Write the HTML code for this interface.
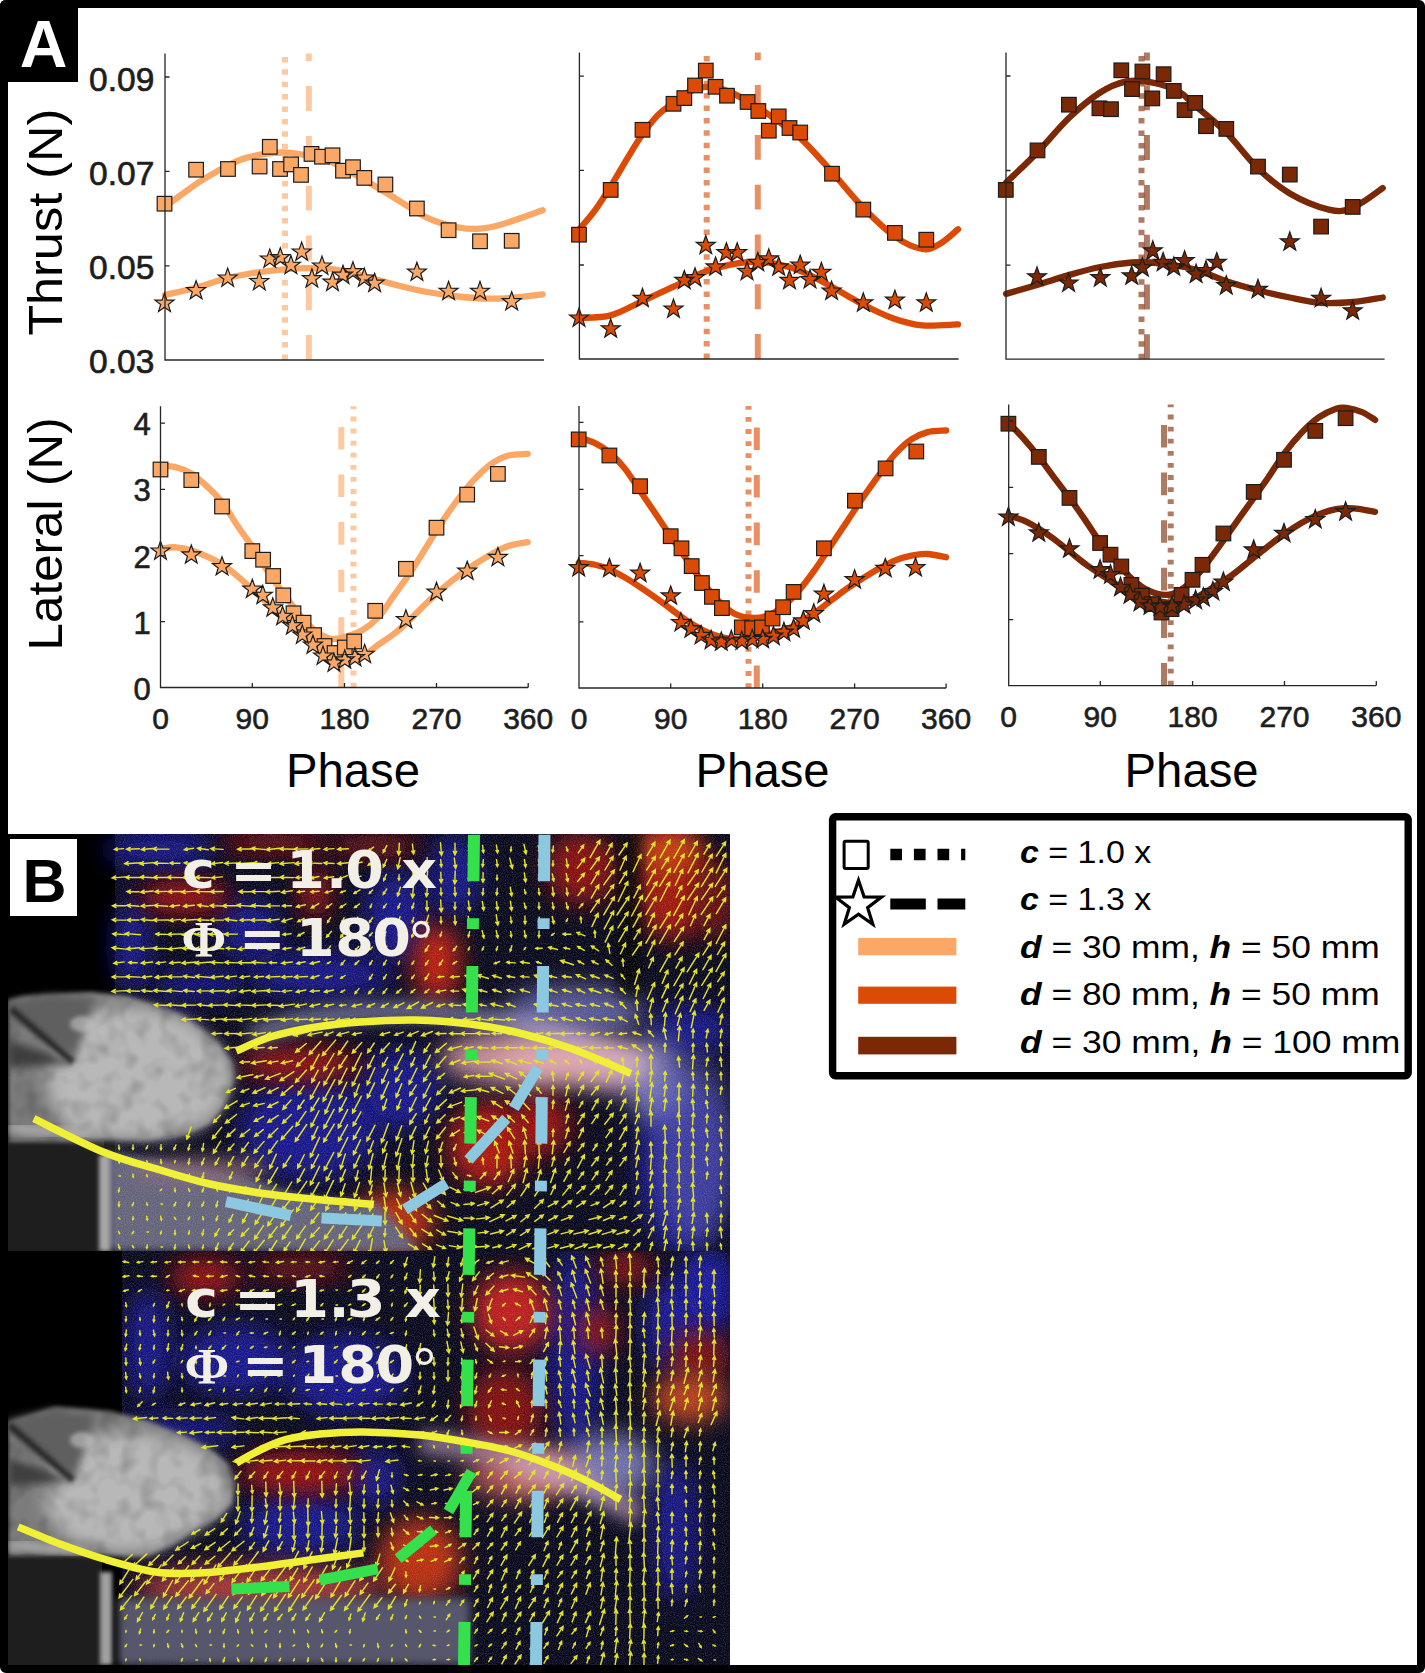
<!DOCTYPE html>
<html><head><meta charset="utf-8"><title>Figure</title>
<style>html,body{margin:0;padding:0;background:#fff;}body{width:1425px;height:1673px;overflow:hidden;}svg{display:block;}</style>
</head><body>
<svg width="1425" height="1673" viewBox="0 0 1425 1673" font-family="Liberation Sans, Arial, sans-serif">
<rect x="0" y="0" width="1425" height="1673" fill="#fff"/>
<defs>
<filter id="b2" x="-50%" y="-50%" width="200%" height="200%"><feGaussianBlur stdDeviation="2"/></filter>
<filter id="b4" x="-50%" y="-50%" width="200%" height="200%"><feGaussianBlur stdDeviation="4"/></filter>
<filter id="b8" x="-50%" y="-50%" width="200%" height="200%"><feGaussianBlur stdDeviation="8"/></filter>
<filter id="b12" x="-50%" y="-50%" width="200%" height="200%"><feGaussianBlur stdDeviation="12"/></filter>
<filter id="b20" x="-50%" y="-50%" width="200%" height="200%"><feGaussianBlur stdDeviation="20"/></filter>
<filter id="noise" x="0" y="0" width="100%" height="100%"><feTurbulence type="fractalNoise" baseFrequency="0.9" numOctaves="1" seed="3"/><feColorMatrix type="matrix" values="0 0 0 0 1  0 0 0 0 1  0 0 0 0 1  0 0 0 -2.4 1.45"/></filter>
<filter id="tex" x="0" y="0" width="100%" height="100%"><feTurbulence type="fractalNoise" baseFrequency="0.05" numOctaves="2" seed="7"/><feColorMatrix type="matrix" values="0 0 0 0 0  0 0 0 0 0  0 0 0 0 0  0 0 0 -1.6 0.9"/></filter>
<clipPath id="f1"><rect x="8" y="834" width="722" height="417"/></clipPath>
<clipPath id="f2"><rect x="8" y="1251" width="722" height="414"/></clipPath>
</defs>
<defs><clipPath id="fish1c"><polygon points="8,1000 24,996 91,992 128,996 155,1005 182,1015 201,1029 219,1044 232,1062 234,1079 224,1106 210,1124 182,1135 146,1141 110,1139 73,1142 8,1142"/></clipPath><clipPath id="fish2c"><polygon points="8,1422 55,1407 110,1411 146,1420 182,1435 210,1449 228,1464 234,1482 232,1504 215,1519 192,1531 173,1544 146,1557 110,1555 8,1556"/></clipPath></defs>
<g clip-path="url(#f1)"><rect x="8" y="834" width="722" height="417" fill="#000"/>
<rect x="115" y="834" width="615" height="417" fill="#07071c"/>
<ellipse cx="160" cy="850" rx="55" ry="18" fill="#1a1aa8" fill-opacity="0.80" filter="url(#b12)"/>
<ellipse cx="132" cy="945" rx="18" ry="45" fill="#1a1aa8" fill-opacity="0.80" filter="url(#b12)"/>
<ellipse cx="200" cy="985" rx="45" ry="14" fill="#1a1aa8" fill-opacity="0.80" filter="url(#b12)"/>
<ellipse cx="395" cy="915" rx="30" ry="45" fill="#1a1aa8" fill-opacity="0.80" filter="url(#b12)"/>
<ellipse cx="320" cy="975" rx="70" ry="22" fill="#1a1aa8" fill-opacity="0.80" filter="url(#b12)"/>
<ellipse cx="250" cy="930" rx="30" ry="30" fill="#1a1aa8" fill-opacity="0.80" filter="url(#b12)"/>
<ellipse cx="690" cy="1030" rx="40" ry="25" fill="#1a1aa8" fill-opacity="0.80" filter="url(#b12)"/>
<ellipse cx="310" cy="1130" rx="70" ry="50" fill="#1a1aa8" fill-opacity="0.80" filter="url(#b12)"/>
<ellipse cx="400" cy="1090" rx="40" ry="40" fill="#1a1aa8" fill-opacity="0.80" filter="url(#b12)"/>
<ellipse cx="683" cy="1165" rx="45" ry="90" fill="#1a1aa8" fill-opacity="0.80" filter="url(#b12)"/>
<ellipse cx="150" cy="1030" rx="40" ry="12" fill="#1a1aa8" fill-opacity="0.80" filter="url(#b12)"/>
<ellipse cx="455" cy="875" rx="25" ry="40" fill="#1a1aa8" fill-opacity="0.80" filter="url(#b12)"/>
<ellipse cx="185" cy="897" rx="45" ry="16" fill="#a80c0c" fill-opacity="0.95" filter="url(#b12)"/>
<ellipse cx="275" cy="842" rx="55" ry="10" fill="#900a0a" fill-opacity="0.95" filter="url(#b12)"/>
<ellipse cx="315" cy="893" rx="15" ry="25" fill="#a00e0e" fill-opacity="0.95" filter="url(#b12)"/>
<ellipse cx="375" cy="846" rx="45" ry="12" fill="#780808" fill-opacity="0.95" filter="url(#b12)"/>
<ellipse cx="437" cy="962" rx="24" ry="38" fill="#c41c10" fill-opacity="0.95" filter="url(#b12)"/>
<ellipse cx="582" cy="868" rx="36" ry="36" fill="#900c0c" fill-opacity="0.95" filter="url(#b12)"/>
<ellipse cx="672" cy="885" rx="38" ry="55" fill="#a8180c" fill-opacity="0.95" filter="url(#b12)"/>
<ellipse cx="668" cy="850" rx="32" ry="20" fill="#c8400e" fill-opacity="0.95" filter="url(#b12)"/>
<ellipse cx="715" cy="900" rx="20" ry="40" fill="#70100a" fill-opacity="0.95" filter="url(#b12)"/>
<ellipse cx="300" cy="1064" rx="60" ry="16" fill="#a80e0e" fill-opacity="0.95" filter="url(#b12)"/>
<ellipse cx="488" cy="1145" rx="40" ry="42" fill="#b41810" fill-opacity="0.95" filter="url(#b12)"/>
<ellipse cx="395" cy="1220" rx="40" ry="30" fill="#c03012" fill-opacity="0.95" filter="url(#b12)"/>
<ellipse cx="350" cy="1235" rx="60" ry="20" fill="#a03020" fill-opacity="0.95" filter="url(#b12)"/>
<ellipse cx="540" cy="1125" rx="30" ry="30" fill="#a01010" fill-opacity="0.95" filter="url(#b12)"/>
<ellipse cx="575" cy="1012" rx="70" ry="28" fill="#6a6ab4" fill-opacity="0.80" filter="url(#b12)"/>
<ellipse cx="520" cy="1058" rx="80" ry="26" fill="#d89aa4" fill-opacity="0.90" filter="url(#b12)"/>
<ellipse cx="615" cy="1068" rx="40" ry="22" fill="#c8a0c0" fill-opacity="0.85" filter="url(#b12)"/>
<ellipse cx="655" cy="1080" rx="30" ry="42" fill="#8c8cd4" fill-opacity="0.75" filter="url(#b12)"/>
<rect x="620" y="834" width="18" height="160" fill="#000" filter="url(#b8)"/>
<ellipse cx="695" cy="1150" rx="40" ry="95" fill="#5a5ab0" fill-opacity="0.55" filter="url(#b12)"/>
<path d="M100,1150 L240,1175 L300,1195 L380,1205 L420,1251 L100,1251 Z" fill="#62627a" filter="url(#b4)"/>
<ellipse cx="200" cy="1170" rx="70" ry="14" fill="#8a6a78" fill-opacity="0.70" filter="url(#b8)"/>
<rect x="115" y="834" width="615" height="417" filter="url(#noise)" opacity="0.16"/>
<rect x="8" y="1140" width="96" height="111" fill="#1e1e1e"/>
<rect x="99" y="1155" width="11" height="96" fill="#a8a8a8" filter="url(#b2)"/>
<polygon points="8,1000 24,996 91,992 128,996 155,1005 182,1015 201,1029 219,1044 232,1062 234,1079 224,1106 210,1124 182,1135 146,1141 110,1139 73,1142 8,1142" fill="#7c7c7c" filter="url(#b2)"/>
<polygon points="60,1030 100,1005 150,1008 190,1022 220,1048 232,1075 222,1105 200,1128 160,1138 110,1138 70,1130 50,1100 45,1070" fill="#b8b8b8" filter="url(#b8)"/>
<rect x="8" y="993" width="226" height="150" fill="#000" filter="url(#tex)" opacity="0.25" clip-path="url(#fish1c)"/>
<polygon points="8,1002 50,995 95,998 75,1060 8,1012" fill="#5e5e5e" filter="url(#b4)"/>
<ellipse cx="82" cy="1024" rx="12" ry="8" fill="#c8c8c8" fill-opacity="0.60" filter="url(#b2)"/>
<path d="M11,1009 L73,1062" stroke="#2a2a2a" stroke-width="7" filter="url(#b2)"/>
<polygon points="8,1040 76,1063 8,1068" fill="#3c3c3c" filter="url(#b4)"/>
<path d="M9,1128 L90,1134" stroke="#b4b4b4" stroke-width="8" filter="url(#b4)"/>
<path d="M250.0,1046.0 C260.3,1043.0 284.0,1032.0 311.6,1027.7 C339.2,1023.4 380.8,1019.1 415.4,1020.0 C450.0,1020.9 493.3,1028.2 519.3,1033.0 C545.3,1037.8 551.1,1041.0 571.2,1048.5 C591.3,1056.0 628.5,1073.1 640.0,1078.0" transform="translate(0,-9)" fill="none" stroke="#b0b0dc" stroke-width="20" stroke-opacity="0.55" filter="url(#b8)"/>
<ellipse cx="575" cy="1062" rx="75" ry="20" fill="#eab0b8" fill-opacity="0.80" filter="url(#b12)"/>
<path d="M123.5,848.6L114.5,849.4M117.3,850.5L114.5,849.4L117.1,847.8M139.4,848.8L126.6,849.2M130.2,850.9L126.6,849.2L130.1,847.4M152.6,848.5L141.4,849.5M144.9,850.9L141.4,849.5L144.6,847.5M169.0,849.1L153.0,848.9M156.5,850.7L153.0,848.9L156.6,847.2M193.6,848.3L184.4,849.7M187.4,850.6L184.4,849.7L187.0,847.9M208.4,849.7L197.6,848.3M200.6,850.3L197.6,848.3L201.0,847.1M223.1,849.4L210.9,848.6M214.3,850.6L210.9,848.6L214.5,847.1M252.4,848.8L237.6,849.2M241.2,850.9L237.6,849.2L241.1,847.4M266.5,849.6L251.5,848.4M254.9,850.4L251.5,848.4L255.1,847.0M279.7,848.3L266.3,849.7M269.9,851.1L266.3,849.7L269.6,847.6M294.2,849.3L279.8,848.7M283.3,850.6L279.8,848.7L283.4,847.1M308.0,848.9L294.0,849.1M297.5,850.8L294.0,849.1L297.5,847.3M319.9,848.5L310.1,849.5M313.2,850.7L310.1,849.5L312.9,847.7M333.8,848.6L324.2,849.4M327.2,850.6L324.2,849.4L327.0,847.7M348.3,848.7L337.7,849.3M341.0,850.7L337.7,849.3L340.8,847.5M373.5,847.1L368.5,850.9M370.6,850.5L368.5,850.9L369.4,849.0M386.8,845.6L383.2,852.4M385.3,850.9L383.2,852.4L383.2,849.8M399.3,843.2L398.7,854.8M400.6,851.4L398.7,854.8L397.1,851.2M412.4,844.0L413.6,854.0M414.7,850.8L413.6,854.0L411.7,851.2M440.5,842.7L441.5,855.3M442.9,851.7L441.5,855.3L439.5,851.9M455.0,843.2L455.0,854.8M456.7,851.3L455.0,854.8L453.3,851.3M468.3,845.6L469.7,852.4M470.3,850.2L469.7,852.4L468.3,850.6M482.6,845.4L483.4,852.6M484.2,850.3L483.4,852.6L482.1,850.5M496.4,845.1L497.6,852.9M498.4,850.4L497.6,852.9L496.1,850.7M511.1,846.8L510.9,851.2M511.6,849.9L510.9,851.2L510.3,849.8M524.0,844.2L526.0,853.8M526.8,850.6L526.0,853.8L524.0,851.2M538.1,845.6L539.9,852.4M540.4,850.1L539.9,852.4L538.3,850.6M553.4,846.0L552.6,852.0M553.7,850.3L552.6,852.0L551.9,850.1M566.3,846.9L567.7,851.1M567.9,849.6L567.7,851.1L566.6,850.1M578.3,852.9L583.7,845.1M580.9,846.6L583.7,845.1L583.2,848.2M590.1,857.7L599.9,840.3M596.7,842.5L599.9,840.3L599.7,844.2M605.9,854.7L612.1,843.3M608.9,845.5L612.1,843.3L612.0,847.2M618.9,855.0L627.1,843.0M623.7,844.9L627.1,843.0L626.6,846.9M647.1,855.7L654.9,842.3M651.7,844.5L654.9,842.3L654.7,846.2M660.0,857.8L670.0,840.2M666.8,842.4L670.0,840.2L669.8,844.1M673.7,858.3L684.3,839.7M681.0,841.9L684.3,839.7L684.1,843.6M688.7,856.5L697.3,841.5M694.1,843.7L697.3,841.5L697.1,845.4M703.9,854.1L710.1,843.9M706.8,846.0L710.1,843.9L709.8,847.8M716.4,856.1L725.6,841.9M722.2,843.9L725.6,841.9L725.1,845.8M141.3,862.7L124.7,863.7M128.3,865.2L124.7,863.7L128.1,861.7M154.0,862.6L140.0,863.8M143.6,865.2L140.0,863.8L143.3,861.7M168.0,863.4L154.0,863.0M157.5,864.9L154.0,863.0L157.5,861.4M180.0,863.3L170.0,863.1M173.0,864.7L170.0,863.1L173.0,861.7M193.7,863.5L184.3,862.9M187.0,864.5L184.3,862.9L187.2,861.7M222.5,862.5L211.5,863.9M215.0,865.1L211.5,863.9L214.6,861.8M237.2,862.9L224.8,863.5M228.4,865.1L224.8,863.5L228.3,861.6M253.0,862.6L237.0,863.8M240.6,865.3L237.0,863.8L240.3,861.8M264.5,863.6L253.5,862.8M256.7,864.7L253.5,862.8L256.9,861.4M278.3,862.6L267.7,863.8M271.1,865.0L267.7,863.8L270.7,861.9M294.0,862.6L280.0,863.8M283.7,865.2L280.0,863.8L283.4,861.7M306.9,862.6L295.1,863.8M298.8,865.2L295.1,863.8L298.4,861.7M321.8,863.5L308.2,862.9M311.7,864.8L308.2,862.9L311.8,861.3M334.0,863.5L324.0,862.9M326.9,864.5L324.0,862.9L327.1,861.6M348.2,862.7L337.8,863.7M341.1,865.0L337.8,863.7L340.8,861.8M362.1,862.0L351.9,864.4M355.3,865.2L351.9,864.4L354.6,862.2M373.8,861.2L368.2,865.2M370.5,864.8L368.2,865.2L369.3,863.2M386.8,859.3L383.2,867.1M385.4,865.3L383.2,867.1L383.1,864.2M400.2,857.7L397.8,868.7M400.2,865.8L397.8,868.7L396.8,865.0M412.5,860.1L413.5,866.3M414.1,864.3L413.5,866.3L412.3,864.6M427.2,857.6L426.8,868.8M428.6,865.5L426.8,868.8L425.2,865.4M440.7,859.6L441.3,866.8M442.2,864.5L441.3,866.8L440.1,864.7M454.3,858.1L455.7,868.3M456.8,865.0L455.7,868.3L453.8,865.5M468.9,860.1L469.1,866.3M470.0,864.4L469.1,866.3L468.1,864.5M483.4,859.7L482.6,866.7M483.9,864.7L482.6,866.7L481.8,864.5M496.6,859.7L497.4,866.7M498.2,864.5L497.4,866.7L496.1,864.7M509.7,858.1L512.3,868.3M513.0,864.9L512.3,868.3L510.0,865.6M524.4,859.4L525.6,867.0M526.3,864.5L525.6,867.0L524.1,864.9M538.3,859.6L539.7,866.8M540.4,864.4L539.7,866.8L538.2,864.9M553.0,860.6L553.0,865.8M553.8,864.2L553.0,865.8L552.2,864.2M566.3,859.0L567.7,867.4M568.5,864.7L567.7,867.4L566.0,865.1M577.3,868.1L584.7,858.3M581.2,860.1L584.7,858.3L584.0,862.2M590.5,869.4L599.5,857.0M596.0,858.8L599.5,857.0L598.9,860.9M604.9,870.0L613.1,856.4M609.8,858.5L613.1,856.4L612.8,860.3M619.9,870.2L626.1,856.2M623.1,858.7L626.1,856.2L626.3,860.2M633.0,871.7L641.0,854.7M637.9,857.1L641.0,854.7L641.1,858.6M646.6,870.0L655.4,856.4M652.0,858.4L655.4,856.4L655.0,860.3M661.4,868.9L668.6,857.5M665.3,859.5L668.6,857.5L668.2,861.4M673.9,872.3L684.1,854.1M680.9,856.3L684.1,854.1L683.9,858.0M688.0,872.8L698.0,853.6M694.9,855.9L698.0,853.6L698.0,857.5M701.8,872.0L712.2,854.4M708.9,856.5L712.2,854.4L712.0,858.3M716.2,872.9L725.8,853.5M722.7,855.9L725.8,853.5L725.8,857.4M125.8,876.9L112.2,877.9M115.9,879.4L112.2,877.9L115.6,875.9M140.4,877.5L125.6,877.3M129.0,879.1L125.6,877.3L129.1,875.6M153.8,877.8L140.2,877.0M143.6,879.0L140.2,877.0L143.8,875.5M168.5,877.3L153.5,877.5M157.1,879.2L153.5,877.5L157.0,875.7M182.6,877.6L167.4,877.2M170.9,879.1L167.4,877.2L170.9,875.6M195.2,877.2L182.8,877.6M186.4,879.2L182.8,877.6L186.3,875.7M210.2,877.6L195.8,877.2M199.2,879.0L195.8,877.2L199.3,875.5M222.3,876.9L211.7,877.9M215.0,879.2L211.7,877.9L214.7,876.0M251.4,877.2L238.6,877.6M242.2,879.3L238.6,877.6L242.0,875.8M265.6,877.8L252.4,877.0M255.8,879.0L252.4,877.0L256.0,875.5M279.6,877.5L266.4,877.3M269.9,879.1L266.4,877.3L270.0,875.6M293.9,877.6L280.1,877.2M283.6,879.0L280.1,877.2L283.7,875.5M306.0,877.2L296.0,877.6M299.0,879.0L296.0,877.6L298.9,876.0M318.9,876.5L311.1,878.3M313.7,879.0L311.1,878.3L313.1,876.6M333.6,876.8L324.4,878.0M327.3,879.0L324.4,878.0L327.0,876.3M347.2,875.6L338.8,879.2M341.8,879.4L338.8,879.2L340.8,876.8M360.9,876.1L353.1,878.7M355.9,879.1L353.1,878.7L355.1,876.8M386.3,874.3L383.7,880.5M385.4,879.0L383.7,880.5L383.6,878.3M399.1,874.7L398.9,880.1M399.8,878.5L398.9,880.1L398.1,878.4M413.0,872.3L413.0,882.5M414.5,879.5L413.0,882.5L411.5,879.4M427.7,870.9L426.3,883.9M428.4,880.5L426.3,883.9L425.0,880.2M440.8,872.2L441.2,882.6M442.7,879.4L441.2,882.6L439.5,879.6M455.2,870.9L454.8,883.9M456.7,880.4L454.8,883.9L453.2,880.3M469.1,874.5L468.9,880.3M469.8,878.6L468.9,880.3L468.1,878.5M483.1,872.6L482.9,882.2M484.4,879.3L482.9,882.2L481.5,879.3M497.0,874.9L497.0,879.9M497.8,878.4L497.0,879.9L496.3,878.4M524.4,873.0L525.6,881.8M526.6,879.0L525.6,881.8L523.9,879.3M538.5,874.6L539.5,880.2M540.0,878.4L539.5,880.2L538.3,878.7M552.3,873.9L553.7,880.9M554.3,878.6L553.7,880.9L552.2,879.0M566.2,873.4L567.8,881.4M568.5,878.8L567.8,881.4L566.1,879.2M577.5,881.5L584.5,873.3M581.2,874.7L584.5,873.3L583.6,876.8M591.1,883.9L598.9,870.9M595.6,873.0L598.9,870.9L598.6,874.8M603.7,884.8L614.3,870.0M610.9,871.8L614.3,870.0L613.7,873.8M619.4,883.4L626.6,871.4M623.3,873.5L626.6,871.4L626.3,875.3M646.7,885.1L655.3,869.7M652.0,871.9L655.3,869.7L655.1,873.6M659.5,886.3L670.5,868.5M667.1,870.6L670.5,868.5L670.1,872.4M675.3,885.3L682.7,869.5M679.7,871.9L682.7,869.5L682.8,873.4M687.7,885.0L698.3,869.8M694.9,871.7L698.3,869.8L697.7,873.7M701.3,886.6L712.7,868.2M709.3,870.3L712.7,868.2L712.3,872.1M715.2,886.4L726.8,868.4M723.5,870.4L726.8,868.4L726.4,872.3M139.0,891.7L127.0,891.5M130.4,893.3L127.0,891.5L130.5,889.8M153.2,891.0L140.8,892.2M144.4,893.6L140.8,892.2L144.1,890.1M166.9,891.4L155.1,891.8M158.7,893.4L155.1,891.8L158.5,889.9M181.9,891.4L168.1,891.8M171.7,893.4L168.1,891.8L171.6,889.9M196.4,891.1L181.6,892.1M185.2,893.6L181.6,892.1L185.0,890.1M210.2,891.8L195.8,891.4M199.2,893.2L195.8,891.4L199.3,889.7M223.5,891.5L210.5,891.7M214.1,893.4L210.5,891.7L214.0,889.9M251.0,891.7L239.0,891.5M242.5,893.3L239.0,891.5L242.6,889.8M266.5,891.6L251.5,891.6M255.0,893.4L251.5,891.6L255.0,889.9M279.9,891.2L266.1,892.0M269.7,893.5L266.1,892.0L269.5,890.0M292.3,890.8L281.7,892.4M285.1,893.5L281.7,892.4L284.6,890.3M304.5,891.2L297.5,892.0M299.7,892.8L297.5,892.0L299.5,890.7M319.1,891.3L310.9,891.9M313.4,893.0L310.9,891.9L313.2,890.5M332.5,890.6L325.5,892.6M327.9,893.1L325.5,892.6L327.3,891.0M345.3,890.7L340.7,892.5M342.3,892.6L340.7,892.5L341.8,891.3M360.0,889.8L354.0,893.4M356.3,893.2L354.0,893.4L355.3,891.4M372.6,890.0L369.4,893.2M370.8,892.7L369.4,893.2L369.9,891.8M386.8,888.9L383.2,894.3M385.1,893.2L383.2,894.3L383.5,892.1M400.4,887.2L397.6,896.0M399.7,893.8L397.6,896.0L397.1,892.9M413.5,885.5L412.5,897.7M414.5,894.3L412.5,897.7L411.0,894.0M427.5,886.7L426.5,896.5M428.3,893.7L426.5,896.5L425.3,893.4M440.8,888.0L441.2,895.2M442.2,893.0L441.2,895.2L440.0,893.1M454.7,887.3L455.3,895.9M456.4,893.2L455.3,895.9L453.8,893.4M469.0,888.4L469.0,894.8M470.0,892.9L469.0,894.8L468.1,892.9M483.3,888.4L482.7,894.8M483.8,893.0L482.7,894.8L481.9,892.8M497.3,888.3L496.7,894.9M497.9,893.0L496.7,894.9L495.9,892.8M510.3,887.3L511.7,895.9M512.6,893.1L511.7,895.9L510.0,893.5M524.4,889.4L525.6,893.8M525.9,892.3L525.6,893.8L524.6,892.7M538.7,888.5L539.3,894.7M540.0,892.8L539.3,894.7L538.2,892.9M552.5,887.3L553.5,895.9M554.5,893.2L553.5,895.9L551.9,893.5M566.6,887.9L567.4,895.3M568.3,893.0L567.4,895.3L566.1,893.2M577.9,895.5L584.1,887.7M581.1,889.1L584.1,887.7L583.4,891.0M591.2,898.2L598.8,885.0M595.6,887.1L598.8,885.0L598.6,888.9M604.2,898.4L613.8,884.8M610.4,886.6L613.8,884.8L613.2,888.6M618.2,901.5L627.8,881.7M624.7,884.1L627.8,881.7L627.9,885.6M633.8,897.9L640.2,885.3M637.1,887.6L640.2,885.3L640.2,889.2M645.0,901.4L657.0,881.8M653.6,883.9L657.0,881.8L656.6,885.7M660.3,901.0L669.7,882.2M666.5,884.5L669.7,882.2L669.7,886.1M676.2,897.3L681.8,885.9M678.7,888.3L681.8,885.9L681.8,889.8M687.5,899.8L698.5,883.4M695.1,885.3L698.5,883.4L698.0,887.3M701.5,899.6L712.5,883.6M709.1,885.5L712.5,883.6L712.0,887.5M717.0,897.2L725.0,886.0M721.6,887.8L725.0,886.0L724.4,889.8M125.6,905.8L112.4,905.8M115.9,907.6L112.4,905.8L115.9,904.1M138.9,906.3L127.1,905.3M130.4,907.4L127.1,905.3L130.7,903.9M152.8,905.5L141.2,906.1M144.8,907.7L141.2,906.1L144.6,904.2M167.7,906.2L154.3,905.4M157.7,907.4L154.3,905.4L157.9,903.9M179.5,905.3L170.5,906.3M173.4,907.3L170.5,906.3L173.1,904.7M194.3,905.3L183.7,906.3M187.0,907.6L183.7,906.3L186.7,904.4M208.1,906.5L197.9,905.1M200.7,907.1L197.9,905.1L201.2,904.0M223.7,906.0L210.3,905.6M213.8,907.5L210.3,905.6L213.9,904.0M239.3,905.8L222.7,905.8M226.2,907.6L222.7,905.8L226.2,904.1M252.9,906.5L237.1,905.1M240.4,907.2L237.1,905.1L240.7,903.7M266.2,906.3L251.8,905.3M255.1,907.3L251.8,905.3L255.4,903.8M279.4,905.9L266.6,905.7M270.1,907.5L266.6,905.7L270.2,904.0M291.5,905.7L282.5,905.9M285.3,907.2L282.5,905.9L285.2,904.5M305.4,904.7L296.6,906.9M299.6,907.6L296.6,906.9L298.9,904.9M318.7,903.6L311.3,908.0M314.2,907.8L311.3,908.0L312.9,905.6M331.7,903.7L326.3,907.9M328.5,907.4L326.3,907.9L327.3,905.8M345.8,904.0L340.2,907.6M342.4,907.3L340.2,907.6L341.4,905.7M359.4,904.0L354.6,907.6M356.6,907.3L354.6,907.6L355.5,905.8M371.7,904.0L370.3,907.6M371.3,906.8L370.3,907.6L370.2,906.3M386.5,903.9L383.5,907.7M385.0,907.0L383.5,907.7L383.8,906.1M400.0,903.4L398.0,908.2M399.3,907.1L398.0,908.2L397.9,906.5M413.9,903.1L412.1,908.5M413.5,907.1L412.1,908.5L411.8,906.6M426.8,901.0L427.2,910.6M428.5,907.7L427.2,910.6L425.7,907.8M440.7,899.9L441.3,911.7M442.9,908.1L441.3,911.7L439.4,908.3M455.0,902.2L455.0,909.4M456.1,907.2L455.0,909.4L453.9,907.2M468.4,900.9L469.6,910.7M470.7,907.6L469.6,910.7L467.8,907.9M482.3,901.4L483.7,910.2M484.6,907.3L483.7,910.2L482.0,907.8M496.4,901.7L497.6,909.9M498.5,907.2L497.6,909.9L496.0,907.6M510.4,901.2L511.6,910.4M512.6,907.5L511.6,910.4L509.9,907.8M524.2,903.1L525.8,908.5M526.1,906.7L525.8,908.5L524.5,907.1M538.9,902.7L539.1,908.9M540.0,907.0L539.1,908.9L538.1,907.1M552.5,902.6L553.5,909.0M554.2,906.9L553.5,909.0L552.2,907.2M566.2,902.7L567.8,908.9M568.3,906.8L567.8,908.9L566.4,907.3M579.2,907.9L582.8,903.7M581.1,904.4L582.8,903.7L582.3,905.5M590.6,912.2L599.4,899.4M596.0,901.3L599.4,899.4L598.9,903.3M603.7,914.8L614.3,896.8M611.0,898.9L614.3,896.8L614.1,900.7M617.0,915.0L629.0,896.6M625.7,898.6L629.0,896.6L628.6,900.5M631.6,916.0L642.4,895.6M639.2,897.9L642.4,895.6L642.3,899.5M645.8,914.6L656.2,897.0M652.9,899.1L656.2,897.0L655.9,900.9M673.7,915.4L684.3,896.2M681.1,898.4L684.3,896.2L684.1,900.1M688.8,914.8L697.2,896.8M694.2,899.2L697.2,896.8L697.3,900.7M701.2,914.4L712.8,897.2M709.4,899.1L712.8,897.2L712.3,901.1M716.3,913.7L725.7,897.9M722.4,900.0L725.7,897.9L725.4,901.8M125.7,920.1L112.3,919.9M115.7,921.7L112.3,919.9L115.8,918.2M138.9,920.0L127.1,920.0M130.6,921.8L127.1,920.0L130.6,918.3M152.8,920.5L141.2,919.5M144.5,921.5L141.2,919.5L144.8,918.1M168.7,919.9L153.3,920.1M156.8,921.8L153.3,920.1L156.8,918.3M180.3,919.4L169.7,920.6M173.1,921.8L169.7,920.6L172.7,918.6M196.1,919.5L181.9,920.5M185.6,922.0L181.9,920.5L185.3,918.5M208.7,920.2L197.3,919.8M200.7,921.6L197.3,919.8L200.8,918.2M223.5,920.1L210.5,919.9M214.0,921.7L210.5,919.9L214.0,918.2M236.9,920.7L225.1,919.3M228.4,921.4L225.1,919.3L228.8,918.0M249.8,919.8L240.2,920.2M243.1,921.5L240.2,920.2L243.0,918.6M267.0,919.8L251.0,920.2M254.6,921.9L251.0,920.2L254.5,918.4M279.1,919.2L266.9,920.8M270.6,922.1L266.9,920.8L270.1,918.6M292.0,918.4L282.0,921.6M285.5,922.2L282.0,921.6L284.5,919.1M304.2,918.3L297.8,921.7M300.3,921.6L297.8,921.7L299.2,919.7M317.2,918.8L312.8,921.2M314.5,921.2L312.8,921.2L313.7,919.8M330.5,917.6L327.5,922.4M329.1,921.4L327.5,922.4L327.7,920.5M344.1,917.7L341.9,922.3M343.3,921.2L341.9,922.3L341.9,920.6M357.7,917.3L356.3,922.7M357.5,921.3L356.3,922.7L355.9,920.8M372.6,917.5L369.4,922.5M371.1,921.5L369.4,922.5L369.6,920.5M386.5,918.0L383.5,922.0M385.0,921.2L383.5,922.0L383.8,920.3M400.1,916.7L397.9,923.3M399.6,921.6L397.9,923.3L397.6,921.0M413.7,917.5L412.3,922.5M413.5,921.2L412.3,922.5L412.0,920.8M428.5,915.2L425.5,924.8M427.9,922.4L425.5,924.8L425.0,921.5M440.9,916.8L441.1,923.2M442.0,921.2L441.1,923.2L440.1,921.3M454.7,915.6L455.3,924.4M456.5,921.7L455.3,924.4L453.8,921.9M468.2,916.3L469.8,923.7M470.4,921.3L469.8,923.7L468.2,921.7M496.2,914.8L497.8,925.2M498.9,921.8L497.8,925.2L495.8,922.3M510.6,917.0L511.4,923.0M512.1,921.1L511.4,923.0L510.3,921.3M524.9,916.1L525.1,923.9M526.2,921.5L525.1,923.9L523.9,921.6M539.2,917.1L538.8,922.9M539.8,921.2L538.8,922.9L538.1,921.1M552.2,916.5L553.8,923.5M554.4,921.1L553.8,923.5L552.3,921.6M567.6,918.7L566.4,921.3M567.2,920.7L566.4,921.3L566.4,920.3M581.3,922.8L580.7,917.2M580.0,919.0L580.7,917.2L581.7,918.8M591.9,926.6L598.1,913.4M595.0,915.9L598.1,913.4L598.2,917.3M604.3,928.9L613.7,911.1M610.5,913.3L613.7,911.1L613.6,915.0M617.9,927.9L628.1,912.1M624.7,914.1L628.1,912.1L627.7,915.9M633.0,927.1L641.0,912.9M637.8,915.1L641.0,912.9L640.8,916.8M647.8,926.7L654.2,913.3M651.1,915.7L654.2,913.3L654.3,917.2M659.9,928.2L670.1,911.8M666.7,913.8L670.1,911.8L669.7,915.7M675.2,925.8L682.8,914.2M679.4,916.2L682.8,914.2L682.4,918.1M690.5,925.8L695.5,914.2M692.5,916.7L695.5,914.2L695.7,918.1M704.0,925.6L710.0,914.4M706.8,916.7L710.0,914.4L709.9,918.3M125.2,934.6L112.8,933.8M116.1,935.8L112.8,933.8L116.4,932.3M140.6,934.8L125.4,933.6M128.7,935.6L125.4,933.6L129.0,932.1M166.2,934.4L155.8,934.0M158.9,935.7L155.8,934.0L159.0,932.6M182.2,933.9L167.8,934.5M171.4,936.1L167.8,934.5L171.3,932.6M195.6,933.5L182.4,934.9M186.0,936.3L182.4,934.9L185.7,932.8M210.1,933.7L195.9,934.7M199.5,936.2L195.9,934.7L199.2,932.7M224.7,933.9L209.3,934.5M212.8,936.1L209.3,934.5L212.7,932.6M237.3,934.1L224.7,934.3M228.3,936.0L224.7,934.3L228.2,932.5M265.4,934.4L252.6,934.0M256.1,935.8L252.6,934.0L256.2,932.4M278.7,934.0L267.3,934.4M270.8,936.0L267.3,934.4L270.7,932.6M291.1,933.8L282.9,934.6M285.5,935.6L282.9,934.6L285.2,933.1M304.1,932.5L297.9,935.9M300.3,935.8L297.9,935.9L299.2,934.0M317.2,932.8L312.8,935.6M314.5,935.4L312.8,935.6L313.7,934.1M331.5,931.3L326.5,937.1M328.9,936.1L326.5,937.1L327.1,934.6M345.3,931.1L340.7,937.3M343.0,936.1L340.7,937.3L341.1,934.7M357.8,932.7L356.2,935.7M357.1,935.0L356.2,935.7L356.3,934.6M372.4,932.7L369.6,935.7M370.9,935.2L369.6,935.7L370.0,934.4M386.0,931.8L384.0,936.6M385.3,935.5L384.0,936.6L383.9,934.9M399.3,931.9L398.7,936.5M399.6,935.2L398.7,936.5L398.2,935.0M414.1,931.3L411.9,937.1M413.5,935.7L411.9,937.1L411.7,935.1M428.1,931.1L425.9,937.3M427.5,935.8L425.9,937.3L425.6,935.1M441.7,932.0L440.3,936.4M441.4,935.3L440.3,936.4L440.0,934.9M469.6,931.6L468.4,936.8M469.5,935.4L468.4,936.8L468.0,935.0M482.1,930.6L483.9,937.8M484.4,935.4L483.9,937.8L482.3,935.9M496.2,930.6L497.8,937.8M498.4,935.4L497.8,937.8L496.2,935.9M510.7,931.5L511.3,936.9M511.9,935.2L511.3,936.9L510.3,935.4M524.3,930.8L525.7,937.6M526.3,935.4L525.7,937.6L524.3,935.8M539.1,931.0L538.9,937.4M539.9,935.5L538.9,937.4L538.0,935.5M554.3,933.2L551.7,935.2M552.8,935.0L551.7,935.2L552.2,934.2M570.9,934.3L563.1,934.1M565.4,935.3L563.1,934.1L565.5,933.0M585.0,935.8L577.0,932.6M578.9,934.8L577.0,932.6L579.9,932.3M595.2,937.6L594.8,930.8M593.9,932.9L594.8,930.8L595.9,932.8M605.2,942.1L612.8,926.3M609.7,928.7L612.8,926.3L612.9,930.2M618.7,941.6L627.3,926.8M624.0,929.0L627.3,926.8L627.0,930.7M633.9,939.4L640.1,929.0M636.8,931.1L640.1,929.0L639.8,932.9M645.9,943.1L656.1,925.3M652.8,927.5L656.1,925.3L655.8,929.2M659.6,943.5L670.4,924.9M667.2,927.1L670.4,924.9L670.2,928.9M674.3,941.4L683.7,927.0M680.3,929.0L683.7,927.0L683.2,930.9M704.1,939.6L709.9,928.8M706.7,931.1L709.9,928.8L709.8,932.7M716.2,943.5L725.8,924.9M722.7,927.2L725.8,924.9L725.8,928.8M125.8,949.1L112.2,947.7M115.5,949.8L112.2,947.7L115.9,946.3M139.4,947.8L126.6,949.0M130.2,950.4L126.6,949.0L129.9,946.9M153.7,947.9L140.3,948.9M144.0,950.4L140.3,948.9L143.7,946.9M168.5,948.6L153.5,948.2M157.0,950.0L153.5,948.2L157.1,946.5M181.6,947.7L168.4,949.1M172.1,950.5L168.4,949.1L171.7,947.0M195.6,948.5L182.4,948.3M185.9,950.1L182.4,948.3L185.9,946.6M210.5,948.1L195.5,948.7M199.1,950.3L195.5,948.7L198.9,946.8M223.8,948.8L210.2,948.0M213.6,950.0L210.2,948.0L213.8,946.5M235.7,948.6L226.3,948.2M229.1,949.8L226.3,948.2L229.2,946.9M251.7,947.6L238.3,949.2M241.9,950.5L238.3,949.2L241.6,947.0M262.7,948.6L255.3,948.2M257.5,949.4L255.3,948.2L257.6,947.2M278.1,947.3L267.9,949.5M271.3,950.4L267.9,949.5L270.6,947.3M291.1,947.8L282.9,949.0M285.5,949.9L282.9,949.0L285.2,947.4M304.8,947.3L297.2,949.5M299.8,950.0L297.2,949.5L299.2,947.7M316.7,947.2L313.3,949.6M314.7,949.4L313.3,949.6L314.0,948.4M330.5,945.9L327.5,950.9M329.1,949.8L327.5,950.9L327.6,948.9M345.2,946.6L340.8,950.2M342.7,949.8L340.8,950.2L341.6,948.5M358.7,946.5L355.3,950.3M356.9,949.7L355.3,950.3L355.7,948.7M372.5,947.1L369.5,949.7M370.8,949.4L369.5,949.7L370.0,948.5M386.9,946.2L383.1,950.6M384.9,949.8L383.1,950.6L383.6,948.7M400.4,946.2L397.6,950.6M399.1,949.7L397.6,950.6L397.8,948.9M428.7,945.4L425.3,951.4M427.2,950.1L425.3,951.4L425.4,949.1M442.0,947.2L440.0,949.6M441.0,949.2L440.0,949.6L440.2,948.6M456.7,946.2L453.3,950.6M455.0,949.8L453.3,950.6L453.7,948.8M469.6,946.9L468.4,949.9M469.2,949.2L468.4,949.9L468.3,948.8M483.7,946.8L482.3,950.0M483.2,949.2L482.3,950.0L482.3,948.8M497.6,946.6L496.4,950.2M497.3,949.3L496.4,950.2L496.2,948.9M511.8,945.7L510.2,951.1M511.5,949.7L510.2,951.1L509.9,949.3M525.7,947.5L524.3,949.3M525.0,949.0L524.3,949.3L524.5,948.6M542.1,948.3L535.9,948.5M537.8,949.4L535.9,948.5L537.7,947.5M557.4,949.5L548.6,947.3M550.9,949.3L548.6,947.3L551.6,946.6M569.8,949.0L564.2,947.8M565.7,949.0L564.2,947.8L566.1,947.3M584.3,950.3L577.7,946.5M579.1,948.6L577.7,946.5L580.2,946.6M598.6,950.8L591.4,946.0M592.8,948.5L591.4,946.0L594.3,946.3M609.8,953.2L608.2,943.6M607.3,946.7L608.2,943.6L610.1,946.2M620.5,953.7L625.5,943.1M622.4,945.5L625.5,943.1L625.6,947.0M632.5,955.0L641.5,941.8M638.1,943.7L641.5,941.8L641.0,945.7M647.3,956.2L654.7,940.6M651.7,943.0L654.7,940.6L654.8,944.5M674.8,954.8L683.2,942.0M679.8,944.0L683.2,942.0L682.7,945.9M702.9,954.9L711.1,941.9M707.7,943.9L711.1,941.9L710.7,945.8M717.4,954.6L724.6,942.2M721.3,944.4L724.6,942.2L724.3,946.1M124.2,961.9L113.8,963.3M117.1,964.5L113.8,963.3L116.7,961.3M137.2,962.7L128.8,962.5M131.3,963.8L128.8,962.5L131.4,961.3M152.7,962.0L141.3,963.2M144.9,964.6L141.3,963.2L144.5,961.1M165.7,961.9L156.3,963.3M159.3,964.3L156.3,963.3L158.9,961.5M180.2,962.2L169.8,963.0M173.1,964.3L169.8,963.0L172.8,961.2M196.0,962.0L182.0,963.2M185.7,964.6L182.0,963.2L185.4,961.2M210.7,962.0L195.3,963.2M198.9,964.7L195.3,963.2L198.6,961.2M222.9,962.9L211.1,962.3M214.5,964.2L211.1,962.3L214.7,960.7M237.1,962.9L224.9,962.3M228.3,964.2L224.9,962.3L228.5,960.7M251.8,962.7L238.2,962.5M241.6,964.3L238.2,962.5L241.7,960.8M266.0,963.1L252.0,962.1M255.3,964.1L252.0,962.1L255.6,960.6M276.7,962.7L269.3,962.5M271.5,963.7L269.3,962.5L271.6,961.4M292.3,962.0L281.7,963.2M285.1,964.4L281.7,963.2L284.7,961.3M305.2,961.7L296.8,963.5M299.6,964.2L296.8,963.5L299.1,961.7M319.6,961.5L310.4,963.7M313.5,964.4L310.4,963.7L312.8,961.7M330.5,961.7L327.5,963.5M328.7,963.4L327.5,963.5L328.1,962.5M344.8,960.4L341.2,964.8M343.0,964.0L341.2,964.8L341.6,963.0M358.9,960.8L355.1,964.4M356.8,963.9L355.1,964.4L355.7,962.8M372.2,960.6L369.8,964.6M371.1,963.7L369.8,964.6L369.9,963.0M386.4,960.2L383.6,965.0M385.2,964.0L383.6,965.0L383.7,963.1M399.5,961.1L398.5,964.1M399.2,963.3L398.5,964.1L398.3,963.0M413.9,961.0L412.1,964.2M413.1,963.5L412.1,964.2L412.1,963.0M428.4,960.4L425.6,964.8M427.1,963.9L425.6,964.8L425.8,963.1M442.6,960.1L439.4,965.1M441.1,964.1L439.4,965.1L439.6,963.1M456.8,961.4L453.2,963.8M454.6,963.6L453.2,963.8L453.9,962.5M499.6,961.5L494.4,963.7M496.3,963.8L494.4,963.7L495.7,962.2M515.2,962.9L506.8,962.3M509.2,963.7L506.8,962.3L509.4,961.2M529.2,963.3L520.8,961.9M523.1,963.6L520.8,961.9L523.5,961.0M541.3,963.5L536.7,961.7M537.8,962.9L536.7,961.7L538.3,961.5M573.4,964.7L560.6,960.5M563.4,963.3L560.6,960.5L564.5,960.0M583.8,964.2L578.2,961.0M579.4,962.8L578.2,961.0L580.4,961.1M598.0,964.2L592.0,961.0M593.3,962.9L592.0,961.0L594.3,961.0M612.0,965.3L606.0,959.9M607.0,962.4L606.0,959.9L608.6,960.6M623.3,966.2L622.7,959.0M621.8,961.2L622.7,959.0L624.0,961.1M648.7,967.8L653.3,957.4M650.3,959.8L653.3,957.4L653.5,961.2M659.9,971.7L670.1,953.5M666.9,955.7L670.1,953.5L669.9,957.4M675.9,968.1L682.1,957.1M678.9,959.3L682.1,957.1L681.9,961.0M687.2,971.9L698.8,953.3M695.5,955.3L698.8,953.3L698.5,957.2M702.9,969.7L711.1,955.5M707.9,957.6L711.1,955.5L710.9,959.4M716.1,971.4L725.9,953.8M722.6,956.0L725.9,953.8L725.7,957.7M125.9,976.7L112.1,976.9M115.6,978.6L112.1,976.9L115.6,975.1M140.0,977.1L126.0,976.5M129.4,978.4L126.0,976.5L129.5,974.9M151.8,976.2L142.2,977.4M145.3,978.5L142.2,977.4L144.9,975.6M166.8,976.2L155.2,977.4M158.9,978.8L155.2,977.4L158.5,975.3M181.9,976.9L168.1,976.7M171.6,978.5L168.1,976.7L171.6,975.0M194.4,977.5L183.6,976.1M186.6,978.1L183.6,976.1L187.1,974.9M210.4,977.5L195.6,976.1M198.9,978.2L195.6,976.1L199.2,974.7M223.2,976.2L210.8,977.4M214.5,978.8L210.8,977.4L214.1,975.3M236.4,976.1L225.6,977.5M229.1,978.7L225.6,977.5L228.6,975.5M249.7,976.1L240.3,977.5M243.3,978.5L240.3,977.5L242.9,975.7M263.6,976.5L254.4,977.1M257.3,978.3L254.4,977.1L257.1,975.6M279.9,976.5L266.1,977.1M269.6,978.7L266.1,977.1L269.5,975.2M292.1,976.5L281.9,977.1M285.0,978.5L281.9,977.1L284.8,975.4M307.6,976.5L294.4,977.1M298.0,978.7L294.4,977.1L297.8,975.2M319.1,975.5L310.9,978.1M313.8,978.6L310.9,978.1L313.0,976.1M332.3,975.9L325.7,977.7M327.9,978.1L325.7,977.7L327.4,976.2M345.1,975.5L340.9,978.1M342.5,978.0L340.9,978.1L341.8,976.7M372.5,974.3L369.5,979.3M371.1,978.3L369.5,979.3L369.6,977.3M386.3,974.7L383.7,978.9M385.1,978.0L383.7,978.9L383.9,977.2M400.9,975.2L397.1,978.4M398.7,978.0L397.1,978.4L397.8,976.8M414.3,975.1L411.7,978.5M413.0,977.9L411.7,978.5L412.0,977.1M428.8,973.9L425.2,979.7M427.2,978.5L425.2,979.7L425.4,977.4M443.9,976.5L438.1,977.1M439.9,977.8L438.1,977.1L439.8,976.0M459.2,976.5L450.8,977.1M453.4,978.2L450.8,977.1L453.2,975.7M472.8,978.0L465.2,975.6M467.1,977.4L465.2,975.6L467.9,975.2M488.4,978.5L477.6,975.1M480.4,977.7L477.6,975.1L481.4,974.5M501.3,978.2L492.7,975.4M494.9,977.5L492.7,975.4L495.7,974.9M514.7,977.5L507.3,976.1M509.3,977.6L507.3,976.1L509.7,975.4M529.0,977.1L521.0,976.5M523.3,977.9L521.0,976.5L523.5,975.5M543.6,978.3L534.4,975.3M536.7,977.6L534.4,975.3L537.6,974.8M556.7,977.6L549.3,976.0M551.3,977.6L549.3,976.0L551.7,975.4M571.3,977.3L562.7,976.3M565.1,977.9L562.7,976.3L565.4,975.3M585.6,978.9L576.4,974.7M578.5,977.3L576.4,974.7L579.8,974.6M599.2,978.3L590.8,975.3M592.9,977.5L590.8,975.3L593.8,974.9M613.0,978.4L605.0,975.2M606.9,977.4L605.0,975.2L607.9,975.0M624.8,979.1L621.2,974.5M621.6,976.4L621.2,974.5L623.0,975.3M634.7,984.3L639.3,969.3M636.6,972.1L639.3,969.3L639.9,973.1M662.2,983.4L667.8,970.2M664.8,972.7L667.8,970.2L668.1,974.1M673.9,985.7L684.1,967.9M680.8,970.1L684.1,967.9L683.8,971.8M689.4,984.1L696.6,969.5M693.5,971.8L696.6,969.5L696.7,973.4M701.7,985.3L712.3,968.3M708.9,970.3L712.3,968.3L711.9,972.2M717.7,981.6L724.3,972.0M720.9,973.9L724.3,972.0L723.7,975.9M126.1,990.6L111.9,991.4M115.5,992.9L111.9,991.4L115.3,989.4M139.4,991.2L126.6,990.8M130.1,992.7L126.6,990.8L130.2,989.2M152.2,991.5L141.8,990.5M144.8,992.4L141.8,990.5L145.1,989.3M168.3,991.5L153.7,990.5M157.1,992.5L153.7,990.5L157.3,989.0M182.3,991.6L167.7,990.4M171.0,992.4L167.7,990.4L171.3,988.9M194.2,991.5L183.8,990.5M186.8,992.4L183.8,990.5L187.1,989.3M208.7,990.9L197.3,991.1M200.7,992.8L197.3,991.1L200.7,989.3M224.2,990.7L209.8,991.3M213.3,992.9L209.8,991.3L213.2,989.4M236.1,990.3L225.9,991.7M229.2,992.8L225.9,991.7L228.7,989.8M250.4,990.3L239.6,991.7M243.1,992.9L239.6,991.7L242.6,989.7M266.0,990.5L252.0,991.5M255.6,993.0L252.0,991.5L255.4,989.5M279.9,991.4L266.1,990.6M269.5,992.5L266.1,990.6L269.7,989.1M291.7,990.6L282.3,991.4M285.3,992.6L282.3,991.4L285.0,989.8M305.8,990.0L296.2,992.0M299.4,992.8L296.2,992.0L298.8,990.0M319.4,990.7L310.6,991.3M313.3,992.4L310.6,991.3L313.2,989.8M333.6,990.0L324.4,992.0M327.5,992.8L324.4,992.0L326.9,990.0M344.9,989.9L341.1,992.1M342.6,992.0L341.1,992.1L341.9,990.9M359.0,988.6L355.0,993.4M356.9,992.5L355.0,993.4L355.5,991.4M373.3,988.5L368.7,993.5M370.8,992.7L368.7,993.5L369.3,991.3M386.9,988.6L383.1,993.4M384.9,992.5L383.1,993.4L383.5,991.4M401.3,989.1L396.7,992.9M398.6,992.5L396.7,992.9L397.5,991.1M415.0,989.4L411.0,992.6M412.7,992.2L411.0,992.6L411.7,991.0M429.0,989.3L425.0,992.7M426.7,992.3L425.0,992.7L425.7,991.1M445.7,990.1L436.3,991.9M439.4,992.8L436.3,991.9L438.9,990.0M458.7,991.1L451.3,990.9M453.5,992.1L451.3,990.9L453.6,989.9M475.2,992.7L462.8,989.3M465.7,991.9L462.8,989.3L466.6,988.6M486.9,992.0L479.1,990.0M481.1,991.7L479.1,990.0L481.8,989.4M501.1,992.2L492.9,989.8M495.0,991.8L492.9,989.8L495.7,989.3M514.8,992.1L507.2,989.9M509.2,991.7L507.2,989.9L509.8,989.4M529.6,992.4L520.4,989.6M522.7,991.8L520.4,989.6L523.6,989.0M557.0,992.4L549.0,989.6M551.0,991.6L549.0,989.6L551.8,989.3M571.2,992.2L562.8,989.8M565.0,991.8L562.8,989.8L565.7,989.3M584.8,992.9L577.2,989.1M578.9,991.4L577.2,989.1L580.1,989.1M600.9,993.0L589.1,989.0M591.9,991.8L589.1,989.0L593.0,988.5M613.0,992.6L605.0,989.4M606.9,991.6L605.0,989.4L607.9,989.1M625.5,993.8L620.5,988.2M621.2,990.6L620.5,988.2L622.8,989.2M636.0,996.4L638.0,985.6M635.8,988.5L638.0,985.6L639.0,989.1M647.4,999.3L654.6,982.7M651.6,985.2L654.6,982.7L654.8,986.6M661.8,997.9L668.2,984.1M665.1,986.5L668.2,984.1L668.3,988.0M675.0,998.0L683.0,984.0M679.7,986.2L683.0,984.0L682.8,987.9M689.4,999.2L696.6,982.8M693.6,985.3L696.6,982.8L696.8,986.7M703.3,998.5L710.7,983.5M707.6,985.9L710.7,983.5L710.7,987.4M718.3,995.4L723.7,986.6M720.8,988.5L723.7,986.6L723.4,990.1M167.7,1005.5L154.3,1004.9M157.7,1006.8L154.3,1004.9L157.8,1003.3M182.4,1005.7L167.6,1004.7M170.9,1006.7L167.6,1004.7L171.2,1003.2M195.8,1005.1L182.2,1005.3M185.7,1007.0L182.2,1005.3L185.6,1003.5M208.2,1005.9L197.8,1004.5M200.7,1006.5L197.8,1004.5L201.1,1003.4M225.3,1004.9L208.7,1005.5M212.2,1007.1L208.7,1005.5L212.1,1003.6M238.3,1005.6L223.7,1004.8M227.1,1006.7L223.7,1004.8L227.3,1003.2M253.3,1005.5L236.7,1004.9M240.1,1006.8L236.7,1004.9L240.3,1003.3M266.0,1004.9L252.0,1005.5M255.6,1007.1L252.0,1005.5L255.4,1003.6M279.0,1005.4L267.0,1005.0M270.4,1006.9L267.0,1005.0L270.5,1003.4M294.5,1004.1L279.5,1006.3M283.2,1007.5L279.5,1006.3L282.7,1004.0M306.4,1003.9L295.6,1006.5M299.2,1007.4L295.6,1006.5L298.4,1004.1M319.8,1004.0L310.2,1006.4M313.4,1007.1L310.2,1006.4L312.7,1004.2M333.4,1004.2L324.6,1006.2M327.6,1006.9L324.6,1006.2L327.0,1004.3M346.1,1004.9L339.9,1005.5M341.8,1006.3L339.9,1005.5L341.6,1004.4M361.7,1004.0L352.3,1006.4M355.5,1007.1L352.3,1006.4L354.7,1004.3M374.6,1003.5L367.4,1006.9M370.1,1007.0L367.4,1006.9L369.0,1004.8M388.4,1003.3L381.6,1007.1M384.2,1007.0L381.6,1007.1L383.1,1004.9M403.9,1002.8L394.1,1007.6M397.8,1007.6L394.1,1007.6L396.3,1004.7M418.6,1002.0L407.4,1008.4M411.3,1008.2L407.4,1008.4L409.6,1005.1M432.5,1002.5L421.5,1007.9M425.4,1007.9L421.5,1007.9L423.8,1004.8M444.9,1004.0L437.1,1006.4M439.8,1006.8L437.1,1006.4L439.1,1004.5M460.8,1005.5L449.2,1004.9M452.6,1006.8L449.2,1004.9L452.7,1003.3M474.8,1006.2L463.2,1004.2M466.3,1006.5L463.2,1004.2L466.9,1003.1M486.2,1005.9L479.8,1004.5M481.5,1005.9L479.8,1004.5L481.9,1004.0M502.9,1006.6L491.1,1003.8M494.1,1006.3L491.1,1003.8L494.9,1002.9M515.2,1006.8L506.8,1003.6M508.8,1005.8L506.8,1003.6L509.8,1003.3M543.6,1006.1L534.4,1004.3M536.9,1006.2L534.4,1004.3L537.4,1003.4M558.0,1006.2L548.0,1004.2M550.7,1006.3L548.0,1004.2L551.3,1003.3M571.6,1006.6L562.4,1003.8M564.7,1006.0L562.4,1003.8L565.6,1003.3M585.9,1006.1L576.1,1004.3M578.8,1006.3L576.1,1004.3L579.3,1003.4M599.4,1006.3L590.6,1004.1M592.9,1006.1L590.6,1004.1L593.6,1003.4M613.3,1007.0L604.7,1003.4M606.7,1005.8L604.7,1003.4L607.8,1003.2M626.1,1008.5L619.9,1001.9M620.8,1004.8L619.9,1001.9L622.8,1002.9M637.4,1010.1L636.6,1000.3M635.4,1003.4L636.6,1000.3L638.3,1003.1M649.2,1012.0L652.8,998.4M650.2,1001.3L652.8,998.4L653.6,1002.2M662.5,1011.5L667.5,998.9M664.6,1001.5L667.5,998.9L667.8,1002.8M675.2,1013.9L682.8,996.5M679.8,999.1L682.8,996.5L683.0,1000.4M690.1,1011.5L695.9,998.9M692.8,1001.4L695.9,998.9L696.0,1002.9M704.1,1010.3L709.9,1000.1M706.6,1002.3L709.9,1000.1L709.7,1004.0M717.9,1012.2L724.1,998.2M721.1,1000.7L724.1,998.2L724.3,1002.1M196.1,1019.0L181.9,1019.8M185.5,1021.4L181.9,1019.8L185.3,1017.9M208.9,1019.9L197.1,1018.9M200.5,1020.9L197.1,1018.9L200.8,1017.5M222.3,1018.9L211.7,1019.9M215.0,1021.2L211.7,1019.9L214.8,1018.0M239.0,1019.2L223.0,1019.6M226.5,1021.2L223.0,1019.6L226.5,1017.7M251.7,1018.4L238.3,1020.4M242.0,1021.6L238.3,1020.4L241.5,1018.2M265.0,1018.4L253.0,1020.4M256.8,1021.5L253.0,1020.4L256.2,1018.1M281.8,1018.8L264.2,1020.0M267.8,1021.5L264.2,1020.0L267.6,1018.0M292.4,1018.6L281.6,1020.2M285.1,1021.3L281.6,1020.2L284.6,1018.1M307.4,1019.2L294.6,1019.6M298.2,1021.2L294.6,1019.6L298.1,1017.8M320.5,1019.0L309.5,1019.8M312.9,1021.2L309.5,1019.8L312.7,1017.9M333.9,1018.9L324.1,1019.9M327.2,1021.1L324.1,1019.9L326.9,1018.1M349.4,1018.4L336.6,1020.4M340.3,1021.6L336.6,1020.4L339.7,1018.2M361.9,1019.0L352.1,1019.8M355.2,1021.0L352.1,1019.8L354.9,1018.1M392.6,1018.3L377.4,1020.5M381.1,1021.7L377.4,1020.5L380.6,1018.3M405.6,1018.0L392.4,1020.8M396.2,1021.8L392.4,1020.8L395.5,1018.4M419.1,1018.0L406.9,1020.8M410.7,1021.7L406.9,1020.8L409.9,1018.3M432.8,1018.2L421.2,1020.6M425.0,1021.6L421.2,1020.6L424.3,1018.2M447.0,1018.6L435.0,1020.2M438.7,1021.5L435.0,1020.2L438.2,1018.0M460.9,1019.8L449.1,1019.0M452.5,1021.0L449.1,1019.0L452.7,1017.5M475.1,1019.3L462.9,1019.5M466.4,1021.2L462.9,1019.5L466.4,1017.7M489.4,1020.4L476.6,1018.4M479.8,1020.7L476.6,1018.4L480.4,1017.2M504.5,1020.0L489.5,1018.8M492.8,1020.8L489.5,1018.8L493.1,1017.3M515.7,1019.7L506.3,1019.1M509.0,1020.7L506.3,1019.1L509.2,1017.9M543.8,1020.0L534.2,1018.8M536.9,1020.6L534.2,1018.8L537.3,1017.7M557.2,1020.4L548.8,1018.4M551.0,1020.3L548.8,1018.4L551.6,1017.7M572.4,1020.8L561.6,1018.0M564.4,1020.5L561.6,1018.0L565.2,1017.2M585.5,1020.7L576.5,1018.1M578.8,1020.2L576.5,1018.1L579.6,1017.6M600.1,1020.2L589.9,1018.6M592.7,1020.6L589.9,1018.6L593.2,1017.6M614.5,1020.2L603.5,1018.6M606.5,1020.7L603.5,1018.6L607.0,1017.4M627.2,1021.7L618.8,1017.1M620.6,1019.8L618.8,1017.1L622.0,1017.2M638.7,1024.3L635.3,1014.5M634.9,1018.0L635.3,1014.5L637.8,1016.9M651.3,1024.7L650.7,1014.1M649.3,1017.4L650.7,1014.1L652.5,1017.2M664.4,1026.0L665.6,1012.8M663.5,1016.1L665.6,1012.8L667.0,1016.4M677.5,1025.3L680.5,1013.5M678.0,1016.4L680.5,1013.5L681.4,1017.3M691.3,1027.6L694.7,1011.2M692.3,1014.3L694.7,1011.2L695.7,1015.0M720.0,1024.4L722.0,1014.4M719.9,1017.1L722.0,1014.4L722.9,1017.7M221.9,1033.4L212.1,1033.8M215.1,1035.2L212.1,1033.8L215.0,1032.2M237.3,1033.4L224.7,1033.8M228.3,1035.4L224.7,1033.8L228.1,1031.9M252.2,1032.9L237.8,1034.3M241.5,1035.7L237.8,1034.3L241.1,1032.2M265.1,1032.6L252.9,1034.6M256.6,1035.8L252.9,1034.6L256.0,1032.3M278.8,1032.8L267.2,1034.4M271.0,1035.7L267.2,1034.4L270.4,1032.2M294.1,1033.2L279.9,1034.0M283.5,1035.5L279.9,1034.0L283.3,1032.0M308.4,1031.7L293.6,1035.5M297.5,1036.3L293.6,1035.5L296.6,1033.0M322.0,1032.1L308.0,1035.1M311.7,1036.1L308.0,1035.1L311.0,1032.7M333.2,1031.9L324.8,1035.3M327.8,1035.5L324.8,1035.3L326.8,1033.0M348.8,1031.9L337.2,1035.3M341.1,1036.0L337.2,1035.3L340.1,1032.6M361.3,1032.8L352.7,1034.4M355.5,1035.2L352.7,1034.4L355.0,1032.6M389.6,1032.3L380.4,1034.9M383.5,1035.5L380.4,1034.9L382.8,1032.7M403.1,1032.1L394.9,1035.1M397.8,1035.4L394.9,1035.1L396.9,1032.9M418.2,1031.4L407.8,1035.8M411.6,1036.0L407.8,1035.8L410.3,1032.9M432.4,1031.5L421.6,1035.7M425.5,1036.1L421.6,1035.7L424.2,1032.8M446.1,1033.5L435.9,1033.7M439.0,1035.2L435.9,1033.7L438.9,1032.1M460.2,1033.7L449.8,1033.5M452.9,1035.1L449.8,1033.5L453.0,1032.0M477.1,1033.6L460.9,1033.6M464.4,1035.4L460.9,1033.6L464.4,1031.9M489.6,1034.0L476.4,1033.2M479.8,1035.2L476.4,1033.2L480.0,1031.7M501.5,1033.8L492.5,1033.4M495.1,1034.9L492.5,1033.4L495.3,1032.2M515.0,1033.7L507.0,1033.5M509.4,1034.7L507.0,1033.5L509.4,1032.3M529.9,1033.8L520.1,1033.4M523.0,1035.0L520.1,1033.4L523.1,1032.1M542.8,1032.8L535.2,1034.4M537.7,1035.1L535.2,1034.4L537.2,1032.8M559.7,1033.3L546.3,1033.9M549.9,1035.5L546.3,1033.9L549.8,1032.0M573.4,1033.4L560.6,1033.8M564.2,1035.5L560.6,1033.8L564.1,1032.0M585.3,1033.4L576.7,1033.8M579.3,1035.0L576.7,1033.8L579.2,1032.4M599.3,1032.4L590.7,1034.8M593.7,1035.4L590.7,1034.8L592.9,1032.8M612.7,1032.7L605.3,1034.5M607.8,1035.1L605.3,1034.5L607.2,1032.9M626.7,1033.2L619.3,1034.0M621.6,1034.8L619.3,1034.0L621.4,1032.6M641.0,1035.0L633.0,1032.2M635.0,1034.2L633.0,1032.2L635.8,1031.9M653.5,1036.4L648.5,1030.8M649.2,1033.2L648.5,1030.8L650.8,1031.7M666.2,1039.2L663.8,1028.0M662.9,1031.7L663.8,1028.0L666.2,1031.0M678.3,1040.9L679.7,1026.3M677.6,1029.6L679.7,1026.3L681.1,1030.0M692.9,1038.0L693.1,1029.2M691.7,1031.8L693.1,1029.2L694.4,1031.9M706.2,1037.9L707.8,1029.3M706.0,1031.6L707.8,1029.3L708.6,1032.1M720.4,1037.9L721.6,1029.3M720.0,1031.7L721.6,1029.3L722.5,1032.1M236.8,1047.2L225.2,1048.4M228.9,1049.8L225.2,1048.4L228.5,1046.3M250.2,1046.9L239.8,1048.7M243.2,1049.7L239.8,1048.7L242.6,1046.6M264.2,1047.5L253.8,1048.1M257.0,1049.5L253.8,1048.1L256.8,1046.4M277.3,1047.5L268.7,1048.1M271.4,1049.2L268.7,1048.1L271.2,1046.7M306.2,1043.5L295.8,1052.1M299.6,1051.2L295.8,1052.1L297.4,1048.5M320.9,1041.2L309.1,1054.4M312.8,1052.9L309.1,1054.4L310.2,1050.6M335.6,1040.1L322.4,1055.5M326.0,1054.0L322.4,1055.5L323.3,1051.7M347.7,1041.0L338.3,1054.6M341.7,1052.7L338.3,1054.6L338.9,1050.8M361.7,1042.5L352.3,1053.1M355.9,1051.7L352.3,1053.1L353.3,1049.4M374.3,1043.0L367.7,1052.6M371.1,1050.7L367.7,1052.6L368.2,1048.7M389.5,1042.9L380.5,1052.7M384.1,1051.3L380.5,1052.7L381.6,1048.9M401.8,1044.1L396.2,1051.5M399.0,1050.1L396.2,1051.5L396.8,1048.5M415.7,1041.6L410.3,1054.0M413.3,1051.5L410.3,1054.0L410.1,1050.1M430.1,1043.1L423.9,1052.5M427.2,1050.6L423.9,1052.5L424.4,1048.8M446.4,1043.2L435.6,1052.4M439.4,1051.5L435.6,1052.4L437.1,1048.8M461.6,1046.1L448.4,1049.5M452.2,1050.3L448.4,1049.5L451.4,1046.9M473.3,1046.8L464.7,1048.8M467.6,1049.5L464.7,1048.8L467.0,1046.9M488.0,1048.1L478.0,1047.5M480.9,1049.2L478.0,1047.5L481.1,1046.2M502.2,1047.6L491.8,1048.0M495.0,1049.5L491.8,1048.0L494.8,1046.3M517.4,1047.8L504.6,1047.8M508.1,1049.6L504.6,1047.8L508.1,1046.1M530.2,1047.9L519.8,1047.7M522.9,1049.3L519.8,1047.7L522.9,1046.2M545.2,1047.7L532.8,1047.9M536.3,1049.6L532.8,1047.9L536.3,1046.1M557.8,1047.4L548.2,1048.2M551.2,1049.4L548.2,1048.2L550.9,1046.5M571.3,1047.4L562.7,1048.2M565.4,1049.3L562.7,1048.2L565.2,1046.7M586.9,1046.6L575.1,1049.0M578.9,1050.0L575.1,1049.0L578.2,1046.6M600.4,1047.7L589.6,1047.9M592.9,1049.5L589.6,1047.9L592.8,1046.2M613.4,1047.9L604.6,1047.7M607.2,1049.1L604.6,1047.7L607.3,1046.5M627.5,1048.9L618.5,1046.7M620.9,1048.7L618.5,1046.7L621.5,1046.0M641.7,1050.9L632.3,1044.7M634.2,1048.0L632.3,1044.7L636.1,1045.2M652.9,1050.8L649.1,1044.8M649.4,1047.2L649.1,1044.8L651.2,1046.0M664.9,1052.1L665.1,1043.5M663.8,1046.0L665.1,1043.5L666.3,1046.1M692.8,1052.1L693.2,1043.5M691.8,1046.0L693.2,1043.5L694.4,1046.1M707.4,1051.9L706.6,1043.7M705.6,1046.3L706.6,1043.7L708.1,1046.1M721.3,1052.7L720.7,1042.9M719.4,1045.9L720.7,1042.9L722.3,1045.7M249.7,1061.7L240.3,1062.3M243.2,1063.5L240.3,1062.3L243.0,1060.7M266.3,1060.8L251.7,1063.2M255.5,1064.3L251.7,1063.2L254.9,1060.9M277.9,1061.1L268.1,1062.9M271.3,1063.8L268.1,1062.9L270.8,1060.9M292.5,1060.8L281.5,1063.2M285.2,1064.1L281.5,1063.2L284.4,1060.8M305.4,1057.7L296.6,1066.3M300.3,1065.1L296.6,1066.3L297.9,1062.6M319.1,1054.3L310.9,1069.7M314.1,1067.4L310.9,1069.7L311.0,1065.8M334.1,1053.5L323.9,1070.5M327.2,1068.4L323.9,1070.5L324.2,1066.6M347.2,1055.5L338.8,1068.5M342.2,1066.5L338.8,1068.5L339.2,1064.6M361.5,1052.9L352.5,1071.1M355.7,1068.7L352.5,1071.1L352.5,1067.2M374.2,1055.7L367.8,1068.3M370.9,1065.9L367.8,1068.3L367.8,1064.3M387.6,1057.4L382.4,1066.6M385.3,1064.6L382.4,1066.6L382.6,1063.0M403.2,1053.9L394.8,1070.1M398.0,1067.8L394.8,1070.1L394.9,1066.2M414.9,1057.6L411.1,1066.4M413.6,1064.3L411.1,1066.4L410.9,1063.2M430.5,1055.1L423.5,1068.9M426.6,1066.6L423.5,1068.9L423.5,1065.0M445.9,1056.2L436.1,1067.8M439.7,1066.3L436.1,1067.8L437.0,1064.0M460.0,1060.0L450.0,1064.0M453.6,1064.3L450.0,1064.0L452.4,1061.3M476.0,1060.9L462.0,1063.1M465.7,1064.3L462.0,1063.1L465.1,1060.9M490.8,1061.9L475.2,1062.1M478.7,1063.8L475.2,1062.1L478.6,1060.3M502.4,1063.7L491.6,1060.3M494.3,1062.9L491.6,1060.3L495.4,1059.7M516.5,1064.4L505.5,1059.6M508.0,1062.6L505.5,1059.6L509.4,1059.4M531.1,1063.6L518.9,1060.4M521.8,1063.0L518.9,1060.4L522.7,1059.6M543.4,1063.4L534.6,1060.6M536.8,1062.8L534.6,1060.6L537.7,1060.1M555.9,1063.7L550.1,1060.3M551.3,1062.2L550.1,1060.3L552.4,1060.5M568.9,1063.7L565.1,1060.3M565.7,1061.9L565.1,1060.3L566.7,1060.8M581.7,1063.5L580.3,1060.5M580.3,1061.6L580.3,1060.5L581.2,1061.2M595.7,1063.8L594.3,1060.2M594.2,1061.5L594.3,1060.2L595.2,1061.1M610.0,1065.2L608.0,1058.8M607.6,1061.0L608.0,1058.8L609.6,1060.4M623.7,1066.1L622.3,1057.9M621.5,1060.6L622.3,1057.9L623.9,1060.1M636.9,1066.7L637.1,1057.3M635.6,1060.1L637.1,1057.3L638.4,1060.1M651.0,1069.2L651.0,1054.8M649.2,1058.3L651.0,1054.8L652.7,1058.3M679.6,1067.1L678.4,1056.9M677.2,1060.1L678.4,1056.9L680.3,1059.8M692.5,1068.9L693.5,1055.1M691.5,1058.5L693.5,1055.1L695.0,1058.7M706.2,1066.1L707.8,1057.9M706.1,1060.1L707.8,1057.9L708.6,1060.6M721.6,1066.4L720.4,1057.6M719.5,1060.4L720.4,1057.6L722.1,1060.1M252.9,1074.5L237.1,1077.9M240.9,1078.9L237.1,1077.9L240.1,1075.4M263.2,1075.0L254.8,1077.4M257.7,1077.9L254.8,1077.4L256.9,1075.4M280.3,1073.3L265.7,1079.1M269.6,1079.4L265.7,1079.1L268.3,1076.2M293.9,1071.7L280.1,1080.7M284.0,1080.3L280.1,1080.7L282.0,1077.3M306.5,1070.1L295.5,1082.3M299.1,1080.9L295.5,1082.3L296.6,1078.5M318.2,1070.2L311.8,1082.2M315.0,1079.9L311.8,1082.2L311.9,1078.3M334.1,1067.3L323.9,1085.1M327.1,1083.0L323.9,1085.1L324.1,1081.2M347.0,1068.2L339.0,1084.2M342.1,1081.9L339.0,1084.2L339.0,1080.3M361.7,1066.5L352.3,1085.9M355.4,1083.5L352.3,1085.9L352.2,1082.0M374.8,1067.7L367.2,1084.7M370.2,1082.2L367.2,1084.7L367.0,1080.8M388.1,1069.3L381.9,1083.1M384.9,1080.7L381.9,1083.1L381.7,1079.2M402.2,1070.6L395.8,1081.8M399.1,1079.6L395.8,1081.8L396.0,1077.9M416.9,1068.2L409.1,1084.2M412.2,1081.8L409.1,1084.2L409.1,1080.2M430.5,1071.0L423.5,1081.4M426.9,1079.4L423.5,1081.4L424.0,1077.5M444.6,1073.4L437.4,1079.0M440.4,1078.4L437.4,1079.0L438.7,1076.3M473.7,1075.5L464.3,1076.9M467.4,1077.9L464.3,1076.9L466.9,1075.1M490.1,1076.4L475.9,1076.0M479.4,1077.8L475.9,1076.0L479.5,1074.3M504.6,1079.1L489.4,1073.3M492.1,1076.2L489.4,1073.3L493.3,1072.9M516.6,1078.9L505.4,1073.5M507.8,1076.6L505.4,1073.5L509.3,1073.4M530.5,1080.4L519.5,1072.0M521.2,1075.5L519.5,1072.0L523.3,1072.7M540.9,1078.5L537.1,1073.9M537.6,1075.8L537.1,1073.9L539.0,1074.7M553.5,1080.7L552.5,1071.7M551.4,1074.5L552.5,1071.7L554.2,1074.2M565.9,1079.3L568.1,1073.1M566.5,1074.6L568.1,1073.1L568.4,1075.3M578.4,1080.4L583.6,1072.0M580.8,1073.7L583.6,1072.0L583.3,1075.3M591.2,1081.5L598.8,1070.9M595.3,1072.8L598.8,1070.9L598.2,1074.8M606.2,1082.1L611.8,1070.3M608.7,1072.7L611.8,1070.3L611.9,1074.2M621.6,1082.9L624.4,1069.5M622.0,1072.5L624.4,1069.5L625.4,1073.3M635.8,1081.4L638.2,1071.0M636.0,1073.8L638.2,1071.0L639.0,1074.5M650.2,1081.9L651.8,1070.5M649.6,1073.7L651.8,1070.5L653.0,1074.1M664.7,1080.9L665.3,1071.5M663.7,1074.2L665.3,1071.5L666.5,1074.4M693.3,1080.1L692.7,1072.3M691.7,1074.7L692.7,1072.3L694.1,1074.6M707.3,1080.1L706.7,1072.3M705.7,1074.7L706.7,1072.3L708.0,1074.6M721.1,1080.1L720.9,1072.3M719.8,1074.7L720.9,1072.3L722.1,1074.6M235.4,1088.4L226.6,1092.4M229.8,1092.5L226.6,1092.4L228.6,1089.9M248.9,1088.8L241.1,1092.0M243.9,1092.2L241.1,1092.0L242.9,1089.9M265.1,1087.7L252.9,1093.1M256.8,1093.3L252.9,1093.1L255.4,1090.1M278.3,1087.7L267.7,1093.1M271.6,1093.1L267.7,1093.1L270.0,1090.0M292.9,1085.4L281.1,1095.4M284.9,1094.5L281.1,1095.4L282.6,1091.8M304.0,1085.9L298.0,1094.9M301.2,1093.1L298.0,1094.9L298.5,1091.3M319.6,1081.8L310.4,1099.0M313.6,1096.7L310.4,1099.0L310.5,1095.1M334.9,1079.6L323.1,1101.2M326.3,1099.0L323.1,1101.2L323.3,1097.3M346.8,1082.2L339.2,1098.6M342.2,1096.2L339.2,1098.6L339.1,1094.7M359.3,1084.1L354.7,1096.7M357.5,1094.0L354.7,1096.7L354.2,1092.8M374.6,1082.9L367.4,1097.9M370.5,1095.5L367.4,1097.9L367.3,1094.0M388.7,1081.9L381.3,1098.9M384.3,1096.4L381.3,1098.9L381.1,1095.0M401.8,1083.6L396.2,1097.2M399.1,1094.7L396.2,1097.2L395.9,1093.3M416.3,1085.2L409.7,1095.6M413.1,1093.6L409.7,1095.6L410.1,1091.7M430.6,1083.0L423.4,1097.8M426.5,1095.5L423.4,1097.8L423.4,1093.9M445.2,1086.1L436.8,1094.7M440.5,1093.4L436.8,1094.7L438.0,1090.9M460.5,1088.0L449.5,1092.8M453.4,1093.0L449.5,1092.8L452.0,1089.8M476.5,1089.7L461.5,1091.1M465.1,1092.5L461.5,1091.1L464.8,1089.0M488.7,1092.0L477.3,1088.8M480.2,1091.4L477.3,1088.8L481.1,1088.1M502.9,1093.4L491.1,1087.4M493.4,1090.5L491.1,1087.4L495.0,1087.4M515.8,1094.2L506.2,1086.6M507.9,1090.2L506.2,1086.6L510.1,1087.4M530.8,1095.7L519.2,1085.1M520.6,1088.8L519.2,1085.1L523.0,1086.2M541.2,1093.2L536.8,1087.6M537.3,1089.9L536.8,1087.6L539.0,1088.6M553.0,1095.2L553.0,1085.6M551.6,1088.5L553.0,1085.6L554.5,1088.5M565.7,1095.8L568.3,1085.0M565.9,1087.9L568.3,1085.0L569.1,1088.6M578.4,1095.5L583.6,1085.3M580.5,1087.6L583.6,1085.3L583.6,1089.2M591.5,1094.8L598.5,1086.0M595.1,1087.6L598.5,1086.0L597.7,1089.7M621.2,1094.8L624.8,1086.0M622.4,1088.1L624.8,1086.0L625.1,1089.2M636.4,1098.1L637.6,1082.7M635.6,1086.1L637.6,1082.7L639.1,1086.4M649.9,1098.1L652.1,1082.7M649.8,1085.9L652.1,1082.7L653.3,1086.4M664.2,1096.1L665.8,1084.7M663.6,1087.9L665.8,1084.7L667.0,1088.4M678.9,1097.4L679.1,1083.4M677.3,1086.8L679.1,1083.4L680.8,1086.9M692.7,1096.3L693.3,1084.5M691.4,1087.9L693.3,1084.5L694.9,1088.1M707.3,1095.5L706.7,1085.3M705.4,1088.5L706.7,1085.3L708.4,1088.3M720.4,1094.2L721.6,1086.6M720.1,1088.7L721.6,1086.6L722.4,1089.1M237.2,1100.9L224.8,1108.3M228.7,1108.0L224.8,1108.3L226.9,1105.0M249.3,1103.1L240.7,1106.1M243.7,1106.5L240.7,1106.1L242.8,1103.9M264.2,1103.4L253.8,1105.8M257.3,1106.6L253.8,1105.8L256.6,1103.5M278.1,1102.0L267.9,1107.2M271.8,1107.2L267.9,1107.2L270.2,1104.1M291.1,1100.0L282.9,1109.2M286.5,1107.8L282.9,1109.2L283.9,1105.4M304.2,1100.0L297.8,1109.2M301.1,1107.4L297.8,1109.2L298.4,1105.5M319.0,1098.0L311.0,1111.2M314.3,1109.2L311.0,1111.2L311.3,1107.3M332.9,1095.6L325.1,1113.6M328.1,1111.1L325.1,1113.6L324.9,1109.7M346.6,1097.6L339.4,1111.6M342.6,1109.3L339.4,1111.6L339.5,1107.7M361.4,1096.2L352.6,1113.0M355.8,1110.7L352.6,1113.0L352.7,1109.1M386.8,1099.1L383.2,1110.1M385.9,1107.4L383.2,1110.1L382.6,1106.3M400.9,1099.7L397.1,1109.5M399.7,1107.1L397.1,1109.5L396.8,1106.0M416.4,1097.5L409.6,1111.7M412.7,1109.3L409.6,1111.7L409.5,1107.8M430.6,1098.0L423.4,1111.2M426.6,1108.9L423.4,1111.2L423.5,1107.3M446.5,1099.6L435.5,1109.6M439.3,1108.5L435.5,1109.6L436.9,1105.9M461.7,1102.1L448.3,1107.1M452.2,1107.5L448.3,1107.1L450.9,1104.2M473.3,1103.8L464.7,1105.4M467.5,1106.2L464.7,1105.4L467.0,1103.6M502.2,1107.9L491.8,1101.3M493.8,1104.6L491.8,1101.3L495.6,1101.7M516.6,1108.4L505.4,1100.8M507.3,1104.2L505.4,1100.8L509.3,1101.3M529.8,1109.8L520.2,1099.4M521.3,1103.1L520.2,1099.4L523.8,1100.8M541.7,1109.7L536.3,1099.5M536.4,1103.4L536.3,1099.5L539.4,1101.8M552.6,1108.6L553.4,1100.6M552.0,1102.9L553.4,1100.6L554.4,1103.1M565.4,1110.1L568.6,1099.1M566.0,1101.9L568.6,1099.1L569.3,1102.9M579.3,1107.6L582.7,1101.6M580.8,1102.9L582.7,1101.6L582.6,1103.9M591.9,1110.1L598.1,1099.1M594.9,1101.3L598.1,1099.1L597.9,1103.0M606.5,1109.1L611.5,1100.1M608.6,1102.0L611.5,1100.1L611.4,1103.5M620.3,1110.3L625.7,1098.9M622.6,1101.4L625.7,1098.9L625.8,1102.8M635.7,1112.0L638.3,1097.2M636.0,1100.3L638.3,1097.2L639.4,1100.9M649.9,1111.2L652.1,1098.0M649.8,1101.1L652.1,1098.0L653.3,1101.7M664.3,1110.7L665.7,1098.5M663.5,1101.7L665.7,1098.5L667.0,1102.1M679.2,1112.9L678.8,1096.3M677.1,1099.9L678.8,1096.3L680.6,1099.8M693.6,1109.9L692.4,1099.3M691.2,1102.7L692.4,1099.3L694.4,1102.3M707.7,1108.5L706.3,1100.7M705.5,1103.3L706.3,1100.7L707.9,1102.8M220.4,1115.3L213.6,1122.3M216.7,1121.2L213.6,1122.3L214.6,1119.2M236.5,1114.5L225.5,1123.1M229.3,1122.3L225.5,1123.1L227.2,1119.5M263.6,1116.3L254.4,1121.3M257.9,1121.2L254.4,1121.3L256.4,1118.4M278.2,1115.3L267.8,1122.3M271.7,1121.8L267.8,1122.3L269.8,1118.9M291.4,1114.4L282.6,1123.2M286.3,1121.9L282.6,1123.2L283.9,1119.4M306.0,1111.4L296.0,1126.2M299.4,1124.3L296.0,1126.2L296.5,1122.3M319.0,1110.7L311.0,1126.9M314.1,1124.6L311.0,1126.9L311.0,1123.0M334.1,1109.3L323.9,1128.3M327.1,1126.1L323.9,1128.3L324.0,1124.4M347.7,1109.6L338.3,1128.0M341.4,1125.7L338.3,1128.0L338.3,1124.1M360.9,1111.8L353.1,1125.8M356.3,1123.6L353.1,1125.8L353.3,1121.9M416.2,1113.6L409.8,1124.0M413.1,1121.9L409.8,1124.0L410.1,1120.1M429.1,1114.3L424.9,1123.3M427.5,1121.2L424.9,1123.3L424.8,1120.0M445.2,1114.7L436.8,1122.9M440.6,1121.7L436.8,1122.9L438.1,1119.2M459.9,1117.0L450.1,1120.6M453.6,1121.0L450.1,1120.6L452.5,1118.0M476.3,1119.0L461.7,1118.6M465.1,1120.4L461.7,1118.6L465.2,1116.9M488.8,1121.0L477.2,1116.6M479.9,1119.5L477.2,1116.6L481.1,1116.2M502.0,1121.6L492.0,1116.0M494.2,1119.2L492.0,1116.0L495.8,1116.2M514.4,1122.0L507.6,1115.6M508.7,1118.6L507.6,1115.6L510.6,1116.5M528.2,1122.5L521.8,1115.1M522.6,1118.3L521.8,1115.1L524.8,1116.4M541.0,1124.0L537.0,1113.6M536.6,1117.3L537.0,1113.6L539.8,1116.1M565.8,1123.1L568.2,1114.5M566.2,1116.7L568.2,1114.5L568.8,1117.4M577.7,1124.0L584.3,1113.6M580.9,1115.6L584.3,1113.6L583.9,1117.5M591.8,1123.4L598.2,1114.2M594.9,1116.0L598.2,1114.2L597.7,1117.9M604.7,1124.3L613.3,1113.3M609.7,1115.0L613.3,1113.3L612.5,1117.1M619.9,1123.4L626.1,1114.2M622.9,1116.0L626.1,1114.2L625.6,1117.9M635.1,1123.9L638.9,1113.7M636.2,1116.2L638.9,1113.7L639.3,1117.3M651.0,1126.2L651.0,1111.4M649.2,1114.9L651.0,1111.4L652.7,1114.9M679.7,1124.5L678.3,1113.1M677.0,1116.7L678.3,1113.1L680.4,1116.3M692.5,1124.8L693.5,1112.8M691.5,1116.1L693.5,1112.8L694.9,1116.4M706.8,1122.9L707.2,1114.7M705.8,1117.1L707.2,1114.7L708.3,1117.2M721.2,1121.9L720.8,1115.7M720.0,1117.6L720.8,1115.7L721.9,1117.5M191.1,1127.0L186.9,1139.0M189.7,1136.3L186.9,1139.0L186.4,1135.2M221.6,1127.3L212.4,1138.7M215.9,1137.1L212.4,1138.7L213.2,1134.9M235.1,1129.1L226.9,1136.9M230.5,1135.8L226.9,1136.9L228.2,1133.3M249.7,1129.2L240.3,1136.8M244.1,1136.0L240.3,1136.8L241.9,1133.3M263.3,1129.6L254.7,1136.4M258.3,1135.6L254.7,1136.4L256.3,1133.1M277.8,1128.3L268.2,1137.7M271.9,1136.5L268.2,1137.7L269.5,1134.0M292.8,1126.3L281.2,1139.7M284.8,1138.2L281.2,1139.7L282.2,1135.9M306.7,1124.5L295.3,1141.5M298.7,1139.5L295.3,1141.5L295.8,1137.6M317.9,1126.6L312.1,1139.4M315.1,1137.0L312.1,1139.4L312.0,1135.5M334.3,1124.1L323.7,1141.9M327.0,1139.8L323.7,1141.9L324.0,1138.0M347.5,1124.8L338.5,1141.2M341.7,1139.0L338.5,1141.2L338.6,1137.3M360.6,1126.6L353.4,1139.4M356.6,1137.2L353.4,1139.4L353.6,1135.5M375.0,1125.2L367.0,1140.8M370.1,1138.5L367.0,1140.8L367.0,1136.9M388.5,1123.5L381.5,1142.5M384.4,1139.8L381.5,1142.5L381.1,1138.6M401.7,1125.7L396.3,1140.3M399.1,1137.6L396.3,1140.3L395.9,1136.4M416.0,1126.6L410.0,1139.4M413.1,1137.0L410.0,1139.4L409.9,1135.5M429.9,1126.9L424.1,1139.1M427.2,1136.7L424.1,1139.1L424.0,1135.2M445.6,1127.2L436.4,1138.8M440.0,1137.1L436.4,1138.8L437.2,1134.9M459.5,1130.1L450.5,1135.9M454.1,1135.5L450.5,1135.9L452.4,1132.8M473.5,1133.3L464.5,1132.7M467.1,1134.2L464.5,1132.7L467.3,1131.5M488.6,1135.9L477.4,1130.1M479.7,1133.2L477.4,1130.1L481.3,1130.1M501.5,1137.8L492.5,1128.2M493.6,1131.9L492.5,1128.2L496.1,1129.5M514.6,1138.6L507.4,1127.4M507.8,1131.3L507.4,1127.4L510.7,1129.4M526.6,1138.5L523.4,1127.5M522.7,1131.3L523.4,1127.5L526.0,1130.3M540.3,1137.8L537.7,1128.2M537.0,1131.5L537.7,1128.2L539.9,1130.7M552.8,1136.7L553.2,1129.3M552.0,1131.5L553.2,1129.3L554.2,1131.6M565.5,1138.1L568.5,1127.9M566.1,1130.5L568.5,1127.9L569.1,1131.4M578.7,1137.9L583.3,1128.1M580.5,1130.4L583.3,1128.1L583.4,1131.7M605.8,1137.6L612.2,1128.4M608.9,1130.2L612.2,1128.4L611.7,1132.1M619.4,1139.3L626.6,1126.7M623.3,1128.9L626.6,1126.7L626.4,1130.6M636.1,1138.6L637.9,1127.4M635.7,1130.5L637.9,1127.4L639.0,1131.0M665.4,1140.4L664.6,1125.6M663.0,1129.1L664.6,1125.6L666.5,1129.0M679.4,1138.3L678.6,1127.7M677.3,1131.0L678.6,1127.7L680.4,1130.8M693.6,1138.1L692.4,1127.9M691.2,1131.1L692.4,1127.9L694.3,1130.8M707.7,1137.2L706.3,1128.8M705.5,1131.5L706.3,1128.8L708.0,1131.1M721.5,1138.2L720.5,1127.8M719.2,1131.1L720.5,1127.8L722.4,1130.8M118.8,1145.2L119.2,1149.2M119.7,1147.9L119.2,1149.2L118.5,1148.1M133.0,1144.9L133.0,1149.5M133.7,1148.1L133.0,1149.5L132.3,1148.1M147.7,1145.7L146.3,1148.7M147.2,1148.0L146.3,1148.7L146.3,1147.6M161.0,1144.6L161.0,1149.8M161.8,1148.2L161.0,1149.8L160.2,1148.2M176.0,1144.9L174.0,1149.5M175.3,1148.4L174.0,1149.5L173.9,1147.8M189.7,1144.5L188.3,1149.9M189.6,1148.5L188.3,1149.9L187.9,1148.1M203.6,1143.5L202.4,1150.9M203.9,1148.9L202.4,1150.9L201.7,1148.5M220.6,1141.2L213.4,1153.2M216.7,1151.1L213.4,1153.2L213.7,1149.3M233.9,1143.9L228.1,1150.5M230.9,1149.4L228.1,1150.5L228.8,1147.7M248.5,1142.3L241.5,1152.1M245.0,1150.3L241.5,1152.1L242.1,1148.3M264.0,1141.4L254.0,1153.0M257.6,1151.5L254.0,1153.0L255.0,1149.2M277.5,1140.9L268.5,1153.5M272.0,1151.7L268.5,1153.5L269.1,1149.7M319.6,1137.3L310.4,1157.1M313.4,1154.7L310.4,1157.1L310.3,1153.2M347.8,1137.5L338.2,1156.9M341.3,1154.6L338.2,1156.9L338.1,1153.0M360.5,1139.8L353.5,1154.6M356.5,1152.2L353.5,1154.6L353.4,1150.7M373.4,1140.9L368.6,1153.5M371.5,1150.8L368.6,1153.5L368.2,1149.6M387.2,1141.7L382.8,1152.7M385.7,1150.1L382.8,1152.7L382.5,1148.8M401.9,1138.4L396.1,1156.0M398.9,1153.2L396.1,1156.0L395.6,1152.1M414.0,1140.6L412.0,1153.8M414.3,1150.6L412.0,1153.8L410.8,1150.1M428.4,1141.3L425.6,1153.1M428.1,1150.1L425.6,1153.1L424.7,1149.3M442.6,1142.2L439.4,1152.2M441.9,1149.7L439.4,1152.2L438.9,1148.7M456.3,1144.3L453.7,1150.1M455.4,1148.7L453.7,1150.1L453.6,1148.0M484.4,1149.7L481.6,1144.7M481.7,1146.6L481.6,1144.7L483.2,1145.8M499.2,1152.9L494.8,1141.5M494.4,1145.4L494.8,1141.5L497.7,1144.1M512.9,1153.0L509.1,1141.4M508.5,1145.3L509.1,1141.4L511.8,1144.2M525.4,1153.9L524.6,1140.5M523.1,1144.1L524.6,1140.5L526.6,1143.9M539.2,1153.7L538.8,1140.7M537.2,1144.2L538.8,1140.7L540.7,1144.1M552.3,1153.7L553.7,1140.7M551.6,1144.0L553.7,1140.7L555.1,1144.4M563.9,1152.4L570.1,1142.0M566.8,1144.1L570.1,1142.0L569.8,1145.9M578.0,1151.0L584.0,1143.4M581.1,1144.7L584.0,1143.4L583.4,1146.6M592.9,1150.5L597.1,1143.9M594.9,1145.2L597.1,1143.9L596.8,1146.5M606.6,1151.0L611.4,1143.4M608.8,1144.9L611.4,1143.4L611.1,1146.4M620.2,1151.3L625.8,1143.1M622.9,1144.7L625.8,1143.1L625.3,1146.4M635.4,1153.8L638.6,1140.6M636.1,1143.5L638.6,1140.6L639.5,1144.4M651.2,1152.0L650.8,1142.4M649.5,1145.4L650.8,1142.4L652.4,1145.2M664.7,1154.7L665.3,1139.7M663.4,1143.1L665.3,1139.7L666.9,1143.3M678.7,1152.6L679.3,1141.8M677.5,1145.0L679.3,1141.8L680.7,1145.1M693.3,1152.5L692.7,1141.9M691.3,1145.2L692.7,1141.9L694.5,1145.0M706.4,1150.8L707.6,1143.6M706.2,1145.6L707.6,1143.6L708.3,1145.9M721.6,1151.0L720.4,1143.4M719.6,1145.9L720.4,1143.4L721.9,1145.5M118.8,1159.9L119.2,1162.9M119.5,1161.9L119.2,1162.9L118.6,1162.1M132.9,1160.3L133.1,1162.5M133.4,1161.8L133.1,1162.5L132.7,1161.9M146.8,1160.7L147.2,1162.1M147.3,1161.6L147.2,1162.1L146.9,1161.8M160.8,1159.4L161.2,1163.4M161.7,1162.1L161.2,1163.4L160.5,1162.2M175.2,1160.6L174.8,1162.2M175.1,1161.8L174.8,1162.2L174.7,1161.6M189.4,1158.6L188.6,1164.2M189.7,1162.6L188.6,1164.2L188.0,1162.4M204.2,1158.2L201.8,1164.6M203.5,1163.0L201.8,1164.6L201.6,1162.3M218.8,1158.0L215.2,1164.8M217.3,1163.3L215.2,1164.8L215.3,1162.2M233.6,1156.7L228.4,1166.1M231.4,1164.0L228.4,1166.1L228.6,1162.5M248.1,1156.4L241.9,1166.4M245.2,1164.3L241.9,1166.4L242.3,1162.5M263.3,1155.4L254.7,1167.4M258.2,1165.6L254.7,1167.4L255.3,1163.5M276.3,1154.2L269.7,1168.6M272.8,1166.2L269.7,1168.6L269.6,1164.7M290.8,1155.5L283.2,1167.3M286.6,1165.3L283.2,1167.3L283.6,1163.4M304.3,1154.8L297.7,1168.0M300.9,1165.6L297.7,1168.0L297.7,1164.0M318.6,1154.5L311.4,1168.3M314.6,1166.0L311.4,1168.3L311.5,1164.4M333.8,1152.5L324.2,1170.3M327.4,1168.1L324.2,1170.3L324.3,1166.4M345.4,1153.9L340.6,1168.9M343.3,1166.1L340.6,1168.9L340.0,1165.0M360.0,1154.9L354.0,1167.9M357.0,1165.5L354.0,1167.9L353.8,1164.0M373.0,1153.7L369.0,1169.1M371.6,1166.2L369.0,1169.1L368.2,1165.3M386.9,1153.4L383.1,1169.4M385.6,1166.4L383.1,1169.4L382.2,1165.6M400.7,1153.4L397.3,1169.4M399.8,1166.3L397.3,1169.4L396.3,1165.6M413.6,1154.8L412.4,1168.0M414.5,1164.7L412.4,1168.0L411.0,1164.4M428.0,1155.9L426.0,1166.9M428.3,1163.9L426.0,1166.9L424.9,1163.3M440.8,1155.8L441.2,1167.0M442.7,1163.6L441.2,1167.0L439.4,1163.7M454.1,1157.7L455.9,1165.1M456.5,1162.6L455.9,1165.1L454.3,1163.2M468.3,1160.8L469.7,1162.0M469.5,1161.4L469.7,1162.0L469.1,1161.8M483.4,1164.6L482.6,1158.2M481.9,1160.3L482.6,1158.2L483.8,1160.0M496.9,1168.0L497.1,1154.8M495.3,1158.3L497.1,1154.8L498.8,1158.3M511.3,1168.0L510.7,1154.8M509.1,1158.4L510.7,1154.8L512.6,1158.3M524.0,1166.8L526.0,1156.0M523.8,1158.9L526.0,1156.0L527.0,1159.5M538.3,1168.2L539.7,1154.6M537.6,1157.9L539.7,1154.6L541.1,1158.2M551.8,1166.1L554.2,1156.7M552.1,1159.1L554.2,1156.7L554.9,1159.9M564.9,1165.1L569.1,1157.7M566.7,1159.3L569.1,1157.7L568.9,1160.5M577.6,1167.9L584.4,1154.9M581.2,1157.2L584.4,1154.9L584.3,1158.8M591.6,1165.8L598.4,1157.0M595.0,1158.6L598.4,1157.0L597.7,1160.7M606.5,1165.0L611.5,1157.8M608.9,1159.2L611.5,1157.8L611.1,1160.7M619.8,1165.9L626.2,1156.9M622.9,1158.6L626.2,1156.9L625.6,1160.6M635.8,1167.1L638.2,1155.7M635.8,1158.8L638.2,1155.7L639.2,1159.5M650.5,1169.2L651.5,1153.6M649.5,1157.0L651.5,1153.6L653.0,1157.2M664.4,1167.6L665.6,1155.2M663.5,1158.5L665.6,1155.2L667.0,1158.8M679.4,1170.0L678.6,1152.8M677.0,1156.4L678.6,1152.8L680.5,1156.2M693.1,1168.9L692.9,1153.9M691.2,1157.5L692.9,1153.9L694.7,1157.4M707.6,1165.7L706.4,1157.1M705.5,1159.9L706.4,1157.1L708.0,1159.5M720.6,1165.4L721.4,1157.4M720.0,1159.7L721.4,1157.4L722.4,1159.9M119,1176h1.5M132.8,1174.1L133.2,1177.1M133.5,1176.1L133.2,1177.1L132.7,1176.3M146.7,1174.7L147.3,1176.5M147.4,1175.9L147.3,1176.5L146.8,1176.0M175.4,1173.3L174.6,1177.9M175.5,1176.6L174.6,1177.9L174.2,1176.4M189.4,1174.0L188.6,1177.2M189.3,1176.3L188.6,1177.2L188.4,1176.1M203.7,1172.8L202.3,1178.4M203.6,1176.9L202.3,1178.4L201.9,1176.5M232.5,1172.1L229.5,1179.1M231.5,1177.4L229.5,1179.1L229.4,1176.5M261.8,1169.8L256.2,1181.4M259.3,1179.0L256.2,1181.4L256.1,1177.5M277.7,1167.6L268.3,1183.6M271.5,1181.5L268.3,1183.6L268.5,1179.7M304.6,1168.8L297.4,1182.4M300.5,1180.2L297.4,1182.4L297.5,1178.5M319.6,1166.3L310.4,1184.9M313.5,1182.6L310.4,1184.9L310.4,1181.0M331.7,1170.3L326.3,1180.9M329.5,1178.6L326.3,1180.9L326.3,1177.0M345.5,1169.6L340.5,1181.6M343.5,1179.0L340.5,1181.6L340.2,1177.7M358.1,1170.6L355.9,1180.6M358.1,1178.0L355.9,1180.6L355.0,1177.3M371.9,1166.7L370.1,1184.5M372.2,1181.2L370.1,1184.5L368.7,1180.8M385.2,1169.7L384.8,1181.5M386.7,1178.1L384.8,1181.5L383.2,1177.9M399.2,1168.1L398.8,1183.1M400.6,1179.6L398.8,1183.1L397.1,1179.5M413.0,1169.6L413.0,1181.6M414.7,1178.1L413.0,1181.6L411.2,1178.1M426.1,1169.2L427.9,1182.0M429.1,1178.3L427.9,1182.0L425.7,1178.8M438.8,1170.0L443.2,1181.2M443.5,1177.3L443.2,1181.2L440.3,1178.5M452.8,1172.6L457.2,1178.6M456.8,1176.2L457.2,1178.6L455.0,1177.5M467.3,1175.2L470.7,1176.0M469.8,1175.2L470.7,1176.0L469.6,1176.3M480.2,1178.8L485.8,1172.4M483.2,1173.5L485.8,1172.4L485.1,1175.2M494.2,1179.5L499.8,1171.7M497.0,1173.2L499.8,1171.7L499.3,1174.9M508.2,1181.7L513.8,1169.5M510.7,1171.9L513.8,1169.5L513.9,1173.4M523.1,1182.5L526.9,1168.7M524.3,1171.6L526.9,1168.7L527.7,1172.6M537.3,1181.3L540.7,1169.9M538.0,1172.7L540.7,1169.9L541.4,1173.8M550.6,1182.5L555.4,1168.7M552.6,1171.5L555.4,1168.7L555.9,1172.6M563.9,1181.3L570.1,1169.9M566.9,1172.2L570.1,1169.9L570.0,1173.8M578.4,1179.2L583.6,1172.0M581.0,1173.4L583.6,1172.0L583.1,1175.0M592.0,1179.8L598.0,1171.4M595.0,1173.0L598.0,1171.4L597.5,1174.8M606.0,1180.4L612.0,1170.8M608.8,1172.8L612.0,1170.8L611.6,1174.6M636.6,1179.6L637.4,1171.6M636.0,1173.9L637.4,1171.6L638.3,1174.1M650.0,1180.6L652.0,1170.6M649.9,1173.3L652.0,1170.6L652.9,1173.9M665.1,1182.4L664.9,1168.8M663.2,1172.3L664.9,1168.8L666.7,1172.3M679.2,1182.0L678.8,1169.2M677.2,1172.8L678.8,1169.2L680.7,1172.7M693.6,1182.1L692.4,1169.1M691.0,1172.8L692.4,1169.1L694.5,1172.4M706.6,1179.0L707.4,1172.2M706.1,1174.1L707.4,1172.2L708.2,1174.4M720.7,1179.0L721.3,1172.2M720.1,1174.2L721.3,1172.2L722.1,1174.3M119.3,1188.0L118.7,1191.6M119.4,1190.6L118.7,1191.6L118.3,1190.4M161.6,1189.1L160.4,1190.5M161.0,1190.3L160.4,1190.5L160.5,1189.9M174.9,1188.1L175.1,1191.5M175.5,1190.5L175.1,1191.5L174.5,1190.5M188.5,1188.4L189.5,1191.2M189.6,1190.2L189.5,1191.2L188.8,1190.5M203.7,1187.9L202.3,1191.7M203.3,1190.8L202.3,1191.7L202.2,1190.4M216.6,1188.8L217.4,1190.8M217.4,1190.1L217.4,1190.8L216.9,1190.3M232.1,1187.8L229.9,1191.8M231.1,1190.9L229.9,1191.8L230.0,1190.2M245.9,1186.6L244.1,1193.0M245.6,1191.4L244.1,1193.0L243.7,1190.8M260.5,1185.3L257.5,1194.3M259.8,1192.0L257.5,1194.3L257.1,1191.1M276.5,1184.2L269.5,1195.4M272.8,1193.4L269.5,1195.4L269.8,1191.5M291.7,1182.0L282.3,1197.6M285.6,1195.5L282.3,1197.6L282.6,1193.7M306.8,1181.3L295.2,1198.3M298.6,1196.4L295.2,1198.3L295.7,1194.4M319.1,1182.4L310.9,1197.2M314.1,1195.0L310.9,1197.2L311.1,1193.3M333.5,1180.4L324.5,1199.2M327.6,1196.8L324.5,1199.2L324.4,1195.3M345.1,1183.7L340.9,1195.9M343.7,1193.1L340.9,1195.9L340.4,1192.0M359.5,1182.4L354.5,1197.2M357.3,1194.5L354.5,1197.2L353.9,1193.3M372.1,1184.9L369.9,1194.7M372.1,1192.1L369.9,1194.7L369.1,1191.5M383.9,1183.1L386.1,1196.5M387.3,1192.8L386.1,1196.5L383.8,1193.3M397.4,1183.5L400.6,1196.1M401.4,1192.2L400.6,1196.1L398.1,1193.1M410.9,1182.2L415.1,1197.4M415.9,1193.5L415.1,1197.4L412.5,1194.5M423.2,1183.2L430.8,1196.4M430.6,1192.5L430.8,1196.4L427.5,1194.3M436.7,1185.2L445.3,1194.4M444.2,1190.7L445.3,1194.4L441.6,1193.1M449.9,1187.1L460.1,1192.5M457.9,1189.4L460.1,1192.5L456.2,1192.4M463.8,1189.4L474.2,1190.2M471.2,1188.4L474.2,1190.2L471.0,1191.5M475.7,1192.4L490.3,1187.2M486.4,1186.7L490.3,1187.2L487.6,1190.0M492.4,1193.8L501.6,1185.8M497.8,1186.8L501.6,1185.8L500.1,1189.4M506.7,1195.2L515.3,1184.4M511.8,1186.1L515.3,1184.4L514.5,1188.3M520.9,1195.9L529.1,1183.7M525.7,1185.6L529.1,1183.7L528.6,1187.6M534.7,1196.0L543.3,1183.6M539.9,1185.5L543.3,1183.6L542.7,1187.5M550.8,1194.5L555.2,1185.1M552.5,1187.3L555.2,1185.1L555.3,1188.6M562.7,1195.1L571.3,1184.5M567.7,1186.1L571.3,1184.5L570.4,1188.3M576.8,1193.6L585.2,1186.0M581.6,1187.0L585.2,1186.0L583.8,1189.6M590.4,1194.5L599.6,1185.1M595.9,1186.4L599.6,1185.1L598.4,1188.8M605.3,1194.2L612.7,1185.4M609.2,1186.9L612.7,1185.4L611.8,1189.2M619.9,1195.0L626.1,1184.6M622.8,1186.7L626.1,1184.6L625.8,1188.5M635.6,1194.1L638.4,1185.5M636.2,1187.7L638.4,1185.5L638.9,1188.5M649.9,1195.4L652.1,1184.2M649.8,1187.2L652.1,1184.2L653.1,1187.9M665.0,1196.9L665.0,1182.7M663.3,1186.2L665.0,1182.7L666.8,1186.2M679.4,1195.0L678.6,1184.6M677.2,1187.8L678.6,1184.6L680.4,1187.6M693.6,1196.6L692.4,1183.0M691.0,1186.6L692.4,1183.0L694.5,1186.3M721.5,1193.3L720.5,1186.3M719.7,1188.5L720.5,1186.3L721.8,1188.2M119.0,1201.7L119.0,1206.3M119.7,1204.9L119.0,1206.3L118.3,1204.9M133.6,1202.5L132.4,1205.5M133.2,1204.8L132.4,1205.5L132.3,1204.4M146.8,1202.8L147.2,1205.2M147.5,1204.4L147.2,1205.2L146.7,1204.6M161,1204h1.5M175.8,1202.2L174.2,1205.8M175.3,1205.0L174.2,1205.8L174.1,1204.5M189.6,1202.0L188.4,1206.0M189.4,1205.0L188.4,1206.0L188.1,1204.6M203.9,1201.9L202.1,1206.1M203.3,1205.1L202.1,1206.1L202.0,1204.6M217.7,1201.3L216.3,1206.7M217.5,1205.3L216.3,1206.7L215.9,1204.9M232.5,1201.1L229.5,1206.9M231.3,1205.6L229.5,1206.9L229.5,1204.7M248.4,1199.6L241.6,1208.4M245.0,1206.8L241.6,1208.4L242.3,1204.7M262.1,1197.7L255.9,1210.3M259.0,1207.9L255.9,1210.3L255.9,1206.4M276.5,1198.2L269.5,1209.8M272.8,1207.7L269.5,1209.8L269.8,1205.9M291.8,1197.8L282.2,1210.2M285.7,1208.5L282.2,1210.2L283.0,1206.4M305.4,1196.5L296.6,1211.5M299.8,1209.4L296.6,1211.5L296.8,1207.6M319.3,1198.1L310.7,1209.9M314.2,1208.1L310.7,1209.9L311.4,1206.0M332.1,1197.8L325.9,1210.2M329.0,1207.9L325.9,1210.2L325.9,1206.3M345.9,1198.6L340.1,1209.4M343.3,1207.2L340.1,1209.4L340.2,1205.5M359.3,1197.6L354.7,1210.4M357.5,1207.7L354.7,1210.4L354.2,1206.5M372.2,1197.2L369.8,1210.8M372.2,1207.6L369.8,1210.8L368.7,1207.0M384.0,1197.0L386.0,1211.0M387.2,1207.2L386.0,1211.0L383.8,1207.7M396.7,1199.0L401.3,1209.0M401.4,1205.3L401.3,1209.0L398.4,1206.7M409.6,1197.5L416.4,1210.5M416.3,1206.6L416.4,1210.5L413.2,1208.2M423.3,1199.5L430.7,1208.5M429.8,1204.7L430.7,1208.5L427.1,1206.9M437.5,1201.0L444.5,1207.0M443.3,1204.2L444.5,1207.0L441.5,1206.3M451.0,1202.4L459.0,1205.6M457.1,1203.4L459.0,1205.6L456.1,1205.8M463.9,1204.5L474.1,1203.5M470.9,1202.3L474.1,1203.5L471.2,1205.3M477.6,1205.6L488.4,1202.4M484.7,1201.8L488.4,1202.4L485.6,1205.0M490.9,1207.9L503.1,1200.1M499.2,1200.5L503.1,1200.1L501.1,1203.4M507.1,1207.2L514.9,1200.8M511.6,1201.5L514.9,1200.8L513.5,1203.9M534.7,1208.3L543.3,1199.7M539.6,1200.9L543.3,1199.7L542.1,1203.4M548.2,1206.7L557.8,1201.3M554.1,1201.5L557.8,1201.3L555.7,1204.4M562.3,1207.6L571.7,1200.4M567.9,1201.1L571.7,1200.4L570.0,1203.9M576.6,1206.9L585.4,1201.1M581.9,1201.5L585.4,1201.1L583.6,1204.2M591.1,1205.6L598.9,1202.4M596.1,1202.2L598.9,1202.4L597.0,1204.5M603.5,1207.6L614.5,1200.4M610.7,1200.9L614.5,1200.4L612.5,1203.8M620.0,1206.4L626.0,1201.6M623.5,1202.1L626.0,1201.6L624.9,1203.9M634.4,1206.6L639.6,1201.4M637.3,1202.2L639.6,1201.4L638.8,1203.7M650.5,1208.5L651.5,1199.5M649.9,1202.1L651.5,1199.5L652.6,1202.4M664.9,1209.1L665.1,1198.9M663.5,1201.9L665.1,1198.9L666.6,1202.0M678.1,1209.2L679.9,1198.8M677.8,1201.7L679.9,1198.8L680.9,1202.2M693.0,1210.3L693.0,1197.7M691.3,1201.2L693.0,1197.7L694.8,1201.3M721.2,1206.7L720.8,1201.3M720.1,1203.0L720.8,1201.3L721.7,1202.9M118.4,1217.6L119.6,1218.8M119.4,1218.2L119.6,1218.8L119.1,1218.6M133.1,1216.6L132.9,1219.8M133.5,1218.9L132.9,1219.8L132.5,1218.8M146.7,1216.3L147.3,1220.1M147.7,1218.9L147.3,1220.1L146.5,1219.1M160.6,1216.2L161.4,1220.2M161.8,1218.9L161.4,1220.2L160.6,1219.1M174.4,1217.2L175.6,1219.2M175.5,1218.4L175.6,1219.2L174.9,1218.8M189.6,1217.0L188.4,1219.4M189.1,1218.9L188.4,1219.4L188.4,1218.5M202.8,1216.8L203.2,1219.6M203.5,1218.7L203.2,1219.6L202.7,1218.8M217.7,1216.0L216.3,1220.4M217.4,1219.3L216.3,1220.4L216.1,1218.9M232.9,1214.4L229.1,1222.0M231.4,1220.3L229.1,1222.0L229.1,1219.1M247.5,1213.7L242.5,1222.7M245.3,1220.7L242.5,1222.7L242.7,1219.2M262.9,1212.3L255.1,1224.1M258.5,1222.1L255.1,1224.1L255.6,1220.2M278.3,1210.8L267.7,1225.6M271.2,1223.8L267.7,1225.6L268.3,1221.7M293.2,1209.9L280.8,1226.5M284.3,1224.7L280.8,1226.5L281.5,1222.6M319.0,1212.9L311.0,1223.5M314.5,1221.8L311.0,1223.5L311.7,1219.7M345.9,1212.8L340.1,1223.6M343.3,1221.4L340.1,1223.6L340.2,1219.7M360.3,1213.1L353.7,1223.3M357.1,1221.3L353.7,1223.3L354.1,1219.4M372.9,1213.9L369.1,1222.5M371.5,1220.5L369.1,1222.5L368.9,1219.4M384.9,1212.0L385.1,1224.4M386.8,1220.9L385.1,1224.4L383.3,1221.0M395.9,1212.6L402.1,1223.8M401.9,1219.9L402.1,1223.8L398.9,1221.6M410.2,1213.9L415.8,1222.5M415.4,1219.1L415.8,1222.5L412.8,1220.8M422.1,1214.4L431.9,1222.0M430.2,1218.5L431.9,1222.0L428.0,1221.2M434.2,1215.5L447.8,1220.9M445.2,1218.0L447.8,1220.9L443.9,1221.2M447.5,1215.9L462.5,1220.5M459.7,1217.8L462.5,1220.5L458.7,1221.2M464.0,1218.0L474.0,1218.4M471.1,1216.8L474.0,1218.4L471.0,1219.8M476.7,1218.9L489.3,1217.5M485.6,1216.1L489.3,1217.5L486.0,1219.6M489.8,1221.6L504.2,1214.8M500.3,1214.7L504.2,1214.8L501.8,1217.9M506.0,1220.9L516.0,1215.5M512.2,1215.6L516.0,1215.5L513.8,1218.6M520.9,1221.7L529.1,1214.7M525.6,1215.6L529.1,1214.7L527.7,1218.0M534.8,1221.4L543.2,1215.0M539.7,1215.7L543.2,1215.0L541.6,1218.2M548.7,1220.5L557.3,1215.9M554.0,1216.0L557.3,1215.9L555.4,1218.5M561.5,1220.4L572.5,1216.0M568.6,1215.7L572.5,1216.0L569.8,1219.0M589.0,1219.6L601.0,1216.8M597.2,1215.9L601.0,1216.8L598.0,1219.3M603.4,1220.5L614.6,1215.9M610.7,1215.6L614.6,1215.9L612.0,1218.9M619.6,1219.4L626.4,1217.0M624.0,1216.7L626.4,1217.0L624.7,1218.8M632.1,1221.5L641.9,1214.9M638.0,1215.4L641.9,1214.9L640.0,1218.3M648.5,1222.9L653.5,1213.5M650.6,1215.6L653.5,1213.5L653.4,1217.1M663.0,1225.4L667.0,1211.0M664.4,1213.9L667.0,1211.0L667.8,1214.8M678.1,1222.5L679.9,1213.9M678.1,1216.2L679.9,1213.9L680.6,1216.7M692.1,1223.5L693.9,1212.9M691.8,1215.8L693.9,1212.9L695.0,1216.3M707.3,1222.9L706.7,1213.5M705.5,1216.4L706.7,1213.5L708.3,1216.2M720.8,1222.2L721.2,1214.2M719.9,1216.5L721.2,1214.2L722.3,1216.6M118.5,1231.3L119.5,1233.5M119.6,1232.7L119.5,1233.5L118.9,1233.0M133.6,1231.4L132.4,1233.4M133.1,1233.0L132.4,1233.4L132.5,1232.6M147,1232h1.5M161.3,1231.1L160.7,1233.7M161.3,1233.0L160.7,1233.7L160.5,1232.8M175.0,1230.1L175.0,1234.7M175.7,1233.3L175.0,1234.7L174.3,1233.3M189.3,1230.8L188.7,1234.0M189.4,1233.1L188.7,1234.0L188.4,1233.0M203.6,1229.7L202.4,1235.1M203.6,1233.7L202.4,1235.1L201.9,1233.3M219.2,1228.6L214.8,1236.2M217.2,1234.6L214.8,1236.2L215.0,1233.2M233.5,1229.7L228.5,1235.1M230.8,1234.2L228.5,1235.1L229.2,1232.7M248.7,1228.5L241.3,1236.3M244.7,1235.1L241.3,1236.3L242.3,1232.8M263.5,1225.6L254.5,1239.2M257.9,1237.3L254.5,1239.2L255.0,1235.3M277.2,1226.8L268.8,1238.0M272.3,1236.3L268.8,1238.0L269.5,1234.2M291.6,1225.8L282.4,1239.0M285.9,1237.1L282.4,1239.0L283.0,1235.1M305.4,1226.1L296.6,1238.7M300.0,1236.9L296.6,1238.7L297.1,1234.9M319.4,1227.6L310.6,1237.2M314.2,1235.8L310.6,1237.2L311.7,1233.4M333.6,1226.0L324.4,1238.8M327.9,1237.0L324.4,1238.8L325.0,1234.9M346.9,1226.4L339.1,1238.4M342.5,1236.4L339.1,1238.4L339.5,1234.5M361.7,1225.6L352.3,1239.2M355.7,1237.3L352.3,1239.2L352.8,1235.3M373.6,1227.0L368.4,1237.8M371.5,1235.4L368.4,1237.8L368.3,1233.9M385.4,1228.6L384.6,1236.2M386.0,1234.0L384.6,1236.2L383.7,1233.8M395.6,1227.2L402.4,1237.6M402.0,1233.8L402.4,1237.6L399.0,1235.7M409.8,1228.3L416.2,1236.5M415.5,1233.1L416.2,1236.5L413.1,1235.0M421.7,1229.2L432.3,1235.6M430.2,1232.3L432.3,1235.6L428.4,1235.3M436.7,1229.8L445.3,1235.0M443.5,1232.2L445.3,1235.0L441.9,1234.7M447.9,1231.2L462.1,1233.6M458.9,1231.3L462.1,1233.6L458.4,1234.7M464.6,1231.7L473.4,1233.1M470.9,1231.4L473.4,1233.1L470.5,1234.0M478.1,1233.1L487.9,1231.7M484.7,1230.7L487.9,1231.7L485.2,1233.6M490.7,1234.0L503.3,1230.8M499.4,1230.0L503.3,1230.8L500.3,1233.4M506.7,1235.2L515.3,1229.6M511.9,1230.0L515.3,1229.6L513.6,1232.6M520.5,1235.3L529.5,1229.5M525.9,1229.9L529.5,1229.5L527.7,1232.6M534.4,1234.1L543.6,1230.7M540.3,1230.3L543.6,1230.7L541.4,1233.1M548.0,1234.4L558.0,1230.4M554.4,1230.1L558.0,1230.4L555.6,1233.1M561.2,1233.9L572.8,1230.9M569.0,1230.1L572.8,1230.9L569.8,1233.5M573.9,1234.1L588.1,1230.7M584.3,1229.8L588.1,1230.7L585.1,1233.2M589.0,1234.3L601.0,1230.5M597.1,1229.9L601.0,1230.5L598.2,1233.2M602.2,1234.4L615.8,1230.4M611.9,1229.7L615.8,1230.4L612.9,1233.1M617.0,1234.2L629.0,1230.6M625.1,1229.9L629.0,1230.6L626.1,1233.3M633.7,1235.6L640.3,1229.2M637.4,1230.1L640.3,1229.2L639.3,1232.1M648.3,1238.0L653.7,1226.8M650.6,1229.2L653.7,1226.8L653.7,1230.7M664.0,1238.7L666.0,1226.1M663.7,1229.3L666.0,1226.1L667.2,1229.8M678.1,1238.3L679.9,1226.5M677.6,1229.7L679.9,1226.5L681.1,1230.2M692.3,1238.0L693.7,1226.8M691.6,1230.0L693.7,1226.8L694.9,1230.4M706.5,1236.3L707.5,1228.5M706.0,1230.7L707.5,1228.5L708.3,1231.0M721.6,1237.7L720.4,1227.1M719.1,1230.5L720.4,1227.1L722.3,1230.1M118.3,1244.6L119.7,1248.6M119.9,1247.2L119.7,1248.6L118.7,1247.6M132.4,1245.6L133.6,1247.6M133.6,1246.8L133.6,1247.6L132.9,1247.2M147.2,1244.8L146.8,1248.4M147.5,1247.4L146.8,1248.4L146.3,1247.3M161,1247h1.5M175.3,1244.5L174.7,1248.7M175.5,1247.5L174.7,1248.7L174.2,1247.4M188.6,1245.1L189.4,1248.1M189.6,1247.1L189.4,1248.1L188.7,1247.3M203.4,1244.9L202.6,1248.3M203.3,1247.4L202.6,1248.3L202.3,1247.2M218.3,1243.0L215.7,1250.2M217.6,1248.4L215.7,1250.2L215.4,1247.7M233.3,1243.2L228.7,1250.0M231.1,1248.6L228.7,1250.0L229.1,1247.3M249.2,1241.0L240.8,1252.2M244.3,1250.5L240.8,1252.2L241.5,1248.4M264.3,1240.2L253.7,1253.0M257.3,1251.4L253.7,1253.0L254.6,1249.1M276.8,1240.5L269.2,1252.7M272.6,1250.6L269.2,1252.7L269.6,1248.8M290.0,1242.1L284.0,1251.1M287.1,1249.3L284.0,1251.1L284.5,1247.5M305.3,1239.1L296.7,1254.1M299.9,1251.9L296.7,1254.1L296.9,1250.2M319.5,1240.9L310.5,1252.3M314.0,1250.6L310.5,1252.3L311.3,1248.4M333.3,1239.9L324.7,1253.3M328.1,1251.3L324.7,1253.3L325.1,1249.4M348.2,1239.6L337.8,1253.6M341.3,1251.8L337.8,1253.6L338.5,1249.7M360.1,1240.2L353.9,1253.0M357.0,1250.7L353.9,1253.0L353.8,1249.1M372.4,1238.8L369.6,1254.4M371.9,1251.2L369.6,1254.4L368.5,1250.6M384.0,1240.8L386.0,1252.4M387.1,1248.6L386.0,1252.4L383.7,1249.2M408.3,1243.9L417.7,1249.3M415.7,1246.3L417.7,1249.3L414.1,1249.1M422.4,1243.8L431.6,1249.4M429.7,1246.3L431.6,1249.4L428.0,1249.1M436.6,1244.8L445.4,1248.4M443.3,1246.0L445.4,1248.4L442.2,1248.6M449.4,1245.6L460.6,1247.6M457.6,1245.3L460.6,1247.6L457.0,1248.7M460.8,1246.5L477.2,1246.7M473.7,1244.9L477.2,1246.7L473.7,1248.4M477.1,1247.0L488.9,1246.2M485.3,1244.7L488.9,1246.2L485.5,1248.2M492.9,1247.7L501.1,1245.5M498.3,1244.9L501.1,1245.5L499.0,1247.4M506.2,1248.4L515.8,1244.8M512.4,1244.5L515.8,1244.8L513.5,1247.3M519.2,1249.4L530.8,1243.8M526.9,1243.7L530.8,1243.8L528.4,1246.9M532.8,1248.7L545.2,1244.5M541.4,1244.0L545.2,1244.5L542.5,1247.3M547.8,1248.1L558.2,1245.1M554.6,1244.4L558.2,1245.1L555.5,1247.6M560.5,1248.3L573.5,1244.9M569.6,1244.1L573.5,1244.9L570.5,1247.5M575.0,1248.8L587.0,1244.4M583.1,1244.0L587.0,1244.4L584.3,1247.3M588.9,1248.0L601.1,1245.2M597.3,1244.3L601.1,1245.2L598.1,1247.7M603.6,1248.0L614.4,1245.2M610.7,1244.4L614.4,1245.2L611.6,1247.7M618.3,1248.8L627.7,1244.4M624.2,1244.3L627.7,1244.4L625.5,1247.1M634.1,1250.0L639.9,1243.2M637.2,1244.4L639.9,1243.2L639.2,1246.1M649.7,1250.7L652.3,1242.5M650.3,1244.6L652.3,1242.5L652.7,1245.4M663.7,1253.7L666.3,1239.5M664.0,1242.6L666.3,1239.5L667.4,1243.3M677.8,1253.5L680.2,1239.7M677.9,1242.9L680.2,1239.7L681.3,1243.5M693.3,1251.3L692.7,1241.9M691.5,1244.8L692.7,1241.9L694.3,1244.6M707.1,1250.2L706.9,1243.0M705.9,1245.2L706.9,1243.0L708.1,1245.1M721.4,1249.2L720.6,1244.0M720.1,1245.7L720.6,1244.0L721.6,1245.4" stroke="#e2e22a" stroke-width="1.45" fill="none" stroke-linecap="round"/></g>
<g clip-path="url(#f2)"><rect x="8" y="1251" width="722" height="414" fill="#000"/>
<rect x="122" y="1251" width="608" height="414" fill="#07071c"/>
<ellipse cx="148" cy="1345" rx="22" ry="55" fill="#1a1aa8" fill-opacity="0.80" filter="url(#b12)"/>
<ellipse cx="235" cy="1360" rx="55" ry="35" fill="#1a1aa8" fill-opacity="0.80" filter="url(#b12)"/>
<ellipse cx="345" cy="1375" rx="60" ry="40" fill="#1a1aa8" fill-opacity="0.80" filter="url(#b12)"/>
<ellipse cx="575" cy="1350" rx="26" ry="100" fill="#1a1aa8" fill-opacity="0.80" filter="url(#b12)"/>
<ellipse cx="700" cy="1300" rx="28" ry="50" fill="#1a1aa8" fill-opacity="0.80" filter="url(#b12)"/>
<ellipse cx="300" cy="1525" rx="60" ry="30" fill="#1a1aa8" fill-opacity="0.80" filter="url(#b12)"/>
<ellipse cx="375" cy="1478" rx="25" ry="28" fill="#1a1aa8" fill-opacity="0.80" filter="url(#b12)"/>
<ellipse cx="675" cy="1530" rx="22" ry="70" fill="#1a1aa8" fill-opacity="0.80" filter="url(#b12)"/>
<ellipse cx="180" cy="1430" rx="60" ry="14" fill="#1a1aa8" fill-opacity="0.80" filter="url(#b12)"/>
<ellipse cx="668" cy="1325" rx="25" ry="45" fill="#1a1aa8" fill-opacity="0.80" filter="url(#b12)"/>
<ellipse cx="712" cy="1285" rx="18" ry="35" fill="#1a1aa8" fill-opacity="0.80" filter="url(#b12)"/>
<ellipse cx="205" cy="1277" rx="35" ry="18" fill="#a00e0e" fill-opacity="0.95" filter="url(#b12)"/>
<ellipse cx="300" cy="1268" rx="50" ry="12" fill="#780808" fill-opacity="0.95" filter="url(#b12)"/>
<ellipse cx="512" cy="1312" rx="40" ry="40" fill="#c41c1c" fill-opacity="0.95" filter="url(#b12)"/>
<ellipse cx="505" cy="1410" rx="38" ry="42" fill="#880a0a" fill-opacity="0.95" filter="url(#b12)"/>
<ellipse cx="625" cy="1268" rx="28" ry="16" fill="#8a0a0a" fill-opacity="0.95" filter="url(#b12)"/>
<ellipse cx="598" cy="1330" rx="20" ry="24" fill="#900c0c" fill-opacity="0.95" filter="url(#b12)"/>
<ellipse cx="700" cy="1355" rx="30" ry="25" fill="#800a0a" fill-opacity="0.95" filter="url(#b12)"/>
<ellipse cx="690" cy="1398" rx="38" ry="25" fill="#c0401a" fill-opacity="0.95" filter="url(#b12)"/>
<ellipse cx="300" cy="1472" rx="60" ry="20" fill="#a80e0e" fill-opacity="0.95" filter="url(#b12)"/>
<ellipse cx="420" cy="1560" rx="42" ry="42" fill="#c03012" fill-opacity="0.95" filter="url(#b12)"/>
<ellipse cx="260" cy="1588" rx="125" ry="22" fill="#b03838" fill-opacity="0.95" filter="url(#b12)"/>
<ellipse cx="520" cy="1475" rx="55" ry="25" fill="#b05050" fill-opacity="0.95" filter="url(#b12)"/>
<ellipse cx="610" cy="1465" rx="45" ry="32" fill="#8a8ad0" fill-opacity="0.80" filter="url(#b12)"/>
<ellipse cx="545" cy="1470" rx="40" ry="20" fill="#d09090" fill-opacity="0.80" filter="url(#b12)"/>
<rect x="122" y="1251" width="608" height="414" filter="url(#noise)" opacity="0.16"/>
<rect x="8" y="1251" width="114" height="170" fill="#000"/>
<path d="M118,1598 L470,1598 L470,1665 L118,1665 Z" fill="#56566c" filter="url(#b4)"/>
<rect x="8" y="1556" width="94" height="109" fill="#1e1e1e"/>
<rect x="100" y="1572" width="12" height="93" fill="#a0a0a0" filter="url(#b2)"/>
<polygon points="8,1422 55,1407 110,1411 146,1420 182,1435 210,1449 228,1464 234,1482 232,1504 215,1519 192,1531 173,1544 146,1557 110,1555 8,1556" fill="#7c7c7c" filter="url(#b2)"/>
<polygon points="45,1470 80,1440 130,1430 180,1440 215,1460 230,1485 225,1510 195,1530 160,1548 120,1552 70,1540 45,1510" fill="#b8b8b8" filter="url(#b8)"/>
<rect x="8" y="1405" width="228" height="155" fill="#000" filter="url(#tex)" opacity="0.25" clip-path="url(#fish2c)"/>
<polygon points="8,1420 50,1410 95,1414 75,1480 8,1430" fill="#5e5e5e" filter="url(#b4)"/>
<ellipse cx="82" cy="1440" rx="12" ry="8" fill="#c8c8c8" fill-opacity="0.60" filter="url(#b2)"/>
<path d="M9,1425 L73,1480" stroke="#2a2a2a" stroke-width="7" filter="url(#b2)"/>
<polygon points="8,1458 76,1481 8,1486" fill="#3c3c3c" filter="url(#b4)"/>
<path d="M9,1545 L90,1552" stroke="#b4b4b4" stroke-width="8" filter="url(#b4)"/>
<path d="M420.0,1436.0 C427.9,1437.0 452.4,1439.7 467.4,1442.2 C482.4,1444.7 497.0,1447.5 510.0,1451.0 C523.0,1454.5 532.8,1458.2 545.3,1463.0 C557.8,1467.8 569.2,1472.2 585.0,1480.0 C600.8,1487.8 630.8,1505.0 640.0,1510.0" transform="translate(0,6)" fill="none" stroke="#d0a8c8" stroke-width="24" stroke-opacity="0.6" filter="url(#b8)"/>
<path d="M128.6,1262.5L123.4,1261.5M124.8,1262.6L123.4,1261.5L125.1,1261.0M142.7,1261.6L137.3,1262.4M139.1,1263.0L137.3,1262.4L138.8,1261.4M156.5,1261.7L151.5,1262.3M153.1,1262.9L151.5,1262.3L152.9,1261.3M170.6,1261.6L165.4,1262.4M167.1,1263.0L165.4,1262.4L166.8,1261.4M185.2,1262.0L178.8,1262.0M180.7,1263.0L178.8,1262.0L180.7,1261.1M198.7,1262.0L193.3,1262.0M194.9,1262.8L193.3,1262.0L194.9,1261.2M211.9,1261.9L208.1,1262.1M209.3,1262.6L208.1,1262.1L209.2,1261.5M227.0,1262.2L221.0,1261.8M222.7,1262.8L221.0,1261.8L222.9,1261.0M239.9,1261.7L236.1,1262.3M237.3,1262.7L236.1,1262.3L237.2,1261.6M254.7,1261.6L249.3,1262.4M251.0,1263.0L249.3,1262.4L250.8,1261.4M268.5,1262.1L263.5,1261.9M265.0,1262.7L263.5,1261.9L265.0,1261.2M283.6,1261.5L276.4,1262.5M278.7,1263.3L276.4,1262.5L278.4,1261.1M296.3,1261.9L291.7,1262.1M293.1,1262.7L291.7,1262.1L293.0,1261.4M309.7,1262.0L306.3,1262.0M307.3,1262.5L306.3,1262.0L307.3,1261.5M324.6,1261.5L319.4,1262.5M321.1,1263.0L319.4,1262.5L320.8,1261.4M338.1,1261.9L333.9,1262.1M335.2,1262.7L333.9,1262.1L335.1,1261.4M352.3,1260.8L347.7,1263.2M349.5,1263.2L347.7,1263.2L348.7,1261.8M366.0,1260.5L362.0,1263.5M363.7,1263.2L362.0,1263.5L362.7,1262.0M379.2,1260.9L376.8,1263.1M377.8,1262.8L376.8,1263.1L377.2,1262.1M393.4,1260.6L390.6,1263.4M391.8,1263.0L390.6,1263.4L391.0,1262.1M407.5,1257.4L404.5,1266.6M406.8,1264.3L404.5,1266.6L404.0,1263.4M434.8,1256.8L433.2,1267.2M435.2,1264.3L433.2,1267.2L432.1,1263.8M448.6,1257.5L447.4,1266.5M449.1,1264.0L447.4,1266.5L446.4,1263.6M463.0,1258.3L461.0,1265.7M462.7,1263.8L461.0,1265.7L460.5,1263.2M479.0,1259.9L473.0,1264.1M475.4,1263.7L473.0,1264.1L474.2,1261.9M493.1,1261.0L486.9,1263.0M489.1,1263.3L486.9,1263.0L488.5,1261.5M508.3,1260.9L499.7,1263.1M502.6,1263.7L499.7,1263.1L502.0,1261.2M538.5,1265.7L525.5,1258.3M527.7,1261.6L525.5,1258.3L529.4,1258.5M549.6,1266.7L542.4,1257.3M543.2,1261.2L542.4,1257.3L546.0,1259.0M562.1,1265.2L557.9,1258.8M558.2,1261.3L557.9,1258.8L560.1,1260.1M576.3,1268.1L571.7,1255.9M571.3,1259.8L571.7,1255.9L574.6,1258.5M590.3,1267.3L585.7,1256.7M585.5,1260.6L585.7,1256.7L588.7,1259.2M603.2,1266.1L600.8,1257.9M600.3,1260.7L600.8,1257.9L602.8,1260.0M616.6,1268.7L615.4,1255.3M614.0,1258.9L615.4,1255.3L617.4,1258.6M630.4,1270.1L629.6,1253.9M628.0,1257.5L629.6,1253.9L631.5,1257.3M658.5,1267.0L657.5,1257.0M656.3,1260.1L657.5,1257.0L659.3,1259.8M671.3,1266.9L672.7,1257.1M670.8,1259.8L672.7,1257.1L673.8,1260.2M686.1,1267.0L685.9,1257.0M684.5,1260.0L685.9,1257.0L687.5,1260.0M699.5,1267.5L700.5,1256.5M698.5,1259.7L700.5,1256.5L701.8,1260.0M128.9,1275.7L123.1,1276.7M125.0,1277.3L123.1,1276.7L124.7,1275.5M142.4,1276.4L137.6,1276.0M139.0,1276.8L137.6,1276.0L139.1,1275.4M156.5,1276.2L151.5,1276.2M153.0,1276.9L151.5,1276.2L153.0,1275.4M169.5,1275.3L166.5,1277.1M167.7,1277.0L166.5,1277.1L167.2,1276.1M198.4,1276.6L193.6,1275.8M194.9,1276.8L193.6,1275.8L195.2,1275.3M213.2,1276.1L206.8,1276.3M208.8,1277.2L206.8,1276.3L208.7,1275.3M227.0,1275.4L221.0,1277.0M223.0,1277.4L221.0,1277.0L222.5,1275.6M239.6,1276.7L236.4,1275.7M237.2,1276.5L236.4,1275.7L237.5,1275.5M254.7,1276.8L249.3,1275.6M250.7,1276.8L249.3,1275.6L251.1,1275.1M268.3,1276.5L263.7,1275.9M265.0,1276.8L263.7,1275.9L265.2,1275.4M282.1,1276.3L277.9,1276.1M279.1,1276.8L277.9,1276.1L279.2,1275.5M295.3,1276.5L292.7,1275.9M293.4,1276.5L292.7,1275.9L293.6,1275.7M310.0,1275.5L306.0,1276.9M307.4,1277.1L306.0,1276.9L307.0,1275.9M324.0,1276.5L320.0,1275.9M321.1,1276.7L320.0,1275.9L321.3,1275.5M351.1,1275.2L348.9,1277.2M349.9,1276.9L348.9,1277.2L349.2,1276.3M365.2,1275.1L362.8,1277.3M363.9,1277.0L362.8,1277.3L363.2,1276.3M379.1,1274.6L376.9,1277.8M378.0,1277.2L376.9,1277.8L377.1,1276.5M392.8,1274.9L391.2,1277.5M392.1,1276.9L391.2,1277.5L391.3,1276.5M407.1,1273.2L404.9,1279.2M406.5,1277.7L404.9,1279.2L404.7,1277.1M420.4,1269.8L419.6,1282.6M421.6,1279.2L419.6,1282.6L418.1,1279.0M433.6,1272.0L434.4,1280.4M435.4,1277.8L434.4,1280.4L432.9,1278.0M449.2,1271.7L446.8,1280.7M448.9,1278.3L446.8,1280.7L446.2,1277.6M464.4,1271.3L459.6,1281.1M462.5,1278.9L459.6,1281.1L459.6,1277.4M479.4,1271.9L472.6,1280.5M475.9,1278.9L472.6,1280.5L473.4,1276.9M493.5,1273.3L486.5,1279.1M489.5,1278.4L486.5,1279.1L487.7,1276.3M508.0,1275.0L500.0,1277.4M502.7,1277.9L500.0,1277.4L502.0,1275.5M524.5,1277.1L511.5,1275.3M514.8,1277.5L511.5,1275.3L515.2,1274.1M537.3,1279.7L526.7,1272.7M528.6,1276.1L526.7,1272.7L530.6,1273.1M550.0,1280.2L542.0,1272.2M543.2,1275.8L542.0,1272.2L545.6,1273.4M562.0,1280.4L558.0,1272.0M557.9,1275.1L558.0,1272.0L560.5,1273.9M575.6,1282.0L572.4,1270.4M571.6,1274.2L572.4,1270.4L575.0,1273.2M590.6,1283.0L585.4,1269.4M585.0,1273.3L585.4,1269.4L588.3,1272.1M603.1,1283.4L600.9,1269.0M599.7,1272.7L600.9,1269.0L603.2,1272.2M616.2,1281.6L615.8,1270.8M614.3,1274.1L615.8,1270.8L617.5,1274.0M630.1,1280.7L629.9,1271.7M628.6,1274.4L629.9,1271.7L631.3,1274.4M643.5,1283.9L644.5,1268.5M642.5,1271.9L644.5,1268.5L646.0,1272.1M657.8,1282.3L658.2,1270.1M656.3,1273.5L658.2,1270.1L659.8,1273.6M671.5,1280.1L672.5,1272.3M671.0,1274.5L672.5,1272.3L673.4,1274.8M685.9,1282.8L686.1,1269.6M684.3,1273.0L686.1,1269.6L687.8,1273.1M699.8,1280.6L700.2,1271.8M698.7,1274.4L700.2,1271.8L701.4,1274.5M714.0,1282.2L714.0,1270.2M712.2,1273.7L714.0,1270.2L715.7,1273.6M128.2,1289.8L123.8,1291.0M125.3,1291.3L123.8,1291.0L125.0,1290.0M141.5,1289.5L138.5,1291.3M139.7,1291.2L138.5,1291.3L139.1,1290.3M169.0,1290.3L167.0,1290.5M167.6,1290.8L167.0,1290.5L167.6,1290.1M184.4,1289.4L179.6,1291.4M181.3,1291.5L179.6,1291.4L180.7,1290.1M199.1,1290.4L192.9,1290.4M194.8,1291.3L192.9,1290.4L194.8,1289.5M212.5,1290.8L207.5,1290.0M208.9,1291.0L207.5,1290.0L209.1,1289.5M227.0,1290.0L221.0,1290.8M222.9,1291.5L221.0,1290.8L222.7,1289.7M239.5,1290.4L236.5,1290.4M237.4,1290.9L236.5,1290.4L237.4,1289.9M253.9,1289.4L250.1,1291.4M251.5,1291.4L250.1,1291.4L250.9,1290.2M268.5,1289.7L263.5,1291.1M265.2,1291.4L263.5,1291.1L264.8,1289.9M282.0,1289.3L278.0,1291.5M279.5,1291.4L278.0,1291.5L278.9,1290.2M295.8,1289.7L292.2,1291.1M293.5,1291.2L292.2,1291.1L293.1,1290.1M309.4,1289.9L306.6,1290.9M307.6,1291.0L306.6,1290.9L307.3,1290.2M323.6,1290.0L320.4,1290.8M321.5,1291.0L320.4,1290.8L321.2,1290.1M336,1290h1.5M351.6,1289.7L348.4,1291.1M349.6,1291.1L348.4,1291.1L349.2,1290.2M365.3,1289.0L362.7,1291.8M363.9,1291.3L362.7,1291.8L363.1,1290.6M378.7,1288.9L377.3,1291.9M378.2,1291.2L377.3,1291.9L377.3,1290.8M393.1,1290.0L390.9,1290.8M391.7,1290.9L390.9,1290.8L391.4,1290.2M406.9,1287.6L405.1,1293.2M406.5,1291.8L405.1,1293.2L404.8,1291.2M420.3,1285.3L419.7,1295.5M421.4,1292.5L419.7,1295.5L418.4,1292.3M433.7,1285.1L434.3,1295.7M435.7,1292.4L434.3,1295.7L432.5,1292.6M447.9,1284.3L448.1,1296.5M449.8,1293.0L448.1,1296.5L446.3,1293.0M462.8,1284.0L461.2,1296.8M463.3,1293.6L461.2,1296.8L459.9,1293.2M478.0,1286.0L474.0,1294.8M476.5,1292.7L474.0,1294.8L473.9,1291.5M494.0,1286.1L486.0,1294.7M489.7,1293.3L486.0,1294.7L487.1,1290.9M508.0,1289.2L500.0,1291.6M502.8,1292.1L500.0,1291.6L502.0,1289.7M522.4,1291.7L513.6,1289.1M515.9,1291.2L513.6,1289.1L516.6,1288.6M536.1,1294.7L527.9,1286.1M529.0,1289.8L527.9,1286.1L531.6,1287.4M549.1,1294.9L542.9,1285.9M543.4,1289.5L542.9,1285.9L546.1,1287.7M561.6,1295.6L558.4,1285.2M557.8,1288.8L558.4,1285.2L560.9,1287.8M576.8,1297.9L571.2,1282.9M570.8,1286.8L571.2,1282.9L574.1,1285.6M589.6,1295.7L586.4,1285.1M585.8,1288.7L586.4,1285.1L589.0,1287.8M603.5,1295.4L600.5,1285.4M599.9,1288.9L600.5,1285.4L602.9,1288.0M616.0,1297.0L616.0,1283.8M614.3,1287.3L616.0,1283.8L617.8,1287.3M630.2,1297.8L629.8,1283.0M628.2,1286.5L629.8,1283.0L631.7,1286.4M643.5,1297.1L644.5,1283.7M642.5,1287.0L644.5,1283.7L646.0,1287.3M658.2,1296.0L657.8,1284.8M656.3,1288.2L657.8,1284.8L659.6,1288.1M671.8,1296.1L672.2,1284.7M670.4,1288.1L672.2,1284.7L673.8,1288.2M685.9,1296.1L686.1,1284.7M684.4,1288.1L686.1,1284.7L687.7,1288.2M699.5,1297.3L700.5,1283.5M698.5,1286.8L700.5,1283.5L702.0,1287.1M714.7,1296.5L713.3,1284.3M712.0,1288.0L713.3,1284.3L715.4,1287.6M125.7,1302.7L126.3,1306.5M126.7,1305.3L126.3,1306.5L125.5,1305.5M154.5,1303.4L153.5,1305.8M154.1,1305.2L153.5,1305.8L153.4,1304.9M169.1,1301.7L166.9,1307.5M168.4,1306.1L166.9,1307.5L166.7,1305.4M181.9,1303.6L182.1,1305.6M182.3,1304.9L182.1,1305.6L181.8,1305.0M197.4,1303.1L194.6,1306.1M195.9,1305.6L194.6,1306.1L195.0,1304.8M210.2,1303.2L209.8,1306.0M210.3,1305.2L209.8,1306.0L209.5,1305.1M224.7,1304.2L223.3,1305.0M223.9,1305.0L223.3,1305.0L223.6,1304.6M239.5,1304.5L236.5,1304.7M237.4,1305.1L236.5,1304.7L237.4,1304.2M253.2,1304.2L250.8,1305.0M251.6,1305.1L250.8,1305.0L251.4,1304.4M266.6,1303.3L265.4,1305.9M266.1,1305.3L265.4,1305.9L265.3,1304.9M281.7,1304.1L278.3,1305.1M279.4,1305.3L278.3,1305.1L279.2,1304.3M295.5,1303.9L292.5,1305.3M293.6,1305.3L292.5,1305.3L293.2,1304.5M309.0,1303.9L307.0,1305.3M307.8,1305.2L307.0,1305.3L307.4,1304.6M323.0,1303.6L321.0,1305.6M321.9,1305.3L321.0,1305.6L321.3,1304.7M336,1305h1.5M350.8,1304.3L349.2,1304.9M349.8,1304.9L349.2,1304.9L349.6,1304.5M365.2,1303.7L362.8,1305.5M363.8,1305.3L362.8,1305.5L363.3,1304.6M378.6,1303.3L377.4,1305.9M378.1,1305.3L377.4,1305.9L377.4,1304.9M392.2,1303.3L391.8,1305.9M392.3,1305.2L391.8,1305.9L391.5,1305.0M407.4,1302.9L404.6,1306.3M405.9,1305.7L404.6,1306.3L404.9,1304.9M420.3,1300.7L419.7,1308.5M421.0,1306.2L419.7,1308.5L418.7,1306.1M433.6,1298.4L434.4,1310.8M435.9,1307.2L434.4,1310.8L432.4,1307.4M447.7,1300.0L448.3,1309.2M449.5,1306.4L448.3,1309.2L446.7,1306.5M462.5,1298.4L461.5,1310.8M463.5,1307.5L461.5,1310.8L460.0,1307.2M477.2,1298.5L474.8,1310.7M477.2,1307.5L474.8,1310.7L473.8,1306.9M492.1,1298.8L487.9,1310.4M490.7,1307.7L487.9,1310.4L487.4,1306.6M505.4,1303.2L502.6,1306.0M503.9,1305.6L502.6,1306.0L503.0,1304.7M520.4,1305.9L515.6,1303.3M516.7,1304.8L515.6,1303.3L517.4,1303.4M533.9,1309.8L530.1,1299.4M529.7,1303.1L530.1,1299.4L532.8,1301.9M547.6,1310.4L544.4,1298.8M543.6,1302.7L544.4,1298.8L547.0,1301.7M561.1,1309.1L558.9,1300.1M558.2,1303.1L558.9,1300.1L560.9,1302.5M575.0,1308.7L573.0,1300.5M572.4,1303.3L573.0,1300.5L574.8,1302.7M589.4,1310.2L586.6,1299.0M585.8,1302.8L586.6,1299.0L589.1,1302.0M603.5,1309.4L600.5,1299.8M599.9,1303.1L600.5,1299.8L602.8,1302.2M615.7,1309.7L616.3,1299.5M614.6,1302.5L616.3,1299.5L617.7,1302.6M630.4,1310.2L629.6,1299.0M628.2,1302.5L629.6,1299.0L631.5,1302.2M658.6,1311.3L657.4,1297.9M656.0,1301.5L657.4,1297.9L659.5,1301.2M672.7,1309.6L671.3,1299.6M670.2,1302.8L671.3,1299.6L673.2,1302.4M686.0,1310.0L686.0,1299.2M684.4,1302.4L686.0,1299.2L687.6,1302.4M700.3,1308.3L699.7,1300.9M698.8,1303.2L699.7,1300.9L701.0,1303.0M713.7,1308.5L714.3,1300.7M712.9,1302.9L714.3,1300.7L715.3,1303.1M126.1,1316.5L125.9,1321.1M126.6,1319.7L125.9,1321.1L125.3,1319.7M139.9,1317.5L140.1,1320.1M140.4,1319.3L140.1,1320.1L139.7,1319.4M154.2,1315.8L153.8,1321.8M154.8,1320.1L153.8,1321.8L153.0,1319.9M168.4,1317.0L167.6,1320.6M168.4,1319.6L167.6,1320.6L167.3,1319.4M181.8,1317.3L182.2,1320.3M182.5,1319.4L182.2,1320.3L181.6,1319.5M197.2,1316.6L194.8,1321.0M196.2,1320.1L194.8,1321.0L194.9,1319.3M211.3,1317.4L208.7,1320.2M209.9,1319.7L208.7,1320.2L209.1,1319.0M224.8,1317.3L223.2,1320.3M224.1,1319.7L223.2,1320.3L223.2,1319.2M239.5,1318.0L236.5,1319.6M237.6,1319.5L236.5,1319.6L237.2,1318.7M253.0,1318.0L251.0,1319.6M251.8,1319.4L251.0,1319.6L251.4,1318.8M266,1319h1.5M280,1319h1.5M294.6,1318.0L293.4,1319.6M294.0,1319.3L293.4,1319.6L293.5,1318.9M309.1,1317.3L306.9,1320.3M308.0,1319.7L306.9,1320.3L307.1,1319.1M322,1319h1.5M336.5,1317.2L335.5,1320.4M336.3,1319.6L335.5,1320.4L335.3,1319.3M351.8,1317.9L348.2,1319.7M349.5,1319.7L348.2,1319.7L349.0,1318.6M364.4,1317.4L363.6,1320.2M364.3,1319.5L363.6,1320.2L363.4,1319.2M379.7,1317.6L376.3,1320.0M377.7,1319.8L376.3,1320.0L377.0,1318.8M393.0,1317.4L391.0,1320.2M392.0,1319.7L391.0,1320.2L391.2,1319.1M406.4,1316.8L405.6,1320.8M406.4,1319.7L405.6,1320.8L405.2,1319.5M433.6,1314.1L434.4,1323.5M435.5,1320.5L434.4,1323.5L432.8,1320.8M448.5,1312.5L447.5,1325.1M449.5,1321.8L447.5,1325.1L446.0,1321.5M462.2,1315.2L461.8,1322.4M463.0,1320.3L461.8,1322.4L460.8,1320.2M488.6,1314.3L491.4,1323.3M491.9,1320.2L491.4,1323.3L489.2,1321.0M503.0,1317.5L505.0,1320.1M504.8,1319.0L505.0,1320.1L504.0,1319.6M516.1,1320.5L519.9,1317.1M518.2,1317.6L519.9,1317.1L519.2,1318.7M530.2,1322.6L533.8,1315.0M531.6,1316.7L533.8,1315.0L533.9,1317.8M545.6,1323.7L546.4,1313.9M544.7,1316.7L546.4,1313.9L547.7,1317.0M560.1,1322.2L559.9,1315.4M559.0,1317.5L559.9,1315.4L561.0,1317.4M575.5,1324.8L572.5,1312.8M571.7,1316.6L572.5,1312.8L575.0,1315.8M589.6,1324.8L586.4,1312.8M585.6,1316.7L586.4,1312.8L589.0,1315.8M615.8,1323.8L616.2,1313.8M614.6,1316.7L616.2,1313.8L617.6,1316.8M629.8,1326.0L630.2,1311.6M628.4,1315.0L630.2,1311.6L631.9,1315.2M643.5,1324.8L644.5,1312.8M642.5,1316.2L644.5,1312.8L646.0,1316.5M657.9,1325.0L658.1,1312.6M656.3,1316.1L658.1,1312.6L659.8,1316.1M672.1,1325.1L671.9,1312.5M670.2,1316.0L671.9,1312.5L673.7,1315.9M685.8,1324.3L686.2,1313.3M684.5,1316.5L686.2,1313.3L687.7,1316.7M699.8,1324.6L700.2,1313.0M698.3,1316.4L700.2,1313.0L701.8,1316.6M714.2,1325.4L713.8,1312.2M712.2,1315.7L713.8,1312.2L715.7,1315.6M126.4,1329.9L125.6,1336.1M126.8,1334.4L125.6,1336.1L124.9,1334.1M139.9,1330.8L140.1,1335.2M140.7,1333.8L140.1,1335.2L139.4,1333.9M153.4,1330.1L154.6,1335.9M155.1,1334.0L154.6,1335.9L153.4,1334.3M168.1,1330.3L167.9,1335.7M168.8,1334.1L167.9,1335.7L167.1,1334.0M181.7,1330.3L182.3,1335.7M182.9,1334.0L182.3,1335.7L181.3,1334.2M197.1,1331.4L194.9,1334.6M196.0,1334.0L194.9,1334.6L195.1,1333.3M211.0,1331.1L209.0,1334.9M210.2,1334.1L209.0,1334.9L209.0,1333.5M224,1333h1.5M239.1,1331.4L236.9,1334.6M238.1,1334.0L236.9,1334.6L237.1,1333.3M253.4,1333.0L250.6,1333.0M251.4,1333.4L250.6,1333.0L251.4,1332.6M267.7,1332.2L264.3,1333.8M265.6,1333.8L264.3,1333.8L265.1,1332.8M280.4,1331.3L279.6,1334.7M280.3,1333.8L279.6,1334.7L279.3,1333.5M295.4,1331.9L292.6,1334.1M293.8,1333.8L292.6,1334.1L293.1,1333.0M308.3,1332.1L307.7,1333.9M308.1,1333.5L307.7,1333.9L307.6,1333.3M323.2,1332.1L320.8,1333.9M321.8,1333.7L320.8,1333.9L321.2,1333.0M336.3,1331.5L335.7,1334.5M336.3,1333.7L335.7,1334.5L335.5,1333.5M350.3,1331.9L349.7,1334.1M350.2,1333.5L349.7,1334.1L349.5,1333.4M365.3,1331.5L362.7,1334.5M363.9,1334.0L362.7,1334.5L363.0,1333.2M379.4,1332.2L376.6,1333.8M377.7,1333.7L376.6,1333.8L377.2,1332.9M393.3,1332.5L390.7,1333.5M391.6,1333.6L390.7,1333.5L391.4,1332.8M406.4,1330.9L405.6,1335.1M406.5,1333.9L405.6,1335.1L405.2,1333.7M433.6,1330.0L434.4,1336.0M435.1,1334.1L434.4,1336.0L433.3,1334.3M447.2,1329.2L448.8,1336.8M449.5,1334.3L448.8,1336.8L447.2,1334.8M461.1,1328.8L462.9,1337.2M463.6,1334.4L462.9,1337.2L461.1,1335.0M473.9,1327.0L478.1,1339.0M478.6,1335.1L478.1,1339.0L475.3,1336.3M486.1,1330.0L493.9,1336.0M492.5,1333.0L493.9,1336.0L490.7,1335.4M500.5,1330.9L507.5,1335.1M506.0,1332.8L507.5,1335.1L504.8,1334.9M513.5,1335.3L522.5,1330.7M519.1,1330.7L522.5,1330.7L520.5,1333.5M529.4,1336.8L534.6,1329.2M531.9,1330.7L534.6,1329.2L534.2,1332.3M545.0,1338.5L547.0,1327.5M544.8,1330.5L547.0,1327.5L548.1,1331.1M560.5,1339.7L559.5,1326.3M558.0,1330.0L559.5,1326.3L561.5,1329.7M574.5,1338.8L573.5,1327.2M572.1,1330.8L573.5,1327.2L575.6,1330.5M588.4,1338.4L587.6,1327.6M586.2,1331.0L587.6,1327.6L589.5,1330.7M602.4,1337.7L601.6,1328.3M600.4,1331.2L601.6,1328.3L603.2,1331.0M615.7,1341.0L616.3,1325.0M614.4,1328.4L616.3,1325.0L617.9,1328.6M629.7,1341.7L630.3,1324.3M628.4,1327.7L630.3,1324.3L631.9,1327.8M644.7,1337.5L643.3,1328.5M642.4,1331.4L643.3,1328.5L645.1,1331.0M657.6,1340.8L658.4,1325.2M656.5,1328.7L658.4,1325.2L660.0,1328.8M671.7,1340.1L672.3,1325.9M670.4,1329.3L672.3,1325.9L673.9,1329.5M685.8,1336.4L686.2,1329.6M685.1,1331.6L686.2,1329.6L687.1,1331.7M699.4,1339.6L700.6,1326.4M698.5,1329.7L700.6,1326.4L702.0,1330.1M714.3,1337.3L713.7,1328.7M712.6,1331.4L713.7,1328.7L715.2,1331.2M126.7,1344.1L125.3,1350.3M126.6,1348.7L125.3,1350.3L124.8,1348.2M140.5,1344.6L139.5,1349.8M140.6,1348.4L139.5,1349.8L139.0,1348.1M154.2,1345.3L153.8,1349.1M154.5,1348.0L153.8,1349.1L153.4,1347.9M168.5,1343.8L167.5,1350.6M168.8,1348.7L167.5,1350.6L166.8,1348.4M182.7,1344.5L181.3,1349.9M182.5,1348.5L181.3,1349.9L180.9,1348.0M196.0,1346.0L196.0,1348.4M196.3,1347.7L196.0,1348.4L195.6,1347.7M211.1,1345.9L208.9,1348.5M209.9,1348.1L208.9,1348.5L209.2,1347.4M225.6,1345.4L222.4,1349.0M223.9,1348.4L222.4,1349.0L222.8,1347.5M238.5,1346.2L237.5,1348.2M238.1,1347.7L237.5,1348.2L237.5,1347.4M253.2,1346.3L250.8,1348.1M251.8,1347.9L250.8,1348.1L251.2,1347.2M267.0,1346.9L265.0,1347.5M265.7,1347.6L265.0,1347.5L265.5,1347.0M281.0,1346.3L279.0,1348.1M279.9,1347.9L279.0,1348.1L279.3,1347.3M294.7,1346.7L293.3,1347.7M293.9,1347.6L293.3,1347.7L293.6,1347.2M308.0,1345.8L308.0,1348.6M308.4,1347.8L308.0,1348.6L307.6,1347.7M323.3,1347.1L320.7,1347.3M321.5,1347.6L320.7,1347.3L321.5,1346.9M337.6,1346.5L334.4,1347.9M335.6,1348.0L334.4,1347.9L335.1,1347.0M351.5,1346.9L348.5,1347.5M349.5,1347.8L348.5,1347.5L349.3,1346.9M365.1,1346.9L362.9,1347.5M363.6,1347.7L362.9,1347.5L363.5,1347.0M379.1,1346.8L376.9,1347.6M377.7,1347.7L376.9,1347.6L377.4,1347.0M393.3,1346.2L390.7,1348.2M391.8,1348.0L390.7,1348.2L391.2,1347.2M406.5,1344.8L405.5,1349.6M406.5,1348.3L405.5,1349.6L405.1,1348.0M420.7,1343.4L419.3,1351.0M420.9,1348.9L419.3,1351.0L418.6,1348.5M447.0,1341.5L449.0,1352.9M450.1,1349.2L449.0,1352.9L446.7,1349.8M460.8,1342.0L463.2,1352.4M464.0,1348.9L463.2,1352.4L460.9,1349.6M474.6,1343.8L477.4,1350.6M477.6,1348.1L477.4,1350.6L475.6,1349.0M485.9,1343.3L494.1,1351.1M492.8,1347.5L494.1,1351.1L490.5,1350.0M499.4,1346.7L508.6,1347.7M506.0,1346.0L508.6,1347.7L505.7,1348.8M513.7,1348.3L522.3,1346.1M519.4,1345.5L522.3,1346.1L520.1,1348.1M543.6,1351.6L548.4,1342.8M545.7,1344.7L548.4,1342.8L548.3,1346.2M559.5,1353.4L560.5,1341.0M558.5,1344.4L560.5,1341.0L562.0,1344.7M574.9,1353.6L573.1,1340.8M571.8,1344.5L573.1,1340.8L575.3,1344.0M616.8,1355.0L615.2,1339.4M613.8,1343.1L615.2,1339.4L617.3,1342.7M629.8,1355.5L630.2,1338.9M628.3,1342.3L630.2,1338.9L631.8,1342.4M644.2,1351.3L643.8,1343.1M642.7,1345.6L643.8,1343.1L645.2,1345.5M657.4,1354.5L658.6,1339.9M656.6,1343.2L658.6,1339.9L660.1,1343.5M672.3,1352.7L671.7,1341.7M670.2,1345.1L671.7,1341.7L673.5,1344.9M685.6,1351.8L686.4,1342.6M684.8,1345.2L686.4,1342.6L687.5,1345.5M699.5,1351.8L700.5,1342.6M698.9,1345.2L700.5,1342.6L701.6,1345.5M713.7,1354.7L714.3,1339.7M712.4,1343.1L714.3,1339.7L715.9,1343.2M125.9,1357.9L126.1,1364.9M127.1,1362.8L126.1,1364.9L125.0,1362.8M139.5,1358.2L140.5,1364.6M141.2,1362.6L140.5,1364.6L139.2,1362.8M154.8,1359.9L153.2,1362.9M154.1,1362.2L153.2,1362.9L153.2,1361.7M182.6,1360.5L181.4,1362.3M182.0,1361.9L181.4,1362.3L181.5,1361.6M195.9,1359.7L196.1,1363.1M196.6,1362.1L196.1,1363.1L195.5,1362.1M210.4,1359.9L209.6,1362.9M210.3,1362.1L209.6,1362.9L209.4,1361.8M224.4,1359.7L223.6,1363.1M224.4,1362.2L223.6,1363.1L223.4,1362.0M239.0,1361.1L237.0,1361.7M237.7,1361.8L237.0,1361.7L237.5,1361.2M252.5,1360.4L251.5,1362.4M252.1,1362.0L251.5,1362.4L251.5,1361.7M267.8,1359.6L264.2,1363.2M265.8,1362.7L264.2,1363.2L264.7,1361.6M281.3,1360.1L278.7,1362.7M279.9,1362.3L278.7,1362.7L279.1,1361.5M295.3,1360.2L292.7,1362.6M293.8,1362.3L292.7,1362.6L293.1,1361.5M308.7,1361.2L307.3,1361.6M307.8,1361.7L307.3,1361.6L307.6,1361.3M323.4,1360.1L320.6,1362.7M321.8,1362.3L320.6,1362.7L321.1,1361.5M337.3,1360.0L334.7,1362.8M335.9,1362.3L334.7,1362.8L335.1,1361.6M351.8,1360.5L348.2,1362.3M349.5,1362.3L348.2,1362.3L349.0,1361.2M364.7,1360.3L363.3,1362.5M364.1,1362.0L363.3,1362.5L363.4,1361.6M378.9,1359.5L377.1,1363.3M378.2,1362.4L377.1,1363.3L377.1,1361.9M393.5,1360.3L390.5,1362.5M391.7,1362.3L390.5,1362.5L391.1,1361.4M406.4,1360.8L405.6,1362.0M406.0,1361.8L405.6,1362.0L405.6,1361.5M420.4,1358.7L419.6,1364.1M420.7,1362.6L419.6,1364.1L419.0,1362.4M433.8,1357.5L434.2,1365.3M435.3,1362.9L434.2,1365.3L432.9,1363.0M448.1,1357.8L447.9,1365.0M449.0,1362.9L447.9,1365.0L446.9,1362.8M461.7,1358.2L462.3,1364.6M463.1,1362.6L462.3,1364.6L461.2,1362.8M475.7,1359.6L476.3,1363.2M476.7,1362.0L476.3,1363.2L475.6,1362.2M487.7,1359.7L492.3,1363.1M491.4,1361.4L492.3,1363.1L490.4,1362.8M503.2,1361.6L504.8,1361.2M504.3,1361.1L504.8,1361.2L504.4,1361.6M515.6,1361.6L520.4,1361.2M518.9,1360.6L520.4,1361.2L519.0,1362.0M530.2,1363.4L533.8,1359.4M532.1,1360.1L533.8,1359.4L533.3,1361.1M545.3,1365.7L546.7,1357.1M545.0,1359.5L546.7,1357.1L547.5,1359.9M560.5,1366.1L559.5,1356.7M558.4,1359.7L559.5,1356.7L561.2,1359.4M575.4,1367.4L572.6,1355.4M571.7,1359.2L572.6,1355.4L575.1,1358.4M590.1,1368.4L585.9,1354.4M585.2,1358.2L585.9,1354.4L588.6,1357.2M602.4,1368.0L601.6,1354.8M600.1,1358.4L601.6,1354.8L603.6,1358.2M615.8,1367.5L616.2,1355.3M614.3,1358.7L616.2,1355.3L617.8,1358.8M630.7,1366.8L629.3,1356.0M628.1,1359.4L629.3,1356.0L631.4,1359.0M643.4,1369.3L644.6,1353.5M642.6,1356.8L644.6,1353.5L646.1,1357.1M657.3,1366.7L658.7,1356.1M656.7,1359.1L658.7,1356.1L659.9,1359.5M671.5,1365.8L672.5,1357.0M670.9,1359.5L672.5,1357.0L673.5,1359.8M685.8,1366.6L686.2,1356.2M684.5,1359.3L686.2,1356.2L687.6,1359.4M699.2,1367.1L700.8,1355.7M698.6,1358.9L700.8,1355.7L702.0,1359.4M713.5,1366.4L714.5,1356.4M712.7,1359.2L714.5,1356.4L715.7,1359.5M125.6,1372.4L126.4,1378.8M127.1,1376.8L126.4,1378.8L125.2,1377.0M139.6,1373.6L140.4,1377.6M140.8,1376.3L140.4,1377.6L139.6,1376.5M154.3,1373.7L153.7,1377.5M154.5,1376.5L153.7,1377.5L153.3,1376.3M167.6,1372.2L168.4,1379.0M169.2,1376.9L168.4,1379.0L167.1,1377.1M181.8,1373.4L182.2,1377.8M182.7,1376.4L182.2,1377.8L181.4,1376.5M196.1,1373.6L195.9,1377.6M196.5,1376.4L195.9,1377.6L195.4,1376.3M210.7,1373.9L209.3,1377.3M210.2,1376.5L209.3,1377.3L209.2,1376.1M224,1376h1.5M238.4,1374.8L237.6,1376.4M238.1,1376.0L237.6,1376.4L237.6,1375.8M252.7,1375.1L251.3,1376.1M251.9,1376.0L251.3,1376.1L251.5,1375.6M266.8,1374.2L265.2,1377.0M266.1,1376.4L265.2,1377.0L265.3,1375.9M281.5,1375.2L278.5,1376.0M279.5,1376.2L278.5,1376.0L279.3,1375.3M294.4,1375.0L293.6,1376.2M294.0,1376.0L293.6,1376.2L293.6,1375.7M308.9,1374.0L307.1,1377.2M308.1,1376.5L307.1,1377.2L307.1,1376.0M322.8,1374.9L321.2,1376.3M321.9,1376.1L321.2,1376.3L321.5,1375.6M336,1376h1.5M351.6,1375.0L348.4,1376.2M349.5,1376.3L348.4,1376.2L349.2,1375.4M364,1376h1.5M378.4,1374.6L377.6,1376.6M378.1,1376.1L377.6,1376.6L377.5,1375.9M393.1,1373.9L390.9,1377.3M392.1,1376.6L390.9,1377.3L391.0,1376.0M407.4,1374.4L404.6,1376.8M405.8,1376.5L404.6,1376.8L405.1,1375.6M420.1,1372.3L419.9,1378.9M421.0,1377.0L419.9,1378.9L418.9,1376.9M433.9,1372.4L434.1,1378.8M435.0,1376.9L434.1,1378.8L433.1,1376.9M448.0,1370.3L448.0,1380.9M449.6,1377.7L448.0,1380.9L446.4,1377.7M462.2,1371.9L461.8,1379.3M463.0,1377.2L461.8,1379.3L460.8,1377.0M476.8,1372.9L475.2,1378.3M476.5,1376.9L475.2,1378.3L474.9,1376.4M490.7,1374.0L489.3,1377.2M490.2,1376.5L489.3,1377.2L489.2,1376.0M505.6,1374.9L502.4,1376.3M503.6,1376.4L502.4,1376.3L503.1,1375.4M518.1,1377.0L517.9,1374.2M517.5,1375.1L517.9,1374.2L518.4,1375.0M531.5,1378.4L532.5,1372.8M531.3,1374.3L532.5,1372.8L533.0,1374.6M546.5,1381.0L545.5,1370.2M544.2,1373.6L545.5,1370.2L547.4,1373.3M561.1,1380.2L558.9,1371.0M558.2,1374.1L558.9,1371.0L560.9,1373.4M575.7,1381.7L572.3,1369.5M571.6,1373.4L572.3,1369.5L575.0,1372.5M588.8,1380.4L587.2,1370.8M586.2,1373.9L587.2,1370.8L589.1,1373.4M603.5,1382.8L600.5,1368.4M599.5,1372.2L600.5,1368.4L602.9,1371.5M616.6,1383.0L615.4,1368.2M613.9,1371.8L615.4,1368.2L617.4,1371.5M629.9,1382.7L630.1,1368.5M628.3,1372.0L630.1,1368.5L631.8,1372.1M643.1,1381.7L644.9,1369.5M642.7,1372.7L644.9,1369.5L646.1,1373.2M657.1,1381.1L658.9,1370.1M656.7,1373.1L658.9,1370.1L660.0,1373.7M671.1,1380.5L672.9,1370.7M670.9,1373.4L672.9,1370.7L673.8,1373.9M684.0,1383.2L688.0,1368.0M685.4,1370.9L688.0,1368.0L688.8,1371.8M698.4,1380.7L701.6,1370.5M699.1,1373.1L701.6,1370.5L702.2,1374.0M713.1,1381.7L714.9,1369.5M712.6,1372.7L714.9,1369.5L716.1,1373.2M125.7,1387.3L126.3,1392.3M126.8,1390.7L126.3,1392.3L125.4,1390.9M140.4,1387.4L139.6,1392.2M140.6,1390.9L139.6,1392.2L139.1,1390.6M154.6,1387.1L153.4,1392.5M154.5,1391.1L153.4,1392.5L153.0,1390.7M181.9,1387.9L182.1,1391.7M182.6,1390.5L182.1,1391.7L181.5,1390.6M210.9,1389.3L209.1,1390.3M209.8,1390.3L209.1,1390.3L209.5,1389.7M224.3,1388.2L223.7,1391.4M224.4,1390.5L223.7,1391.4L223.4,1390.3M239.4,1389.6L236.6,1390.0M237.5,1390.3L236.6,1390.0L237.4,1389.5M253.0,1388.6L251.0,1391.0M251.9,1390.6L251.0,1391.0L251.3,1390.0M267.0,1388.2L265.0,1391.4M266.1,1390.7L265.0,1391.4L265.1,1390.1M280.5,1389.1L279.5,1390.5M280.0,1390.2L279.5,1390.5L279.6,1389.9M294.9,1388.2L293.1,1391.4M294.1,1390.7L293.1,1391.4L293.2,1390.2M309.5,1389.4L306.5,1390.2M307.5,1390.4L306.5,1390.2L307.3,1389.5M323.4,1389.4L320.6,1390.2M321.6,1390.4L320.6,1390.2L321.3,1389.5M336,1390h1.5M351.6,1388.4L348.4,1391.2M349.8,1390.8L348.4,1391.2L349.0,1389.9M365.3,1389.2L362.7,1390.4M363.7,1390.4L362.7,1390.4L363.3,1389.6M380.0,1389.1L376.0,1390.5M377.4,1390.7L376.0,1390.5L377.0,1389.5M393.2,1388.5L390.8,1391.1M391.9,1390.6L390.8,1391.1L391.2,1390.0M407.5,1388.7L404.5,1390.9M405.7,1390.7L404.5,1390.9L405.1,1389.8M421.1,1385.9L418.9,1393.7M420.7,1391.7L418.9,1393.7L418.4,1391.0M434.6,1385.9L433.4,1393.7M434.9,1391.5L433.4,1393.7L432.6,1391.2M462.3,1385.2L461.7,1394.4M463.2,1391.7L461.7,1394.4L460.5,1391.5M476.8,1386.2L475.2,1393.4M476.8,1391.5L475.2,1393.4L474.6,1391.0M491.6,1387.5L488.4,1392.1M490.0,1391.2L488.4,1392.1L488.7,1390.2M506.2,1390.1L501.8,1389.5M503.0,1390.3L501.8,1389.5L503.2,1389.0M519.4,1390.8L516.6,1388.8M517.1,1389.8L516.6,1388.8L517.7,1389.0M547.0,1393.8L545.0,1385.8M544.4,1388.5L545.0,1385.8L546.8,1387.9M560.5,1395.5L559.5,1384.1M558.1,1387.7L559.5,1384.1L561.5,1387.4M575.1,1395.5L572.9,1384.1M571.9,1387.9L572.9,1384.1L575.3,1387.2M590.3,1396.1L585.7,1383.5M585.2,1387.4L585.7,1383.5L588.5,1386.2M602.5,1394.9L601.5,1384.7M600.3,1387.9L601.5,1384.7L603.3,1387.6M616.8,1395.2L615.2,1384.4M614.1,1387.9L615.2,1384.4L617.3,1387.4M630.4,1397.4L629.6,1382.2M628.0,1385.8L629.6,1382.2L631.5,1385.7M643.2,1396.9L644.8,1382.7M642.7,1386.0L644.8,1382.7L646.1,1386.4M657.2,1394.9L658.8,1384.7M656.8,1387.5L658.8,1384.7L659.9,1388.0M670.4,1394.9L673.6,1384.7M671.1,1387.3L673.6,1384.7L674.2,1388.3M684.1,1394.5L687.9,1385.1M685.3,1387.4L687.9,1385.1L688.2,1388.5M698.5,1396.5L701.5,1383.1M699.0,1386.2L701.5,1383.1L702.4,1386.9M711.9,1395.1L716.1,1384.5M713.3,1387.1L716.1,1384.5L716.4,1388.3M142.2,1401.7L137.8,1406.3M139.8,1405.6L137.8,1406.3L138.4,1404.3M155.4,1403.1L152.6,1404.9M153.7,1404.8L152.6,1404.9L153.2,1403.9M184.9,1403.0L179.1,1405.0M181.1,1405.3L179.1,1405.0L180.6,1403.5M200.8,1403.1L191.2,1404.9M194.4,1405.8L191.2,1404.9L193.8,1402.9M214.7,1402.7L205.3,1405.3M208.5,1406.0L205.3,1405.3L207.7,1403.1M227.8,1403.5L220.2,1404.5M222.6,1405.3L220.2,1404.5L222.3,1403.1M242.5,1403.4L233.5,1404.6M236.4,1405.6L233.5,1404.6L236.0,1402.9M257.5,1403.3L246.5,1404.7M250.0,1405.9L246.5,1404.7L249.6,1402.6M271.2,1403.1L260.8,1404.9M264.2,1405.9L260.8,1404.9L263.7,1402.8M284.5,1403.9L275.5,1404.1M278.2,1405.4L275.5,1404.1L278.2,1402.7M299.8,1403.8L288.2,1404.2M291.7,1405.8L288.2,1404.2L291.6,1402.3M311.5,1404.3L304.5,1403.7M306.5,1404.9L304.5,1403.7L306.7,1402.8M326.6,1404.3L317.4,1403.7M320.1,1405.2L317.4,1403.7L320.3,1402.5M341.7,1404.4L330.3,1403.6M333.6,1405.6L330.3,1403.6L333.8,1402.1M353.1,1403.4L346.9,1404.6M348.9,1405.2L346.9,1404.6L348.6,1403.3M369.0,1403.4L359.0,1404.6M362.2,1405.7L359.0,1404.6L361.8,1402.7M382.2,1404.1L373.8,1403.9M376.3,1405.2L373.8,1403.9L376.4,1402.7M396.6,1403.9L387.4,1404.1M390.2,1405.4L387.4,1404.1L390.1,1402.7M411.3,1403.0L400.7,1405.0M404.2,1406.0L400.7,1405.0L403.6,1402.8M422.9,1402.2L417.1,1405.8M419.4,1405.6L417.1,1405.8L418.3,1403.9M435.5,1401.2L432.5,1406.8M434.2,1405.5L432.5,1406.8L432.6,1404.7M448.4,1400.2L447.6,1407.8M449.0,1405.7L447.6,1407.8L446.7,1405.4M463.4,1400.6L460.6,1407.4M462.5,1405.8L460.6,1407.4L460.4,1404.9M476.8,1401.3L475.2,1406.7M476.5,1405.3L475.2,1406.7L474.8,1404.8M491.4,1400.8L488.6,1407.2M490.4,1405.7L488.6,1407.2L488.5,1404.9M505.5,1404.6L502.5,1403.4M503.2,1404.2L502.5,1403.4L503.6,1403.3M519.4,1406.9L516.6,1401.1M516.6,1403.3L516.6,1401.1L518.3,1402.4M531.9,1407.1L532.1,1400.9M531.1,1402.7L532.1,1400.9L533.0,1402.8M546.2,1408.1L545.8,1399.9M544.7,1402.4L545.8,1399.9L547.1,1402.3M561.3,1407.5L558.7,1400.5M558.4,1403.0L558.7,1400.5L560.5,1402.2M574.3,1408.1L573.7,1399.9M572.6,1402.5L573.7,1399.9L575.1,1402.3M589.2,1408.7L586.8,1399.3M586.1,1402.5L586.8,1399.3L588.9,1401.7M603.4,1409.3L600.6,1398.7M599.9,1402.3L600.6,1398.7L603.1,1401.5M616.6,1411.2L615.4,1396.8M614.0,1400.5L615.4,1396.8L617.4,1400.2M630.4,1411.0L629.6,1397.0M628.1,1400.6L629.6,1397.0L631.6,1400.4M643.1,1409.3L644.9,1398.7M642.8,1401.6L644.9,1398.7L645.9,1402.2M657.7,1409.1L658.3,1398.9M656.6,1401.9L658.3,1398.9L659.6,1402.0M669.8,1410.6L674.2,1397.4M671.4,1400.2L674.2,1397.4L674.7,1401.3M684.5,1409.6L687.5,1398.4M684.9,1401.3L687.5,1398.4L688.3,1402.2M698.4,1410.2L701.6,1397.8M699.1,1400.7L701.6,1397.8L702.4,1401.6M712.4,1410.3L715.6,1397.7M713.0,1400.7L715.6,1397.7L716.4,1401.5M146.6,1417.5L133.4,1418.9M137.1,1420.3L133.4,1418.9L136.7,1416.8M158.0,1418.0L150.0,1418.4M152.5,1419.5L150.0,1418.4L152.4,1417.1M172.8,1418.4L163.2,1418.0M166.0,1419.6L163.2,1418.0L166.1,1416.7M187.3,1417.9L176.7,1418.5M180.0,1419.9L176.7,1418.5L179.8,1416.7M201.5,1417.9L190.5,1418.5M193.9,1420.0L190.5,1418.5L193.7,1416.7M215.4,1417.6L204.6,1418.8M208.0,1420.1L204.6,1418.8L207.7,1416.8M243.8,1418.9L232.2,1417.5M235.5,1419.7L232.2,1417.5L235.9,1416.2M257.8,1417.4L246.2,1419.0M249.9,1420.2L246.2,1419.0L249.5,1416.8M272.6,1418.1L259.4,1418.3M263.0,1420.0L259.4,1418.3L262.9,1416.5M287.2,1417.7L272.8,1418.7M276.4,1420.2L272.8,1418.7L276.2,1416.7M299.4,1418.6L288.6,1417.8M291.7,1419.7L288.6,1417.8L291.9,1416.4M327.0,1417.6L317.0,1418.8M320.2,1419.9L317.0,1418.8L319.8,1417.0M342.2,1418.1L329.8,1418.3M333.3,1420.0L329.8,1418.3L333.3,1416.5M357.4,1417.9L342.6,1418.5M346.2,1420.1L342.6,1418.5L346.0,1416.6M369.8,1418.3L358.2,1418.1M361.6,1419.9L358.2,1418.1L361.7,1416.4M384.1,1417.7L371.9,1418.7M375.5,1420.1L371.9,1418.7L375.3,1416.6M398.5,1417.5L385.5,1418.9M389.2,1420.3L385.5,1418.9L388.8,1416.8M411.1,1418.4L400.9,1418.0M403.9,1419.7L400.9,1418.0L404.0,1416.6M424.9,1417.5L415.1,1418.9M418.3,1419.9L415.1,1418.9L417.8,1417.0M437.3,1415.8L430.7,1420.6M433.4,1420.1L430.7,1420.6L432.0,1418.2M450.6,1415.4L445.4,1421.0M447.8,1420.1L445.4,1421.0L446.1,1418.6M462.5,1415.9L461.5,1420.5M462.5,1419.3L461.5,1420.5L461.1,1419.0M476.1,1416.3L475.9,1420.1M476.5,1419.0L475.9,1420.1L475.4,1418.9M488.8,1415.5L491.2,1420.9M491.3,1418.9L491.2,1420.9L489.7,1419.7M502.9,1417.9L505.1,1418.5M504.5,1418.0L505.1,1418.5L504.4,1418.7M517.7,1419.5L518.3,1416.9M517.8,1417.6L518.3,1416.9L518.5,1417.8M531.0,1421.7L533.0,1414.7M531.3,1416.5L533.0,1414.7L533.4,1417.1M545.6,1421.6L546.4,1414.8M545.1,1416.7L546.4,1414.8L547.2,1416.9M560.8,1424.0L559.2,1412.4M557.9,1416.1L559.2,1412.4L561.4,1415.6M575.0,1422.7L573.0,1413.7M572.3,1416.7L573.0,1413.7L574.9,1416.1M589.7,1425.5L586.3,1410.9M585.4,1414.7L586.3,1410.9L588.8,1413.9M603.3,1424.2L600.7,1412.2M599.7,1416.0L600.7,1412.2L603.2,1415.3M616.3,1425.4L615.7,1411.0M614.1,1414.5L615.7,1411.0L617.6,1414.4M630.4,1425.1L629.6,1411.3M628.1,1414.9L629.6,1411.3L631.5,1414.7M643.7,1424.0L644.3,1412.4M642.4,1415.8L644.3,1412.4L645.9,1416.0M656.2,1425.3L659.8,1411.1M657.2,1414.1L659.8,1411.1L660.6,1415.0M670.8,1425.0L673.2,1411.4M670.9,1414.6L673.2,1411.4L674.3,1415.2M698.3,1422.6L701.7,1413.8M699.3,1415.9L701.7,1413.8L702.0,1416.9M711.1,1424.6L716.9,1411.8M713.8,1414.3L716.9,1411.8L717.0,1415.7M186.4,1432.1L177.6,1432.7M180.3,1433.9L177.6,1432.7L180.1,1431.2M202.0,1431.7L190.0,1433.1M193.7,1434.4L190.0,1433.1L193.3,1430.9M214.5,1432.3L205.5,1432.5M208.3,1433.8L205.5,1432.5L208.2,1431.1M230.5,1432.4L217.5,1432.4M221.0,1434.1L217.5,1432.4L221.0,1430.6M243.8,1432.3L232.2,1432.5M235.7,1434.2L232.2,1432.5L235.7,1430.7M258.4,1432.8L245.6,1432.0M249.0,1434.0L245.6,1432.0L249.2,1430.5M272.0,1432.8L260.0,1432.0M263.3,1434.0L260.0,1432.0L263.6,1430.5M286.2,1431.9L273.8,1432.9M277.4,1434.4L273.8,1432.9L277.1,1430.9M314.2,1432.4L301.8,1432.4M305.3,1434.2L301.8,1432.4L305.3,1430.7M326.4,1432.5L317.6,1432.3M320.2,1433.7L317.6,1432.3L320.3,1431.0M341.3,1432.8L330.7,1432.0M333.8,1433.8L330.7,1432.0L334.0,1430.7M355.9,1432.5L344.1,1432.3M347.6,1434.1L344.1,1432.3L347.6,1430.6M370.0,1432.9L358.0,1431.9M361.3,1433.9L358.0,1431.9L361.6,1430.5M384.6,1431.7L371.4,1433.1M375.1,1434.5L371.4,1433.1L374.7,1431.0M396.8,1431.7L387.2,1433.1M390.3,1434.1L387.2,1433.1L389.9,1431.2M409.8,1432.9L402.2,1431.9M404.3,1433.3L402.2,1431.9L404.6,1431.1M423.8,1431.7L416.2,1433.1M418.7,1433.8L416.2,1433.1L418.2,1431.5M436.6,1431.2L431.4,1433.6M433.3,1433.7L431.4,1433.6L432.6,1432.1M448.9,1430.2L447.1,1434.6M448.3,1433.6L447.1,1434.6L447.0,1433.0M461.8,1430.3L462.2,1434.5M462.7,1433.2L462.2,1434.5L461.4,1433.3M488.1,1431.3L491.9,1433.5M491.1,1432.3L491.9,1433.5L490.4,1433.4M499.7,1432.4L508.3,1432.4M505.7,1431.1L508.3,1432.4L505.7,1433.7M515.3,1434.6L520.7,1430.2M518.4,1430.7L520.7,1430.2L519.8,1432.3M530.5,1435.0L533.5,1429.8M531.8,1430.9L533.5,1429.8L533.4,1431.8M545.4,1436.1L546.6,1428.7M545.1,1430.8L546.6,1428.7L547.3,1431.1M560.4,1436.3L559.6,1428.5M558.7,1431.0L559.6,1428.5L561.0,1430.7M574.1,1435.8L573.9,1429.0M573.0,1431.1L573.9,1429.0L575.0,1431.0M589.2,1436.2L586.8,1428.6M586.4,1431.3L586.8,1428.6L588.7,1430.5M602.1,1437.4L601.9,1427.4M600.5,1430.5L601.9,1427.4L603.4,1430.4M616.4,1439.8L615.6,1425.0M614.0,1428.5L615.6,1425.0L617.5,1428.3M629.8,1438.9L630.2,1425.9M628.4,1429.3L630.2,1425.9L631.9,1429.4M644.0,1437.3L644.0,1427.5M642.5,1430.4L644.0,1427.5L645.5,1430.4M657.1,1437.8L658.9,1427.0M656.8,1430.0L658.9,1427.0L660.0,1430.5M671.3,1436.7L672.7,1428.1M671.0,1430.5L672.7,1428.1L673.5,1430.9M684.2,1437.4L687.8,1427.4M685.2,1429.8L687.8,1427.4L688.2,1430.9M699.4,1435.8L700.6,1429.0M699.2,1430.9L700.6,1429.0L701.2,1431.2M217.8,1445.7L202.2,1447.5M205.9,1448.8L202.2,1447.5L205.5,1445.3M243.9,1445.9L232.1,1447.3M235.8,1448.6L232.1,1447.3L235.3,1445.2M271.2,1447.0L260.8,1446.2M263.8,1448.0L260.8,1446.2L264.1,1444.9M286.4,1446.2L273.6,1447.0M277.2,1448.5L273.6,1447.0L277.0,1445.0M301.4,1446.3L286.6,1446.9M290.1,1448.5L286.6,1446.9L290.0,1445.0M313.7,1446.8L302.3,1446.4M305.6,1448.2L302.3,1446.4L305.8,1444.8M327.1,1446.2L316.9,1447.0M320.1,1448.3L316.9,1447.0L319.9,1445.2M341.0,1446.0L331.0,1447.2M334.2,1448.4L331.0,1447.2L333.8,1445.3M356.1,1445.6L343.9,1447.6M347.7,1448.8L343.9,1447.6L347.1,1445.3M368.8,1445.7L359.2,1447.5M362.4,1448.4L359.2,1447.5L361.8,1445.5M382.0,1446.2L374.0,1447.0M376.5,1448.0L374.0,1447.0L376.3,1445.6M396.0,1445.9L388.0,1447.3M390.6,1448.1L388.0,1447.3L390.2,1445.7M409.6,1447.1L402.4,1446.1M404.4,1447.5L402.4,1446.1L404.7,1445.3M421.1,1446.5L418.9,1446.7M419.6,1447.0L418.9,1446.7L419.6,1446.3M433.8,1445.5L434.2,1447.7M434.4,1447.0L434.2,1447.7L433.7,1447.1M448.0,1445.8L448.0,1447.4M448.2,1446.9L448.0,1447.4L447.7,1446.9M460.9,1445.5L463.1,1447.7M462.8,1446.7L463.1,1447.7L462.1,1447.4M472.9,1445.6L479.1,1447.6M477.5,1446.1L479.1,1447.6L476.9,1447.9M486.1,1446.4L493.9,1446.8M491.6,1445.5L493.9,1446.8L491.5,1447.9M500.9,1447.0L507.1,1446.2M505.1,1445.5L507.1,1446.2L505.4,1447.3M514.5,1448.2L521.5,1445.0M518.9,1444.9L521.5,1445.0L519.9,1447.0M529.2,1450.0L534.8,1443.2M532.1,1444.4L534.8,1443.2L534.1,1446.1M543.0,1451.0L549.0,1442.2M545.9,1444.0L549.0,1442.2L548.5,1445.7M558.8,1451.1L561.2,1442.1M559.1,1444.5L561.2,1442.1L561.8,1445.2M587.1,1452.0L588.9,1441.2M586.7,1444.1L588.9,1441.2L590.0,1444.7M602.1,1452.7L601.9,1440.5M600.2,1444.0L601.9,1440.5L603.7,1444.0M615.6,1452.3L616.4,1440.9M614.5,1444.2L616.4,1440.9L617.9,1444.5M629.9,1451.4L630.1,1441.8M628.6,1444.6L630.1,1441.8L631.5,1444.7M644.3,1454.4L643.7,1438.8M642.1,1442.4L643.7,1438.8L645.6,1442.2M657.6,1454.7L658.4,1438.5M656.5,1441.9L658.4,1438.5L660.0,1442.1M671.2,1450.6L672.8,1442.6M671.1,1444.8L672.8,1442.6L673.5,1445.2M685.4,1451.6L686.6,1441.6M684.7,1444.4L686.6,1441.6L687.7,1444.8M699.6,1451.1L700.4,1442.1M698.8,1444.7L700.4,1442.1L701.5,1444.9M712.8,1450.6L715.2,1442.6M713.3,1444.7L715.2,1442.6L715.7,1445.4M242.5,1460.0L233.5,1461.6M236.5,1462.5L233.5,1461.6L236.0,1459.8M258.1,1460.2L245.9,1461.4M249.5,1462.8L245.9,1461.4L249.2,1459.3M272.2,1460.3L259.8,1461.3M263.5,1462.8L259.8,1461.3L263.2,1459.3M285.5,1460.1L274.5,1461.5M278.0,1462.7L274.5,1461.5L277.6,1459.4M300.3,1460.7L287.7,1460.9M291.2,1462.6L287.7,1460.9L291.1,1459.1M315.0,1460.9L301.0,1460.7M304.4,1462.5L301.0,1460.7L304.5,1459.0M326.8,1459.8L317.2,1461.8M320.4,1462.7L317.2,1461.8L319.8,1459.8M343.3,1460.6L328.7,1461.0M332.3,1462.7L328.7,1461.0L332.2,1459.2M357.7,1460.6L342.3,1461.0M345.9,1462.7L342.3,1461.0L345.8,1459.2M370.2,1460.1L357.8,1461.5M361.5,1462.9L357.8,1461.5L361.1,1459.4M398.0,1460.0L386.0,1461.6M389.7,1462.9L386.0,1461.6L389.2,1459.4M421.3,1460.9L418.7,1460.7M419.4,1461.1L418.7,1460.7L419.5,1460.3M434,1461h1.5M448,1461h1.5M461.0,1460.9L463.0,1460.7M462.4,1460.5L463.0,1460.7L462.4,1461.1M473.6,1461.9L478.4,1459.7M476.6,1459.6L478.4,1459.7L477.3,1461.1M487.2,1462.5L492.8,1459.1M490.6,1459.3L492.8,1459.1L491.6,1461.0M500.0,1463.1L508.0,1458.5M504.9,1458.7L508.0,1458.5L506.3,1461.1M516.4,1462.1L519.6,1459.5M518.2,1459.8L519.6,1459.5L519.0,1460.8M529.2,1464.4L534.8,1457.2M532.0,1458.5L534.8,1457.2L534.2,1460.2M542.9,1465.4L549.1,1456.2M545.9,1458.1L549.1,1456.2L548.6,1459.9M558.4,1464.8L561.6,1456.8M559.4,1458.7L561.6,1456.8L561.8,1459.7M572.7,1466.1L575.3,1455.5M572.9,1458.3L575.3,1455.5L576.1,1459.1M586.0,1466.7L590.0,1454.9M587.2,1457.6L590.0,1454.9L590.5,1458.8M601.7,1465.9L602.3,1455.7M600.6,1458.7L602.3,1455.7L603.6,1458.9M615.3,1466.6L616.7,1455.0M614.6,1458.2L616.7,1455.0L618.0,1458.7M629.3,1467.3L630.7,1454.3M628.6,1457.5L630.7,1454.3L632.1,1457.9M644.2,1468.6L643.8,1453.0M642.1,1456.6L643.8,1453.0L645.6,1456.5M657.9,1468.4L658.1,1453.2M656.3,1456.6L658.1,1453.2L659.8,1456.7M672.2,1467.3L671.8,1454.3M670.2,1457.8L671.8,1454.3L673.7,1457.7M686.0,1466.2L686.0,1455.4M684.4,1458.7L686.0,1455.4L687.6,1458.7M699.2,1464.4L700.8,1457.2M699.2,1459.1L700.8,1457.2L701.4,1459.6M714.1,1464.3L713.9,1457.3M712.9,1459.4L713.9,1457.3L715.0,1459.4M241.0,1471.2L235.0,1478.8M237.9,1477.4L235.0,1478.8L235.7,1475.6M254.7,1471.9L249.3,1478.1M251.9,1477.1L249.3,1478.1L250.0,1475.4M268.0,1471.9L264.0,1478.1M266.1,1476.8L264.0,1478.1L264.3,1475.7M282.8,1471.4L277.2,1478.6M280.0,1477.3L277.2,1478.6L277.8,1475.6M295.8,1471.8L292.2,1478.2M294.2,1476.8L292.2,1478.2L292.3,1475.7M309.7,1471.2L306.3,1478.8M308.5,1477.0L306.3,1478.8L306.2,1476.0M324.6,1471.6L319.4,1478.4M322.0,1477.1L319.4,1478.4L319.9,1475.6M337.4,1471.8L334.6,1478.2M336.4,1476.7L334.6,1478.2L334.5,1475.9M351.8,1470.8L348.2,1479.2M350.6,1477.2L348.2,1479.2L348.0,1476.2M366.2,1471.1L361.8,1478.9M364.3,1477.2L361.8,1478.9L361.9,1475.9M379.5,1469.8L376.5,1480.2M379.0,1477.5L376.5,1480.2L375.9,1476.6M392.0,1472.8L392.0,1477.2M392.6,1475.9L392.0,1477.2L391.3,1475.9M404.3,1474.5L407.7,1475.5M406.8,1474.7L407.7,1475.5L406.5,1475.7M418.3,1475.3L421.7,1474.7M420.6,1474.4L421.7,1474.7L420.8,1475.4M431.1,1475.7L436.9,1474.3M434.9,1473.9L436.9,1474.3L435.4,1475.6M445.7,1475.6L450.3,1474.4M448.8,1474.1L450.3,1474.4L449.1,1475.5M459.9,1475.8L464.1,1474.2M462.6,1474.0L464.1,1474.2L463.1,1475.3M473.0,1478.0L479.0,1472.0M476.3,1472.9L479.0,1472.0L478.1,1474.7M487.7,1478.0L492.3,1472.0M490.0,1473.1L492.3,1472.0L491.8,1474.5M500.6,1479.0L507.4,1471.0M504.2,1472.4L507.4,1471.0L506.5,1474.4M514.6,1477.9L521.4,1472.1M518.5,1472.8L521.4,1472.1L520.2,1474.8M529.2,1479.3L534.8,1470.7M531.8,1472.4L534.8,1470.7L534.4,1474.1M543.9,1478.5L548.1,1471.5M545.8,1473.0L548.1,1471.5L547.9,1474.2M558.4,1478.2L561.6,1471.8M559.7,1473.3L561.6,1471.8L561.6,1474.2M571.6,1480.6L576.4,1469.4M573.4,1471.9L576.4,1469.4L576.6,1473.3M586.5,1480.1L589.5,1469.9M587.1,1472.5L589.5,1469.9L590.1,1473.4M601.5,1479.2L602.5,1470.8M601.0,1473.2L602.5,1470.8L603.5,1473.5M616.2,1481.9L615.8,1468.1M614.2,1471.6L615.8,1468.1L617.7,1471.6M630.2,1480.0L629.8,1470.0M628.4,1473.0L629.8,1470.0L631.4,1472.9M644.5,1481.3L643.5,1468.7M642.0,1472.3L643.5,1468.7L645.5,1472.1M658.0,1481.5L658.0,1468.5M656.2,1472.0L658.0,1468.5L659.7,1472.0M671.4,1478.4L672.6,1471.6M671.2,1473.5L672.6,1471.6L673.2,1473.8M686.1,1478.8L685.9,1471.2M684.8,1473.5L685.9,1471.2L687.1,1473.4M699.6,1478.6L700.4,1471.4M699.1,1473.5L700.4,1471.4L701.2,1473.7M714.7,1478.6L713.3,1471.4M712.6,1473.8L713.3,1471.4L714.8,1473.3M238.1,1484.0L237.9,1494.4M239.5,1491.3L237.9,1494.4L236.4,1491.3M251.7,1485.2L252.3,1493.2M253.3,1490.7L252.3,1493.2L250.9,1490.9M265.8,1482.1L266.2,1496.3M267.8,1492.8L266.2,1496.3L264.3,1492.8M279.4,1483.1L280.6,1495.3M282.0,1491.6L280.6,1495.3L278.5,1492.0M293.7,1481.3L294.3,1497.1M295.9,1493.5L294.3,1497.1L292.4,1493.6M321.8,1481.2L322.2,1497.2M323.8,1493.6L322.2,1497.2L320.3,1493.7M336.4,1483.7L335.6,1494.7M337.5,1491.5L335.6,1494.7L334.2,1491.3M349.4,1482.7L350.6,1495.7M352.0,1492.1L350.6,1495.7L348.5,1492.4M364.4,1484.7L363.6,1493.7M365.2,1491.1L363.6,1493.7L362.5,1490.9M377.8,1484.5L378.2,1493.9M379.5,1491.0L378.2,1493.9L376.7,1491.1M391.0,1485.2L393.0,1493.2M393.6,1490.5L393.0,1493.2L391.2,1491.1M403.6,1487.9L408.4,1490.5M407.4,1489.0L408.4,1490.5L406.6,1490.4M418.3,1488.7L421.7,1489.7M420.8,1488.9L421.7,1489.7L420.5,1489.9M430.3,1490.0L437.7,1488.4M435.2,1487.8L437.7,1488.4L435.7,1490.0M444.0,1490.0L452.0,1488.4M449.3,1487.7L452.0,1488.4L449.8,1490.1M459.3,1489.7L464.7,1488.7M462.9,1488.2L464.7,1488.7L463.2,1489.8M472.4,1492.0L479.6,1486.4M476.6,1487.0L479.6,1486.4L478.3,1489.1M487.3,1492.5L492.7,1485.9M490.1,1487.0L492.7,1485.9L492.1,1488.7M501.5,1493.8L506.5,1484.6M503.6,1486.6L506.5,1484.6L506.4,1488.1M516.0,1493.1L520.0,1485.3M517.6,1487.0L520.0,1485.3L520.0,1488.2M528.6,1493.4L535.4,1485.0M532.1,1486.5L535.4,1485.0L534.6,1488.5M543.1,1494.3L548.9,1484.1M545.6,1486.3L548.9,1484.1L548.7,1488.0M556.4,1494.7L563.6,1483.7M560.2,1485.7L563.6,1483.7L563.1,1487.6M571.6,1492.9L576.4,1485.5M573.9,1487.0L576.4,1485.5L576.1,1488.5M586.5,1493.6L589.5,1484.8M587.3,1487.0L589.5,1484.8L589.9,1487.9M601.3,1494.1L602.7,1484.3M600.8,1487.0L602.7,1484.3L603.7,1487.5M615.2,1493.9L616.8,1484.5M614.9,1487.1L616.8,1484.5L617.7,1487.5M629.4,1496.8L630.6,1481.6M628.6,1484.9L630.6,1481.6L632.1,1485.2M643.8,1496.7L644.2,1481.7M642.4,1485.1L644.2,1481.7L645.9,1485.2M658.2,1495.1L657.8,1483.3M656.2,1486.8L657.8,1483.3L659.7,1486.7M672.0,1493.7L672.0,1484.7M670.6,1487.4L672.0,1484.7L673.4,1487.4M686.6,1492.2L685.4,1486.2M684.8,1488.2L685.4,1486.2L686.7,1487.8M700.1,1492.5L699.9,1485.9M699.0,1487.9L699.9,1485.9L700.9,1487.9M714.7,1493.8L713.3,1484.6M712.3,1487.6L713.3,1484.6L715.1,1487.1M238.0,1496.2L238.0,1510.6M239.7,1507.1L238.0,1510.6L236.2,1507.1M252.1,1495.7L251.9,1511.1M253.7,1507.6L251.9,1511.1L250.2,1507.6M265.4,1498.9L266.6,1507.9M267.6,1505.0L266.6,1507.9L264.9,1505.4M280.0,1496.7L280.0,1510.1M281.7,1506.6L280.0,1510.1L278.2,1506.6M294.6,1497.3L293.4,1509.5M295.5,1506.2L293.4,1509.5L292.0,1505.9M308.2,1498.7L307.8,1508.1M309.3,1505.3L307.8,1508.1L306.5,1505.2M336.1,1499.3L335.9,1507.5M337.2,1505.1L335.9,1507.5L334.7,1505.0M350.4,1495.3L349.6,1511.5M351.5,1508.0L349.6,1511.5L348.1,1507.9M364.1,1499.0L363.9,1507.8M365.3,1505.2L363.9,1507.8L362.7,1505.1M378.4,1499.0L377.6,1507.8M379.2,1505.3L377.6,1507.8L376.5,1505.1M391.8,1500.1L392.2,1506.7M393.1,1504.7L392.2,1506.7L391.1,1504.8M403.8,1501.1L408.2,1505.7M407.6,1503.6L408.2,1505.7L406.2,1505.0M417.0,1501.8L423.0,1505.0M421.7,1503.2L423.0,1505.0L420.7,1505.0M431.9,1503.8L436.1,1503.0M434.7,1502.6L436.1,1503.0L434.9,1503.9M445.5,1503.5L450.5,1503.3M449.0,1502.6L450.5,1503.3L449.0,1504.1M460.6,1503.6L463.4,1503.2M462.5,1502.9L463.4,1503.2L462.6,1503.8M473.5,1504.6L478.5,1502.2M476.6,1502.1L478.5,1502.2L477.4,1503.7M487.1,1506.7L492.9,1500.1M490.2,1501.2L492.9,1500.1L492.1,1503.0M501.8,1506.6L506.2,1500.2M503.9,1501.5L506.2,1500.2L505.8,1502.8M515.3,1508.3L520.7,1498.5M517.6,1500.7L520.7,1498.5L520.5,1502.3M529.8,1507.0L534.2,1499.8M531.8,1501.3L534.2,1499.8L534.0,1502.6M544.1,1508.4L547.9,1498.4M545.2,1500.8L547.9,1498.4L548.3,1501.9M557.1,1507.7L562.9,1499.1M559.9,1500.8L562.9,1499.1L562.4,1502.6M570.3,1510.1L577.7,1496.7M574.5,1498.9L577.7,1496.7L577.5,1500.7M586.2,1506.7L589.8,1500.1M587.8,1501.5L589.8,1500.1L589.7,1502.6M600.2,1510.3L603.8,1496.5M601.2,1499.5L603.8,1496.5L604.6,1500.3M616.1,1509.8L615.9,1497.0M614.2,1500.5L615.9,1497.0L617.7,1500.5M629.4,1509.1L630.6,1497.7M628.5,1500.9L630.6,1497.7L632.0,1501.3M644.5,1512.0L643.5,1494.8M642.0,1498.4L643.5,1494.8L645.5,1498.2M658.6,1509.7L657.4,1497.1M656.0,1500.8L657.4,1497.1L659.5,1500.4M686.2,1506.6L685.8,1500.2M685.0,1502.2L685.8,1500.2L686.9,1502.1M699.3,1507.1L700.7,1499.7M699.1,1501.7L700.7,1499.7L701.4,1502.1M714.3,1507.0L713.7,1499.8M712.8,1502.1L713.7,1499.8L715.0,1501.9M226.7,1513.4L221.3,1521.8M224.2,1520.1L221.3,1521.8L221.6,1518.5M240.2,1511.4L235.8,1523.8M238.6,1521.1L235.8,1523.8L235.3,1519.9M252.3,1512.8L251.7,1522.4M253.3,1519.6L251.7,1522.4L250.4,1519.4M267.1,1511.3L264.9,1523.9M267.2,1520.8L264.9,1523.9L263.8,1520.2M280.6,1513.3L279.4,1521.9M281.0,1519.5L279.4,1521.9L278.5,1519.1M293.4,1512.1L294.6,1523.1M295.9,1519.6L294.6,1523.1L292.6,1520.0M307.8,1509.5L308.2,1525.7M309.9,1522.1L308.2,1525.7L306.4,1522.2M321.4,1511.5L322.6,1523.7M324.0,1520.1L322.6,1523.7L320.5,1520.4M336.1,1511.9L335.9,1523.3M337.7,1519.9L335.9,1523.3L334.3,1519.9M349.7,1511.3L350.3,1523.9M351.9,1520.3L350.3,1523.9L348.4,1520.5M363.8,1512.7L364.2,1522.5M365.5,1519.5L364.2,1522.5L362.6,1519.6M378.4,1512.6L377.6,1522.6M379.3,1519.7L377.6,1522.6L376.3,1519.5M390.4,1513.0L393.6,1522.2M394.0,1518.9L393.6,1522.2L391.3,1519.9M404.2,1515.4L407.8,1519.8M407.4,1517.9L407.8,1519.8L406.1,1519.0M417.2,1516.4L422.8,1518.8M421.5,1517.2L422.8,1518.8L420.8,1518.9M429.6,1517.5L438.4,1517.7M435.8,1516.3L438.4,1517.7L435.7,1519.0M444.5,1517.8L451.5,1517.4M449.4,1516.5L451.5,1517.4L449.5,1518.6M459.8,1519.4L464.2,1515.8M462.4,1516.2L464.2,1515.8L463.4,1517.6M473.9,1519.5L478.1,1515.7M476.3,1516.2L478.1,1515.7L477.4,1517.5M487.1,1521.8L492.9,1513.4M489.9,1515.1L492.9,1513.4L492.4,1516.8M501.8,1520.7L506.2,1514.5M504.0,1515.7L506.2,1514.5L505.8,1517.0M514.4,1523.1L521.6,1512.1M518.2,1514.1L521.6,1512.1L521.1,1516.0M529.7,1522.4L534.3,1512.8M531.5,1515.0L534.3,1512.8L534.3,1516.4M544.4,1522.3L547.6,1512.9M545.3,1515.2L547.6,1512.9L548.1,1516.2M557.4,1522.3L562.6,1512.9M559.6,1515.0L562.6,1512.9L562.4,1516.5M571.4,1522.5L576.6,1512.7M573.6,1514.9L576.6,1512.7L576.5,1516.4M585.0,1523.2L591.0,1512.0M587.8,1514.2L591.0,1512.0L590.9,1515.9M600.3,1523.5L603.7,1511.7M601.0,1514.6L603.7,1511.7L604.4,1515.5M629.4,1525.7L630.6,1509.5M628.6,1512.8L630.6,1509.5L632.1,1513.1M643.2,1525.9L644.8,1509.3M642.7,1512.6L644.8,1509.3L646.2,1513.0M658.6,1522.9L657.4,1512.3M656.1,1515.6L657.4,1512.3L659.4,1515.3M671.9,1522.7L672.1,1512.5M670.5,1515.5L672.1,1512.5L673.6,1515.6M686.3,1520.7L685.7,1514.5M685.0,1516.5L685.7,1514.5L686.8,1516.3M699.7,1521.9L700.3,1513.3M698.8,1515.8L700.3,1513.3L701.4,1516.0M713.8,1521.6L714.2,1513.6M712.9,1515.9L714.2,1513.6L715.3,1516.0M200.0,1529.5L192.0,1534.1M195.1,1533.9L192.0,1534.1L193.7,1531.5M214.7,1528.6L205.3,1535.0M209.1,1534.5L205.3,1535.0L207.2,1531.7M227.4,1528.6L220.6,1535.0M223.6,1534.1L220.6,1535.0L221.7,1532.1M241.3,1528.2L234.7,1535.4M237.7,1534.2L234.7,1535.4L235.6,1532.2M253.8,1527.6L250.2,1536.0M252.5,1534.0L250.2,1536.0L250.0,1532.9M267.9,1526.0L264.1,1537.6M266.9,1534.8L264.1,1537.6L263.5,1533.7M280.7,1525.7L279.3,1537.9M281.4,1534.6L279.3,1537.9L278.0,1534.2M293.9,1524.0L294.1,1539.6M295.8,1536.1L294.1,1539.6L292.3,1536.1M308.2,1526.0L307.8,1537.6M309.7,1534.2L307.8,1537.6L306.2,1534.1M322.1,1523.8L321.9,1539.8M323.7,1536.3L321.9,1539.8L320.2,1536.3M336.5,1526.2L335.5,1537.4M337.5,1534.2L335.5,1537.4L334.1,1533.9M350.7,1526.7L349.3,1536.9M351.2,1534.0L349.3,1536.9L348.2,1533.6M364.0,1525.9L364.0,1537.7M365.7,1534.2L364.0,1537.7L362.2,1534.2M377.9,1527.0L378.1,1536.6M379.5,1533.7L378.1,1536.6L376.6,1533.7M391.5,1528.1L392.5,1535.5M393.3,1533.1L392.5,1535.5L391.1,1533.4M403.3,1529.5L408.7,1534.1M407.7,1531.9L408.7,1534.1L406.4,1533.5M417.3,1531.5L422.7,1532.1M421.2,1531.1L422.7,1532.1L421.0,1532.7M430.5,1531.5L437.5,1532.1M435.5,1530.8L437.5,1532.1L435.3,1533.0M445.5,1532.8L450.5,1530.8M448.7,1530.7L450.5,1530.8L449.3,1532.2M459.7,1534.0L464.3,1529.6M462.3,1530.2L464.3,1529.6L463.6,1531.6M474.1,1534.5L477.9,1529.1M475.9,1530.1L477.9,1529.1L477.6,1531.3M487.5,1536.2L492.5,1527.4M489.7,1529.3L492.5,1527.4L492.3,1530.8M501.2,1537.2L506.8,1526.4M503.7,1528.7L506.8,1526.4L506.8,1530.3M515.2,1535.5L520.8,1528.1M518.0,1529.5L520.8,1528.1L520.2,1531.2M529.4,1536.1L534.6,1527.5M531.8,1529.3L534.6,1527.5L534.3,1530.9M542.4,1537.7L549.6,1525.9M546.3,1528.0L549.6,1525.9L549.3,1529.8M556.9,1537.0L563.1,1526.6M559.8,1528.7L563.1,1526.6L562.8,1530.5M571.4,1536.9L576.6,1526.7M573.5,1529.0L576.6,1526.7L576.6,1530.5M586.5,1536.3L589.5,1527.3M587.2,1529.5L589.5,1527.3L590.0,1530.4M600.7,1538.9L603.3,1524.7M600.9,1527.8L603.3,1524.7L604.4,1528.5M629.0,1540.7L631.0,1522.9M628.9,1526.2L631.0,1522.9L632.3,1526.6M644.0,1540.5L644.0,1523.1M642.3,1526.6L644.0,1523.1L645.8,1526.6M657.4,1537.4L658.6,1526.2M656.6,1529.4L658.6,1526.2L659.9,1529.7M672.0,1535.1L672.0,1528.5M671.0,1530.5L672.0,1528.5L673.0,1530.5M686.3,1536.0L685.7,1527.6M684.6,1530.2L685.7,1527.6L687.1,1530.0M700.4,1535.4L699.6,1528.2M698.8,1530.5L699.6,1528.2L700.9,1530.2M714.6,1534.9L713.4,1528.7M712.8,1530.7L713.4,1528.7L714.7,1530.4M188.1,1542.0L175.9,1550.0M179.8,1549.5L175.9,1550.0L177.9,1546.6M200.6,1543.7L191.4,1548.3M194.9,1548.3L191.4,1548.3L193.5,1545.6M215.1,1542.3L204.9,1549.7M208.7,1549.1L204.9,1549.7L206.7,1546.2M230.0,1541.2L218.0,1550.8M221.8,1550.0L218.0,1550.8L219.6,1547.3M244.0,1541.2L232.0,1550.8M235.8,1550.0L232.0,1550.8L233.6,1547.3M254.6,1542.4L249.4,1549.6M252.1,1548.2L249.4,1549.6L249.9,1546.7M268.8,1540.8L263.2,1551.2M266.4,1548.9L263.2,1551.2L263.3,1547.3M282.3,1541.8L277.7,1550.2M280.4,1548.4L277.7,1550.2L277.8,1547.0M295.3,1540.7L292.7,1551.3M295.1,1548.5L292.7,1551.3L291.9,1547.7M308.9,1540.8L307.1,1551.2M309.2,1548.3L307.1,1551.2L306.1,1547.8M322.7,1540.1L321.3,1551.9M323.4,1548.6L321.3,1551.9L320.0,1548.2M337.6,1538.2L334.4,1553.8M336.8,1550.7L334.4,1553.8L333.4,1550.0M351.2,1537.3L348.8,1554.7M351.0,1551.5L348.8,1554.7L347.5,1551.0M363.9,1541.0L364.1,1551.0M365.5,1548.0L364.1,1551.0L362.5,1548.0M390.8,1542.4L393.2,1549.6M393.6,1547.1L393.2,1549.6L391.4,1547.8M403.6,1544.8L408.4,1547.2M407.3,1545.8L408.4,1547.2L406.6,1547.2M418.2,1546.5L421.8,1545.5M420.6,1545.2L421.8,1545.5L420.9,1546.3M430.2,1546.5L437.8,1545.5M435.3,1544.6L437.8,1545.5L435.7,1546.9M445.1,1547.6L450.9,1544.4M448.7,1544.5L450.9,1544.4L449.7,1546.2M458.5,1548.5L465.5,1543.5M462.7,1544.0L465.5,1543.5L464.1,1546.1M472.8,1549.2L479.2,1542.8M476.3,1543.8L479.2,1542.8L478.2,1545.7M487.4,1548.9L492.6,1543.1M490.2,1544.0L492.6,1543.1L491.9,1545.6M501.2,1550.0L506.8,1542.0M503.9,1543.6L506.8,1542.0L506.3,1545.2M515.7,1549.9L520.3,1542.1M517.8,1543.7L520.3,1542.1L520.1,1545.1M544.1,1550.5L547.9,1541.5M545.4,1543.6L547.9,1541.5L548.1,1544.8M558.7,1549.6L561.3,1542.4M559.4,1544.1L561.3,1542.4L561.6,1544.9M570.5,1552.4L577.5,1539.6M574.3,1541.8L577.5,1539.6L577.4,1543.5M586.4,1550.4L589.6,1541.6M587.3,1543.8L589.6,1541.6L589.9,1544.7M600.4,1550.9L603.6,1541.1M601.2,1543.6L603.6,1541.1L604.1,1544.5M615.4,1554.6L616.6,1537.4M614.6,1540.8L616.6,1537.4L618.1,1541.0M630.4,1552.1L629.6,1539.9M628.1,1543.5L629.6,1539.9L631.6,1543.3M643.9,1554.3L644.1,1537.7M642.3,1541.2L644.1,1537.7L645.8,1541.2M657.7,1553.8L658.3,1538.2M656.4,1541.6L658.3,1538.2L659.9,1541.7M671.6,1551.6L672.4,1540.4M670.5,1543.6L672.4,1540.4L673.8,1543.9M685.5,1550.6L686.5,1541.4M684.8,1544.0L686.5,1541.4L687.6,1544.3M699.7,1550.3L700.3,1541.7M698.8,1544.2L700.3,1541.7L701.4,1544.4M714.7,1549.2L713.3,1542.8M712.8,1544.9L713.3,1542.8L714.7,1544.5M132.4,1554.5L119.6,1565.9M123.4,1564.9L119.6,1565.9L121.1,1562.3M146.8,1553.9L133.2,1566.5M137.0,1565.4L133.2,1566.5L134.6,1562.8M159.3,1555.0L148.7,1565.4M152.4,1564.2L148.7,1565.4L150.0,1561.7M173.1,1554.9L162.9,1565.5M166.6,1564.2L162.9,1565.5L164.1,1561.8M185.7,1556.7L178.3,1563.7M181.6,1562.7L178.3,1563.7L179.5,1560.5M199.9,1556.1L192.1,1564.3M195.7,1563.0L192.1,1564.3L193.2,1560.7M214.9,1556.3L205.1,1564.1M208.9,1563.3L205.1,1564.1L206.8,1560.5M230.3,1553.1L217.7,1567.3M221.3,1565.8L217.7,1567.3L218.7,1563.5M242.1,1555.3L233.9,1565.1M237.5,1563.5L233.9,1565.1L234.8,1561.3M258.3,1551.8L245.7,1568.6M249.2,1566.9L245.7,1568.6L246.4,1564.8M298.5,1551.4L289.5,1569.0M292.7,1566.6L289.5,1569.0L289.6,1565.0M312.1,1551.9L303.9,1568.5M307.0,1566.2L303.9,1568.5L303.9,1564.6M339.4,1551.4L332.6,1569.0M335.5,1566.3L332.6,1569.0L332.2,1565.1M353.2,1552.8L346.8,1567.6M349.8,1565.1L346.8,1567.6L346.6,1563.7M379.9,1554.1L376.1,1566.3M378.8,1563.5L376.1,1566.3L375.5,1562.4M404.0,1559.0L408.0,1561.4M407.2,1560.1L408.0,1561.4L406.5,1561.3M417.1,1560.8L422.9,1559.6M421.0,1559.1L422.9,1559.6L421.3,1560.9M431.2,1561.4L436.8,1559.0M434.8,1558.9L436.8,1559.0L435.5,1560.6M444.6,1561.9L451.4,1558.5M448.9,1558.5L451.4,1558.5L449.8,1560.6M459.6,1563.0L464.4,1557.4M462.1,1558.4L464.4,1557.4L463.8,1559.8M474.5,1563.4L477.5,1557.0M475.6,1558.5L477.5,1557.0L477.6,1559.4M488.2,1563.8L491.8,1556.6M489.6,1558.2L491.8,1556.6L491.8,1559.3M501.1,1565.3L506.9,1555.1M503.6,1557.3L506.9,1555.1L506.7,1559.0M528.7,1565.5L535.3,1554.9M531.9,1556.9L535.3,1554.9L534.9,1558.8M542.9,1566.3L549.1,1554.1M545.9,1556.5L549.1,1554.1L549.0,1558.1M557.1,1565.2L562.9,1555.2M559.7,1557.4L562.9,1555.2L562.6,1559.1M571.0,1565.2L577.0,1555.2M573.7,1557.2L577.0,1555.2L576.7,1559.1M585.7,1564.3L590.3,1556.1M587.7,1557.9L590.3,1556.1L590.2,1559.3M600.3,1566.5L603.7,1553.9M601.1,1556.8L603.7,1553.9L604.5,1557.7M616.0,1565.6L616.0,1554.8M614.4,1558.1L616.0,1554.8L617.6,1558.0M630.0,1566.2L630.0,1554.2M628.3,1557.7L630.0,1554.2L631.8,1557.7M644.4,1567.6L643.6,1552.8M642.0,1556.4L643.6,1552.8L645.5,1556.2M657.7,1565.4L658.3,1555.0M656.6,1558.0L658.3,1555.0L659.7,1558.2M672.5,1564.7L671.5,1555.7M670.4,1558.5L671.5,1555.7L673.2,1558.2M685.4,1563.6L686.6,1556.8M685.2,1558.7L686.6,1556.8L687.2,1559.0M699.6,1563.7L700.4,1556.7M699.1,1558.7L700.4,1556.7L701.2,1558.9M713.9,1563.0L714.1,1557.4M713.2,1559.1L714.1,1557.4L714.9,1559.1M132.1,1564.8L119.9,1584.0M123.2,1582.0L119.9,1584.0L120.3,1580.1M144.0,1569.2L136.0,1579.6M139.5,1577.9L136.0,1579.6L136.7,1575.8M161.4,1564.9L146.6,1583.9M150.2,1582.2L146.6,1583.9L147.4,1580.0M173.6,1567.9L162.4,1580.9M166.0,1579.4L162.4,1580.9L163.3,1577.1M188.7,1565.7L175.3,1583.1M178.8,1581.4L175.3,1583.1L176.1,1579.2M201.3,1567.4L190.7,1581.4M194.2,1579.7L190.7,1581.4L191.4,1577.5M215.9,1565.0L204.1,1583.8M207.4,1581.8L204.1,1583.8L204.5,1580.0M228.1,1568.2L219.9,1580.6M223.3,1578.7L219.9,1580.6L220.3,1576.7M243.9,1566.4L232.1,1582.4M235.5,1580.7L232.1,1582.4L232.7,1578.6M256.9,1566.9L247.1,1581.9M250.5,1580.0L247.1,1581.9L247.5,1578.1M270.8,1568.1L261.2,1580.7M264.7,1579.0L261.2,1580.7L261.9,1576.8M287.0,1565.0L273.0,1583.8M276.5,1582.1L273.0,1583.8L273.7,1580.0M297.8,1568.2L290.2,1580.6M293.5,1578.5L290.2,1580.6L290.5,1576.7M312.2,1567.0L303.8,1581.8M307.0,1579.6L303.8,1581.8L304.0,1577.9M327.1,1565.6L316.9,1583.2M320.2,1581.1L316.9,1583.2L317.2,1579.3M340.7,1567.2L331.3,1581.6M334.7,1579.6L331.3,1581.6L331.7,1577.7M368.2,1568.3L359.8,1580.5M363.3,1578.6L359.8,1580.5L360.4,1576.6M382.4,1567.8L373.6,1581.0M377.0,1579.1L373.6,1581.0L374.1,1577.1M395.0,1567.8L389.0,1581.0M392.1,1578.5L389.0,1581.0L388.9,1577.1M405.9,1571.8L406.1,1577.0M406.8,1575.4L406.1,1577.0L405.2,1575.5M460.0,1577.5L464.0,1571.3M461.9,1572.6L464.0,1571.3L463.7,1573.8M473.4,1578.9L478.6,1569.9M475.7,1571.8L478.6,1569.9L478.4,1573.4M487.3,1578.8L492.7,1570.0M489.8,1571.8L492.7,1570.0L492.4,1573.5M501.4,1580.3L506.6,1568.5M503.6,1571.0L506.6,1568.5L506.8,1572.4M516.3,1578.7L519.7,1570.1M517.4,1572.2L519.7,1570.1L520.0,1573.2M530.2,1578.5L533.8,1570.3M531.5,1572.2L533.8,1570.3L533.9,1573.3M544.3,1578.8L547.7,1570.0M545.4,1572.1L547.7,1570.0L548.0,1573.2M557.6,1577.6L562.4,1571.2M560.0,1572.4L562.4,1571.2L561.9,1573.8M571.6,1578.1L576.4,1570.7M573.8,1572.2L576.4,1570.7L576.1,1573.6M586.4,1578.5L589.6,1570.3M587.4,1572.3L589.6,1570.3L589.9,1573.2M601.0,1581.1L603.0,1567.7M600.8,1570.8L603.0,1567.7L604.2,1571.4M615.7,1579.8L616.3,1569.0M614.5,1572.2L616.3,1569.0L617.7,1572.4M629.7,1582.1L630.3,1566.7M628.4,1570.1L630.3,1566.7L631.9,1570.3M643.3,1581.2L644.7,1567.6M642.6,1570.9L644.7,1567.6L646.1,1571.3M658.1,1581.2L657.9,1567.6M656.2,1571.1L657.9,1567.6L659.7,1571.1M672.0,1579.6L672.0,1569.2M670.4,1572.3L672.0,1569.2L673.5,1572.3M685.5,1576.8L686.5,1572.0M685.5,1573.3L686.5,1572.0L686.9,1573.6M699.4,1579.0L700.6,1569.8M698.8,1572.4L700.6,1569.8L701.6,1572.7M714.0,1578.1L714.0,1570.7M712.9,1572.9L714.0,1570.7L715.1,1572.9M132.9,1579.4L119.1,1597.8M122.6,1596.0L119.1,1597.8L119.8,1593.9M145.4,1581.7L134.6,1595.5M138.1,1593.8L134.6,1595.5L135.4,1591.6M172.6,1580.5L163.4,1596.7M166.6,1594.5L163.4,1596.7L163.6,1592.8M188.2,1580.9L175.8,1596.3M179.3,1594.7L175.8,1596.3L176.6,1592.5M202.9,1579.2L189.1,1598.0M192.6,1596.2L189.1,1598.0L189.8,1594.2M213.9,1583.6L206.1,1593.6M209.7,1591.9L206.1,1593.6L206.9,1589.7M242.7,1582.6L233.3,1594.6M236.8,1592.9L233.3,1594.6L234.1,1590.8M255.4,1583.0L248.6,1594.2M251.9,1592.1L248.6,1594.2L248.9,1590.3M270.2,1581.8L261.8,1595.4M265.2,1593.4L261.8,1595.4L262.2,1591.5M286.4,1579.6L273.6,1597.6M277.0,1595.8L273.6,1597.6L274.2,1593.7M299.7,1579.8L288.3,1597.4M291.6,1595.4L288.3,1597.4L288.7,1593.5M314.2,1579.9L301.8,1597.3M305.2,1595.4L301.8,1597.3L302.4,1593.4M328.4,1578.6L315.6,1598.6M319.0,1596.6L315.6,1598.6L316.0,1594.7M341.0,1580.2L331.0,1597.0M334.3,1594.9L331.0,1597.0L331.2,1593.1M354.9,1580.9L345.1,1596.3M348.5,1594.2L345.1,1596.3L345.5,1592.4M367.9,1583.1L360.1,1594.1M363.5,1592.3L360.1,1594.1L360.7,1590.3M395.4,1584.2L388.6,1593.0M391.9,1591.4L388.6,1593.0L389.3,1589.3M408.4,1584.3L403.6,1592.9M406.3,1591.0L403.6,1592.9L403.8,1589.6M420.5,1585.7L419.5,1591.5M420.7,1589.9L419.5,1591.5L418.9,1589.6M434,1589h1.5M446.3,1589.5L449.7,1587.7M448.4,1587.7L449.7,1587.7L448.9,1588.8M474.3,1591.6L477.7,1585.6M475.7,1586.9L477.7,1585.6L477.6,1587.9M488.7,1592.5L491.3,1584.7M489.3,1586.6L491.3,1584.7L491.7,1587.4M502.2,1592.6L505.8,1584.6M503.5,1586.5L505.8,1584.6L505.9,1587.5M515.6,1592.0L520.4,1585.2M517.9,1586.5L520.4,1585.2L520.0,1588.0M530.4,1592.2L533.6,1585.0M531.6,1586.7L533.6,1585.0L533.7,1587.7M543.9,1593.3L548.1,1583.9M545.4,1586.1L548.1,1583.9L548.3,1587.4M557.5,1593.8L562.5,1583.4M559.4,1585.8L562.5,1583.4L562.5,1587.2M571.4,1593.9L576.6,1583.3M573.5,1585.7L576.6,1583.3L576.6,1587.2M585.9,1594.2L590.1,1583.0M587.2,1585.7L590.1,1583.0L590.5,1586.9M601.0,1594.7L603.0,1582.5M600.7,1585.7L603.0,1582.5L604.2,1586.3M615.3,1596.2L616.7,1581.0M614.7,1584.4L616.7,1581.0L618.1,1584.7M630.2,1594.7L629.8,1582.5M628.2,1586.1L629.8,1582.5L631.7,1586.0M644.2,1596.0L643.8,1581.2M642.1,1584.7L643.8,1581.2L645.6,1584.6M657.7,1595.7L658.3,1581.5M656.4,1584.9L658.3,1581.5L659.9,1585.1M672.5,1593.6L671.5,1583.6M670.3,1586.7L671.5,1583.6L673.3,1586.4M685.9,1592.4L686.1,1584.8M684.9,1587.0L686.1,1584.8L687.2,1587.1M700.4,1592.0L699.6,1585.2M698.8,1587.4L699.6,1585.2L700.8,1587.1M713.9,1592.3L714.1,1584.9M712.9,1587.1L714.1,1584.9L715.1,1587.1M131.5,1595.9L120.5,1609.7M124.1,1608.1L120.5,1609.7L121.3,1605.9M143.9,1597.1L136.1,1608.5M139.5,1606.6L136.1,1608.5L136.6,1604.6M157.2,1597.1L150.8,1608.5M154.1,1606.3L150.8,1608.5L151.0,1604.6M172.2,1596.7L163.8,1608.9M167.2,1607.0L163.8,1608.9L164.3,1605.0M186.3,1597.0L177.7,1608.6M181.2,1606.8L177.7,1608.6L178.4,1604.7M200.2,1597.2L191.8,1608.4M195.3,1606.7L191.8,1608.4L192.5,1604.6M216.1,1594.3L203.9,1611.3M207.4,1609.5L203.9,1611.3L204.5,1607.4M228.2,1596.4L219.8,1609.2M223.2,1607.2L219.8,1609.2L220.2,1605.3M242.2,1597.1L233.8,1608.5M237.3,1606.7L233.8,1608.5L234.5,1604.6M256.5,1595.7L247.5,1609.9M250.8,1607.9L247.5,1609.9L247.9,1606.0M271.4,1594.7L260.6,1610.9M264.0,1609.0L260.6,1610.9L261.1,1607.0M285.5,1594.4L274.5,1611.2M277.9,1609.2L274.5,1611.2L275.0,1607.3M299.3,1594.4L288.7,1611.2M292.0,1609.2L288.7,1611.2L289.1,1607.3M312.9,1595.8L303.1,1609.8M306.6,1608.0L303.1,1609.8L303.7,1606.0M341.5,1595.3L330.5,1610.3M334.0,1608.5L330.5,1610.3L331.2,1606.5M355.4,1595.4L344.6,1610.2M348.1,1608.4L344.6,1610.2L345.3,1606.4M370.0,1594.4L358.0,1611.2M361.5,1609.4L358.0,1611.2L358.6,1607.4M381.9,1597.8L374.1,1607.8M377.6,1606.1L374.1,1607.8L374.9,1603.9M395.6,1596.7L388.4,1608.9M391.7,1606.7L388.4,1608.9L388.7,1604.9M407.1,1599.7L404.9,1605.9M406.5,1604.4L404.9,1605.9L404.6,1603.7M420.4,1602.0L419.6,1603.6M420.1,1603.2L419.6,1603.6L419.6,1603.0M433.7,1603.8L434.3,1601.8M433.8,1602.3L434.3,1601.8L434.4,1602.5M446.3,1605.2L449.7,1600.4M447.9,1601.3L449.7,1600.4L449.4,1602.3M460.3,1605.4L463.7,1600.2M461.9,1601.2L463.7,1600.2L463.5,1602.3M474.1,1606.3L477.9,1599.3M475.7,1600.9L477.9,1599.3L477.8,1602.0M487.6,1607.6L492.4,1598.0M489.5,1600.2L492.4,1598.0L492.4,1601.6M500.4,1608.8L507.6,1596.8M504.3,1598.9L507.6,1596.8L507.3,1600.7M515.4,1608.6L520.6,1597.0M517.6,1599.5L520.6,1597.0L520.7,1600.9M528.6,1608.0L535.4,1597.6M532.0,1599.6L535.4,1597.6L535.0,1601.5M544.1,1607.4L547.9,1598.2M545.4,1600.4L547.9,1598.2L548.2,1601.6M558.5,1606.6L561.5,1599.0M559.5,1600.8L561.5,1599.0L561.7,1601.7M571.5,1608.3L576.5,1597.3M573.5,1599.7L576.5,1597.3L576.7,1601.2M600.8,1608.4L603.2,1597.2M600.8,1600.2L603.2,1597.2L604.2,1600.9M615.0,1609.8L617.0,1595.8M614.8,1599.0L617.0,1595.8L618.2,1599.6M629.9,1609.5L630.1,1596.1M628.3,1599.6L630.1,1596.1L631.8,1599.7M643.8,1608.6L644.2,1597.0M642.3,1600.4L644.2,1597.0L645.8,1600.5M658.1,1608.6L657.9,1597.0M656.2,1600.5L657.9,1597.0L659.7,1600.4M671.8,1605.7L672.2,1599.9M671.2,1601.6L672.2,1599.9L672.9,1601.7M685.1,1606.1L686.9,1599.5M685.3,1601.2L686.9,1599.5L687.3,1601.7M713.8,1605.5L714.2,1600.1M713.3,1601.7L714.2,1600.1L714.9,1601.8M127.2,1615.0L124.8,1619.0M126.1,1618.2L124.8,1619.0L124.9,1617.4M142.5,1612.5L137.5,1621.5M140.3,1619.5L137.5,1621.5L137.7,1618.0M155.2,1614.5L152.8,1619.5M154.3,1618.4L152.8,1619.5L152.8,1617.6M169.0,1614.2L167.0,1619.8M168.4,1618.4L167.0,1619.8L166.7,1617.8M183.6,1612.8L180.4,1621.2M182.6,1619.2L180.4,1621.2L180.1,1618.2M198.8,1612.6L193.2,1621.4M196.2,1619.6L193.2,1621.4L193.6,1617.9M212.4,1613.1L207.6,1620.9M210.2,1619.3L207.6,1620.9L207.9,1617.8M226.2,1612.8L221.8,1621.2M224.4,1619.3L221.8,1621.2L221.9,1618.0M240.2,1612.0L235.8,1622.0M238.6,1619.7L235.8,1622.0L235.6,1618.3M254.1,1613.0L249.9,1621.0M252.4,1619.2L249.9,1621.0L250.0,1618.0M268.1,1613.7L263.9,1620.3M266.2,1618.9L263.9,1620.3L264.2,1617.7M282.2,1614.2L277.8,1619.8M279.9,1618.8L277.8,1619.8L278.3,1617.4M295.9,1613.8L292.1,1620.2M294.2,1618.9L292.1,1620.2L292.3,1617.7M310.1,1613.9L305.9,1620.1M308.1,1618.9L305.9,1620.1L306.2,1617.6M324.5,1612.6L319.5,1621.4M322.3,1619.5L319.5,1621.4L319.7,1618.0M350.9,1614.0L349.1,1620.0M350.6,1618.5L349.1,1620.0L348.7,1617.9M365.2,1613.0L362.8,1621.0M364.7,1619.0L362.8,1621.0L362.3,1618.2M379.5,1614.6L376.5,1619.4M378.1,1618.4L376.5,1619.4L376.7,1617.5M393.0,1614.5L391.0,1619.5M392.3,1618.3L391.0,1619.5L390.9,1617.7M406.6,1615.6L405.4,1618.4M406.2,1617.8L405.4,1618.4L405.3,1617.4M419.4,1616.1L420.6,1617.9M420.5,1617.2L420.6,1617.9L419.9,1617.5M434,1617h1.5M446.3,1619.7L449.7,1614.3M447.9,1615.4L449.7,1614.3L449.5,1616.4M473.5,1621.0L478.5,1613.0M475.8,1614.7L478.5,1613.0L478.2,1616.2M486.8,1621.8L493.2,1612.2M489.8,1614.1L493.2,1612.2L492.7,1616.0M502.0,1621.2L506.0,1612.8M503.5,1614.7L506.0,1612.8L506.0,1615.9M515.1,1621.7L520.9,1612.3M517.7,1614.2L520.9,1612.3L520.6,1616.0M529.6,1621.3L534.4,1612.7M531.7,1614.6L534.4,1612.7L534.2,1616.0M542.5,1622.9L549.5,1611.1M546.2,1613.2L549.5,1611.1L549.2,1615.0M557.3,1622.6L562.7,1611.4M559.6,1613.8L562.7,1611.4L562.7,1615.3M572.1,1621.9L575.9,1612.1M573.3,1614.5L575.9,1612.1L576.2,1615.6M585.5,1622.6L590.5,1611.4M587.5,1613.8L590.5,1611.4L590.7,1615.3M599.6,1624.5L604.4,1609.5M601.7,1612.2L604.4,1609.5L605.0,1613.3M615.8,1624.4L616.2,1609.6M614.3,1613.0L616.2,1609.6L617.8,1613.1M630.3,1624.9L629.7,1609.1M628.1,1612.7L629.7,1609.1L631.6,1612.6M643.3,1624.5L644.7,1609.5M642.6,1612.8L644.7,1609.5L646.1,1613.2M657.3,1621.5L658.7,1612.5M656.9,1615.0L658.7,1612.5L659.6,1615.4M684.5,1618.2L687.5,1615.8M686.2,1616.1L687.5,1615.8L686.9,1617.0M700,1617h1.5M713.2,1617.4L714.8,1616.6M714.2,1616.6L714.8,1616.6L714.4,1617.1M126.1,1630.4L125.9,1632.0M126.2,1631.6L125.9,1632.0L125.7,1631.5M140.6,1629.0L139.4,1633.4M140.4,1632.3L139.4,1633.4L139.1,1631.9M154.1,1629.6L153.9,1632.8M154.5,1631.9L153.9,1632.8L153.5,1631.8M168.9,1630.2L167.1,1632.2M167.9,1631.9L167.1,1632.2L167.4,1631.3M182.0,1630.3L182.0,1632.1M182.3,1631.6L182.0,1632.1L181.7,1631.6M195.7,1629.2L196.3,1633.2M196.7,1631.9L196.3,1633.2L195.5,1632.1M210.3,1629.9L209.7,1632.5M210.3,1631.8L209.7,1632.5L209.5,1631.6M224.7,1629.2L223.3,1633.2M224.3,1632.2L223.3,1633.2L223.1,1631.8M237.6,1629.6L238.4,1632.8M238.6,1631.7L238.4,1632.8L237.7,1632.0M251.7,1629.3L252.3,1633.1M252.7,1631.9L252.3,1633.1L251.6,1632.0M266.9,1630.3L265.1,1632.1M265.9,1631.8L265.1,1632.1L265.4,1631.3M280.3,1630.4L279.7,1632.0M280.1,1631.6L279.7,1632.0L279.6,1631.4M293.6,1629.7L294.4,1632.7M294.6,1631.7L294.4,1632.7L293.7,1631.9M307.5,1630.0L308.5,1632.4M308.6,1631.5L308.5,1632.4L307.9,1631.8M321.6,1629.8L322.4,1632.6M322.6,1631.6L322.4,1632.6L321.8,1631.9M336.7,1630.4L335.3,1632.0M336.0,1631.7L335.3,1632.0L335.5,1631.3M350.3,1629.4L349.7,1633.0M350.4,1632.0L349.7,1633.0L349.3,1631.8M405.8,1629.6L406.2,1632.8M406.6,1631.8L406.2,1632.8L405.6,1631.9M419.1,1630.2L420.9,1632.2M420.7,1631.3L420.9,1632.2L420.1,1631.9M434,1631h1.5M446.9,1632.0L449.1,1630.4M448.2,1630.5L449.1,1630.4L448.7,1631.2M460.2,1632.0L463.8,1630.4M462.5,1630.4L463.8,1630.4L462.9,1631.4M474.8,1633.2L477.2,1629.2M475.9,1630.0L477.2,1629.2L477.1,1630.8M488.1,1633.0L491.9,1629.4M490.2,1629.9L491.9,1629.4L491.3,1631.1M502.2,1633.2L505.8,1629.2M504.1,1629.9L505.8,1629.2L505.3,1631.0M516.2,1634.7L519.8,1627.7M517.7,1629.3L519.8,1627.7L519.8,1630.3M530.1,1633.3L533.9,1629.1M532.1,1629.8L533.9,1629.1L533.4,1630.9M544.8,1634.7L547.2,1627.7M545.4,1629.4L547.2,1627.7L547.5,1630.1M556.9,1635.9L563.1,1626.5M559.8,1628.4L563.1,1626.5L562.6,1630.2M571.8,1634.0L576.2,1628.4M574.0,1629.4L576.2,1628.4L575.7,1630.7M586.4,1636.6L589.6,1625.8M587.0,1628.6L589.6,1625.8L590.2,1629.5M600.6,1635.2L603.4,1627.2M601.4,1629.2L603.4,1627.2L603.7,1630.0M615.6,1635.4L616.4,1627.0M614.9,1629.4L616.4,1627.0L617.4,1629.6M629.7,1638.5L630.3,1623.9M628.4,1627.4L630.3,1623.9L631.9,1627.5M643.9,1638.5L644.1,1623.9M642.3,1627.4L644.1,1623.9L645.8,1627.5M657.7,1635.6L658.3,1626.8M656.8,1629.3L658.3,1626.8L659.5,1629.5M670.6,1631.5L673.4,1630.9M672.5,1630.7L673.4,1630.9L672.6,1631.5M684.7,1631.1L687.3,1631.3M686.5,1630.8L687.3,1631.3L686.5,1631.6M698.2,1631.1L701.8,1631.3M700.8,1630.7L701.8,1631.3L700.7,1631.8M713.0,1629.9L715.0,1632.5M714.8,1631.4L715.0,1632.5L714.0,1632.0M126.7,1644.3L125.3,1646.5M126.1,1646.1L125.3,1646.5L125.4,1645.7M140,1645h1.5M154.2,1644.5L153.8,1646.3M154.2,1645.8L153.8,1646.3L153.7,1645.7M167.6,1643.7L168.4,1647.1M168.7,1646.0L168.4,1647.1L167.6,1646.2M181.4,1643.7L182.6,1647.1M182.8,1645.9L182.6,1647.1L181.7,1646.3M195.5,1644.5L196.5,1646.3M196.5,1645.6L196.5,1646.3L195.9,1645.9M210,1645h1.5M224.0,1643.6L224.0,1647.2M224.5,1646.1L224.0,1647.2L223.4,1646.1M238.6,1644.8L237.4,1646.0M237.9,1645.8L237.4,1646.0L237.6,1645.5M251.3,1644.8L252.7,1646.0M252.5,1645.4L252.7,1646.0L252.1,1645.9M265.7,1643.9L266.3,1646.9M266.6,1645.9L266.3,1646.9L265.7,1646.1M280.0,1643.4L280.0,1647.4M280.6,1646.2L280.0,1647.4L279.4,1646.2M294.7,1644.9L293.3,1645.9M293.9,1645.8L293.3,1645.9L293.6,1645.4M307.4,1643.6L308.6,1647.2M308.8,1645.9L308.6,1647.2L307.7,1646.3M322.7,1644.2L321.3,1646.6M322.1,1646.1L321.3,1646.6L321.4,1645.7M335.5,1643.6L336.5,1647.2M336.8,1646.0L336.5,1647.2L335.7,1646.3M350,1645h1.5M364.3,1644.4L363.7,1646.4M364.2,1645.9L363.7,1646.4L363.6,1645.7M377.6,1643.5L378.4,1647.3M378.7,1646.1L378.4,1647.3L377.6,1646.3M392.6,1644.7L391.4,1646.1M392.0,1645.9L391.4,1646.1L391.5,1645.5M405.5,1644.6L406.5,1646.2M406.4,1645.5L406.5,1646.2L406.0,1645.9M420.6,1644.2L419.4,1646.6M420.1,1646.0L419.4,1646.6L419.4,1645.7M433.0,1645.2L435.0,1645.6M434.5,1645.2L435.0,1645.6L434.4,1645.8M447.2,1645.6L448.8,1645.2M448.3,1645.1L448.8,1645.2L448.4,1645.6M462,1645h1.5M475.0,1645.9L477.0,1644.9M476.2,1644.9L477.0,1644.9L476.5,1645.5M488.7,1646.6L491.3,1644.2M490.2,1644.5L491.3,1644.2L490.9,1645.3M501.9,1648.4L506.1,1642.4M503.9,1643.6L506.1,1642.4L505.8,1644.8M516.0,1649.2L520.0,1641.6M517.7,1643.3L520.0,1641.6L520.0,1644.5M529.9,1649.1L534.1,1641.7M531.8,1643.3L534.1,1641.7L534.0,1644.6M543.9,1648.2L548.1,1642.6M546.0,1643.7L548.1,1642.6L547.7,1644.9M558.4,1649.4L561.6,1641.4M559.5,1643.3L561.6,1641.4L561.8,1644.3M572.7,1648.0L575.3,1642.8M573.8,1644.0L575.3,1642.8L575.3,1644.8M586.1,1648.4L589.9,1642.4M587.9,1643.7L589.9,1642.4L589.6,1644.8M601.3,1649.2L602.7,1641.6M601.1,1643.7L602.7,1641.6L603.4,1644.1M615.1,1652.5L616.9,1638.3M614.7,1641.6L616.9,1638.3L618.2,1642.0M629.2,1650.9L630.8,1639.9M628.7,1642.9L630.8,1639.9L632.0,1643.4M644.4,1650.8L643.6,1640.0M642.2,1643.4L643.6,1640.0L645.5,1643.1M657.6,1647.8L658.4,1643.0M657.4,1644.3L658.4,1643.0L658.9,1644.5M670.6,1645.8L673.4,1645.0M672.4,1644.8L673.4,1645.0L672.7,1645.7M684.5,1644.3L687.5,1646.5M686.9,1645.4L687.5,1646.5L686.2,1646.3M698.8,1643.4L701.2,1647.4M701.1,1645.9L701.2,1647.4L699.8,1646.6M712.7,1644.9L715.3,1645.9M714.7,1645.2L715.3,1645.9L714.4,1646.0M126.1,1658.8L125.9,1660.4M126.2,1659.9L125.9,1660.4L125.7,1659.9M139.8,1658.8L140.2,1660.4M140.3,1659.8L140.2,1660.4L139.8,1660.0M182.5,1658.4L181.5,1660.8M182.1,1660.2L181.5,1660.8L181.4,1659.9M196,1660h1.5M209.8,1658.4L210.2,1660.8M210.4,1660.0L210.2,1660.8L209.7,1660.1M224.7,1657.4L223.3,1661.8M224.4,1660.7L223.3,1661.8L223.1,1660.3M237.3,1658.0L238.7,1661.2M238.8,1660.0L238.7,1661.2L237.8,1660.4M252.7,1657.8L251.3,1661.4M252.3,1660.5L251.3,1661.4L251.2,1660.1M266.7,1657.9L265.3,1661.3M266.2,1660.5L265.3,1661.3L265.2,1660.0M280.6,1658.2L279.4,1661.0M280.2,1660.4L279.4,1661.0L279.3,1660.0M294.4,1658.7L293.6,1660.5M294.1,1660.1L293.6,1660.5L293.6,1659.9M308.3,1657.8L307.7,1661.4M308.4,1660.4L307.7,1661.4L307.4,1660.2M321.3,1658.2L322.7,1661.0M322.7,1659.9L322.7,1661.0L321.9,1660.4M336.0,1657.6L336.0,1661.6M336.6,1660.4L336.0,1661.6L335.4,1660.4M350.7,1657.9L349.3,1661.3M350.2,1660.5L349.3,1661.3L349.2,1660.1M364.7,1658.5L363.3,1660.7M364.1,1660.2L363.3,1660.7L363.4,1659.8M378.5,1658.4L377.5,1660.8M378.2,1660.2L377.5,1660.8L377.5,1660.0M392.1,1658.1L391.9,1661.1M392.4,1660.2L391.9,1661.1L391.5,1660.2M405.2,1658.7L406.8,1660.5M406.6,1659.7L406.8,1660.5L406.0,1660.2M433.1,1659.7L434.9,1659.5M434.3,1659.3L434.9,1659.5L434.4,1659.8M446.8,1659.6L449.2,1659.6M448.5,1659.2L449.2,1659.6L448.5,1659.9M460.6,1661.2L463.4,1658.0M462.1,1658.5L463.4,1658.0L463.0,1659.4M474.5,1661.4L477.5,1657.8M476.1,1658.4L477.5,1657.8L477.2,1659.3M488.6,1661.6L491.4,1657.6M489.9,1658.4L491.4,1657.6L491.1,1659.2M501.8,1663.8L506.2,1655.4M503.6,1657.3L506.2,1655.4L506.1,1658.6M515.0,1664.0L521.0,1655.2M517.9,1656.9L521.0,1655.2L520.5,1658.7M530.2,1664.0L533.8,1655.2M531.4,1657.3L533.8,1655.2L534.1,1658.4M544.0,1663.2L548.0,1656.0M545.7,1657.5L548.0,1656.0L547.9,1658.8M571.1,1663.4L576.9,1655.8M574.0,1657.2L576.9,1655.8L576.3,1659.0M586.9,1663.0L589.1,1656.2M587.4,1657.9L589.1,1656.2L589.4,1658.6M600.2,1666.4L603.8,1652.8M601.2,1655.8L603.8,1652.8L604.6,1656.7M615.0,1665.4L617.0,1653.8M614.7,1657.0L617.0,1653.8L618.1,1657.6M629.4,1667.4L630.6,1651.8M628.6,1655.1L630.6,1651.8L632.1,1655.4M643.9,1665.8L644.1,1653.4M642.3,1656.8L644.1,1653.4L645.8,1656.9M657.7,1663.3L658.3,1655.9M657.0,1658.0L658.3,1655.9L659.2,1658.2M671.2,1659.7L672.8,1659.5M672.3,1659.3L672.8,1659.5L672.4,1659.8M684.5,1659.3L687.5,1659.9M686.7,1659.3L687.5,1659.9L686.5,1660.2M698.3,1658.4L701.7,1660.8M701.0,1659.6L701.7,1660.8L700.3,1660.6M714,1660h1.5" stroke="#e2e22a" stroke-width="1.45" fill="none" stroke-linecap="round"/></g>
<path d="M474,834.8 L464,1665" stroke="#34e04c" stroke-width="12" stroke-dasharray="46.5 37 10.7 37" fill="none"/>
<path d="M544.5,834.8 L536,1665" stroke="#8cc8e0" stroke-width="12" stroke-dasharray="46.5 37 10.7 37" fill="none"/>
<path d="M236.3,1051.0 C241.9,1048.7 257.4,1040.9 270.0,1037.0 C282.6,1033.1 296.6,1030.2 311.6,1027.7 C326.6,1025.2 342.7,1023.3 360.0,1022.0 C377.3,1020.7 397.1,1019.7 415.4,1020.0 C433.7,1020.3 452.7,1021.8 470.0,1024.0 C487.3,1026.2 502.4,1028.9 519.3,1033.0 C536.2,1037.1 552.6,1041.8 571.2,1048.5 C589.8,1055.2 621.0,1069.2 631.0,1073.4" fill="none" stroke="#f0f036" stroke-width="7.5" stroke-linecap="butt"/>
<path d="M33.8,1118.6 C45.5,1124.2 82.9,1143.7 103.9,1152.3 C124.9,1160.9 142.7,1164.8 160.0,1170.0 C177.3,1175.2 191.0,1179.7 207.7,1183.5 C224.4,1187.3 242.7,1190.4 260.0,1193.0 C277.3,1195.6 292.6,1197.1 311.6,1199.0 C330.6,1200.9 363.5,1203.4 373.9,1204.3" fill="none" stroke="#f0f036" stroke-width="7.5" stroke-linecap="butt"/>
<path d="M236.3,1463.0 C240.2,1460.8 251.8,1453.9 260.0,1450.0 C268.2,1446.1 275.6,1442.3 285.6,1439.6 C295.6,1436.9 307.0,1435.3 320.0,1434.0 C333.0,1432.7 346.8,1431.7 363.5,1431.9 C380.2,1432.1 402.7,1433.3 420.0,1435.0 C437.3,1436.7 452.4,1439.5 467.4,1442.2 C482.4,1444.9 497.0,1447.5 510.0,1451.0 C523.0,1454.5 532.8,1458.2 545.3,1463.0 C557.8,1467.8 572.5,1473.9 585.0,1480.0 C597.5,1486.1 614.7,1496.2 620.6,1499.4" fill="none" stroke="#f0f036" stroke-width="7.5" stroke-linecap="butt"/>
<path d="M18.2,1526.9 C25.2,1529.8 45.7,1538.7 60.0,1544.0 C74.3,1549.3 87.9,1554.3 103.9,1559.0 C119.9,1563.7 139.8,1569.7 155.8,1572.0 C171.8,1574.3 182.7,1573.8 200.0,1573.0 C217.3,1572.2 241.3,1569.1 259.6,1566.9 C277.9,1564.7 292.7,1562.3 310.0,1560.0 C327.3,1557.7 354.6,1554.1 363.5,1552.9" fill="none" stroke="#f0f036" stroke-width="7.5" stroke-linecap="butt"/>
<path d="M226.0,1201.7L290.8,1215.7M321.5,1218.0L381.8,1221.0M405.0,1209.5L446.6,1183.5M468.4,1160.0L506.3,1118.4M513.9,1108.3L537.9,1067.9" stroke="#8cc8e0" stroke-width="11" fill="none"/>
<path d="M231.4,1589.0L289.5,1586.5M319.8,1580.2L377.9,1568.9M398.1,1558.7L433.5,1529.7M448.4,1511.6L471.6,1471.6" stroke="#34e04c" stroke-width="11" fill="none"/>
<rect x="10" y="839" width="67" height="77" fill="#fff"/>
<text x="44.5" y="902" text-anchor="middle" font-family="Liberation Sans, sans-serif" font-weight="bold" font-size="61" fill="#000">B</text>
<path d="M285.0,360.0 V53.5" stroke="#FBA866" stroke-opacity="0.62" stroke-width="6" stroke-dasharray="5.5 6.9" fill="none"/>
<path d="M308.8,360.0 V53.5" stroke="#FBA866" stroke-opacity="0.62" stroke-width="6" stroke-dasharray="24.9 24.9" fill="none"/>
<path d="M165.0,205.5 C166.1,204.8 166.5,205.3 171.8,201.6 C177.2,197.9 189.4,188.5 197.1,183.3 C204.8,178.2 211.2,174.5 218.2,170.7 C225.2,166.8 232.2,162.9 239.2,160.2 C246.2,157.5 253.3,155.9 260.3,154.6 C267.3,153.3 274.3,152.5 281.3,152.5 C288.3,152.5 294.2,153.1 302.4,154.6 C310.6,156.1 319.2,156.9 330.4,161.6 C341.6,166.3 358.1,176.5 369.5,183.0 C380.9,189.5 389.2,194.8 399.0,200.7 C408.8,206.6 418.6,214.0 428.4,218.4 C438.2,222.8 449.3,225.6 457.9,227.3 C466.5,229.0 472.6,229.2 480.0,228.7 C487.4,228.2 491.7,227.4 502.1,224.3 C512.5,221.2 535.9,212.6 542.6,210.3" fill="none" stroke="#FBA866" stroke-width="6.3" stroke-linecap="round" stroke-linejoin="round"/>
<path d="M165.0,295.0 C170.0,293.8 185.0,290.7 195.0,288.0 C205.0,285.3 215.3,281.3 225.0,278.8 C234.7,276.3 243.6,274.5 253.0,273.0 C262.4,271.5 271.9,270.4 281.3,269.6 C290.7,268.8 300.4,268.2 309.4,268.2 C318.3,268.2 326.6,268.4 335.0,269.5 C343.4,270.6 349.2,272.2 360.0,275.0 C370.8,277.8 388.3,283.1 400.0,286.0 C411.7,288.9 420.4,290.8 430.0,292.5 C439.6,294.2 448.3,295.5 457.9,296.5 C467.5,297.5 477.9,298.5 487.4,298.7 C496.9,298.9 505.8,298.2 515.0,297.5 C524.2,296.8 538.0,294.8 542.6,294.3" fill="none" stroke="#FBA866" stroke-width="6.3" stroke-linecap="round" stroke-linejoin="round"/>
<g fill="#FBA866" stroke="#1c1c1c" stroke-width="1.2"><rect x="157.2" y="196.4" width="14.6" height="14.6"/><rect x="188.8" y="162.4" width="14.6" height="14.6"/><rect x="220.7" y="161.7" width="14.6" height="14.6"/><rect x="252.3" y="159.2" width="14.6" height="14.6"/><rect x="262.5" y="139.5" width="14.6" height="14.6"/><rect x="272.7" y="161.7" width="14.6" height="14.6"/><rect x="283.8" y="157.1" width="14.6" height="14.6"/><rect x="293.7" y="167.6" width="14.6" height="14.6"/><rect x="304.2" y="146.6" width="14.6" height="14.6"/><rect x="314.7" y="149.4" width="14.6" height="14.6"/><rect x="325.2" y="148.0" width="14.6" height="14.6"/><rect x="335.7" y="163.4" width="14.6" height="14.6"/><rect x="345.7" y="159.9" width="14.6" height="14.6"/><rect x="357.0" y="170.6" width="14.6" height="14.6"/><rect x="378.1" y="177.2" width="14.6" height="14.6"/><rect x="409.6" y="201.2" width="14.6" height="14.6"/><rect x="441.3" y="222.9" width="14.6" height="14.6"/><rect x="472.7" y="234.0" width="14.6" height="14.6"/><rect x="504.4" y="233.5" width="14.6" height="14.6"/></g>
<path d="M164.5,293.3 L166.9,300.1 L174.0,300.2 L168.3,304.5 L170.4,311.4 L164.5,307.3 L158.6,311.4 L160.7,304.5 L155.0,300.2 L162.1,300.1Z M196.1,280.7 L198.5,287.5 L205.6,287.6 L199.9,291.9 L202.0,298.8 L196.1,294.7 L190.2,298.8 L192.3,291.9 L186.6,287.6 L193.7,287.5Z M227.7,268.1 L230.1,274.9 L237.2,275.0 L231.5,279.3 L233.6,286.2 L227.7,282.1 L221.8,286.2 L223.9,279.3 L218.2,275.0 L225.3,274.9Z M259.3,271.6 L261.7,278.4 L268.8,278.5 L263.1,282.8 L265.2,289.7 L259.3,285.6 L253.4,289.7 L255.5,282.8 L249.8,278.5 L256.9,278.4Z M269.8,249.1 L272.2,255.9 L279.3,256.0 L273.6,260.3 L275.7,267.2 L269.8,263.1 L263.9,267.2 L266.0,260.3 L260.3,256.0 L267.4,255.9Z M280.3,247.7 L282.7,254.5 L289.8,254.6 L284.1,258.9 L286.2,265.8 L280.3,261.7 L274.4,265.8 L276.5,258.9 L270.8,254.6 L277.9,254.5Z M290.9,255.4 L293.3,262.2 L300.4,262.3 L294.7,266.6 L296.8,273.5 L290.9,269.4 L285.0,273.5 L287.1,266.6 L281.4,262.3 L288.5,262.2Z M301.7,242.1 L304.1,248.9 L311.2,249.0 L305.5,253.3 L307.6,260.2 L301.7,256.1 L295.8,260.2 L297.9,253.3 L292.2,249.0 L299.3,248.9Z M311.9,268.8 L314.3,275.6 L321.4,275.7 L315.7,280.0 L317.8,286.9 L311.9,282.8 L306.0,286.9 L308.1,280.0 L302.4,275.7 L309.5,275.6Z M322.0,256.1 L324.4,262.9 L331.5,263.0 L325.8,267.3 L327.9,274.2 L322.0,270.1 L316.1,274.2 L318.2,267.3 L312.5,263.0 L319.6,262.9Z M332.5,272.3 L334.9,279.1 L342.0,279.2 L336.3,283.5 L338.4,290.4 L332.5,286.3 L326.6,290.4 L328.7,283.5 L323.0,279.2 L330.1,279.1Z M343.0,265.3 L345.4,272.1 L352.5,272.2 L346.8,276.5 L348.9,283.4 L343.0,279.3 L337.1,283.4 L339.2,276.5 L333.5,272.2 L340.6,272.1Z M352.9,261.8 L355.3,268.6 L362.4,268.7 L356.7,273.0 L358.8,279.9 L352.9,275.8 L347.0,279.9 L349.1,273.0 L343.4,268.7 L350.5,268.6Z M364.3,268.1 L366.7,274.9 L373.8,275.0 L368.1,279.3 L370.2,286.2 L364.3,282.1 L358.4,286.2 L360.5,279.3 L354.8,275.0 L361.9,274.9Z M374.6,273.3 L377.0,280.1 L384.1,280.2 L378.4,284.5 L380.5,291.4 L374.6,287.3 L368.7,291.4 L370.8,284.5 L365.1,280.2 L372.2,280.1Z M416.9,262.2 L419.3,269.0 L426.4,269.1 L420.7,273.4 L422.8,280.3 L416.9,276.2 L411.0,280.3 L413.1,273.4 L407.4,269.1 L414.5,269.0Z M448.6,281.4 L451.0,288.2 L458.1,288.3 L452.4,292.6 L454.5,299.5 L448.6,295.4 L442.7,299.5 L444.8,292.6 L439.1,288.3 L446.2,288.2Z M480.0,281.4 L482.4,288.2 L489.5,288.3 L483.8,292.6 L485.9,299.5 L480.0,295.4 L474.1,299.5 L476.2,292.6 L470.5,288.3 L477.6,288.2Z M511.7,291.7 L514.1,298.5 L521.2,298.6 L515.5,302.9 L517.6,309.8 L511.7,305.7 L505.8,309.8 L507.9,302.9 L502.2,298.6 L509.3,298.5Z" fill="#FBA866" stroke="#1c1c1c" stroke-width="1.2" stroke-linejoin="miter"/>
<path d="M165.0,53.5 V360.0 H544.0" fill="none" stroke="#262626" stroke-width="1.3"/>
<path d="M165.0,77.0h4.5M165.0,171.4h4.5M165.0,265.8h4.5" stroke="#262626" stroke-width="1.3" fill="none"/>
<path d="M706.7,359.0 V52.6" stroke="#DC4B05" stroke-opacity="0.62" stroke-width="6" stroke-dasharray="5.5 6.9" fill="none"/>
<path d="M757.8,359.0 V52.6" stroke="#DC4B05" stroke-opacity="0.62" stroke-width="6" stroke-dasharray="24.9 24.9" fill="none"/>
<path d="M579.5,229.0 C582.2,225.8 590.3,216.7 595.5,209.6 C600.7,202.5 605.3,195.0 610.7,186.3 C616.1,177.6 622.5,166.3 627.8,157.6 C633.1,148.9 637.4,141.5 642.5,134.3 C647.6,127.1 653.3,119.7 658.3,114.6 C663.3,109.5 667.2,107.7 672.6,103.8 C678.0,99.9 684.5,94.0 690.5,91.2 C696.5,88.4 701.9,86.7 708.5,86.8 C715.1,86.9 721.8,88.6 730.0,92.0 C738.2,95.4 749.9,102.5 758.0,107.4 C766.1,112.4 771.7,116.6 778.7,121.7 C785.7,126.8 791.3,129.5 800.2,137.9 C809.1,146.3 821.5,160.3 832.0,172.0 C842.5,183.7 852.8,197.1 863.3,207.8 C873.8,218.6 885.1,229.6 894.9,236.5 C904.7,243.4 914.7,247.8 922.2,249.0 C929.7,250.2 934.0,247.0 940.0,243.7 C946.0,240.4 955.0,231.7 958.0,229.3" fill="none" stroke="#DC4B05" stroke-width="6.3" stroke-linecap="round" stroke-linejoin="round"/>
<path d="M579.5,318.0 C584.7,317.6 600.2,318.2 610.7,315.4 C621.2,312.6 632.0,305.9 642.5,301.1 C653.0,296.3 663.0,291.6 673.5,286.7 C684.0,281.8 695.2,275.4 705.8,271.5 C716.4,267.6 728.5,265.0 737.2,263.4 C745.9,261.8 751.1,261.5 758.0,261.6 C764.9,261.8 771.1,262.5 778.7,264.3 C786.3,266.1 795.0,268.7 803.8,272.4 C812.6,276.1 821.7,281.3 831.6,286.7 C841.5,292.1 852.8,299.3 863.3,304.7 C873.8,310.1 885.1,315.6 894.9,319.0 C904.7,322.4 911.7,324.4 922.2,325.3 C932.7,326.2 952.0,324.5 958.0,324.4" fill="none" stroke="#DC4B05" stroke-width="6.3" stroke-linecap="round" stroke-linejoin="round"/>
<g fill="#DC4B05" stroke="#1c1c1c" stroke-width="1.2"><rect x="571.7" y="227.4" width="14.6" height="14.6"/><rect x="603.4" y="182.6" width="14.6" height="14.6"/><rect x="635.2" y="122.5" width="14.6" height="14.6"/><rect x="666.2" y="96.5" width="14.6" height="14.6"/><rect x="677.0" y="90.8" width="14.6" height="14.6"/><rect x="687.7" y="78.2" width="14.6" height="14.6"/><rect x="698.5" y="63.3" width="14.6" height="14.6"/><rect x="708.3" y="79.5" width="14.6" height="14.6"/><rect x="719.7" y="88.4" width="14.6" height="14.6"/><rect x="740.3" y="94.7" width="14.6" height="14.6"/><rect x="751.0" y="103.7" width="14.6" height="14.6"/><rect x="761.5" y="123.4" width="14.6" height="14.6"/><rect x="771.4" y="109.1" width="14.6" height="14.6"/><rect x="782.2" y="120.7" width="14.6" height="14.6"/><rect x="792.9" y="125.2" width="14.6" height="14.6"/><rect x="824.7" y="166.4" width="14.6" height="14.6"/><rect x="856.0" y="202.3" width="14.6" height="14.6"/><rect x="887.6" y="225.6" width="14.6" height="14.6"/><rect x="919.0" y="232.4" width="14.6" height="14.6"/></g>
<path d="M579.0,308.1 L581.4,314.9 L588.5,315.0 L582.8,319.3 L584.9,326.2 L579.0,322.1 L573.1,326.2 L575.2,319.3 L569.5,315.0 L576.6,314.9Z M610.7,318.9 L613.1,325.7 L620.2,325.8 L614.5,330.1 L616.6,337.0 L610.7,332.9 L604.8,337.0 L606.9,330.1 L601.2,325.8 L608.3,325.7Z M642.5,288.4 L644.9,295.2 L652.0,295.3 L646.3,299.6 L648.4,306.5 L642.5,302.4 L636.6,306.5 L638.7,299.6 L633.0,295.3 L640.1,295.2Z M673.5,299.1 L675.9,305.9 L683.0,306.0 L677.3,310.3 L679.4,317.2 L673.5,313.1 L667.6,317.2 L669.7,310.3 L664.0,306.0 L671.1,305.9Z M684.3,270.5 L686.7,277.3 L693.8,277.4 L688.1,281.7 L690.2,288.6 L684.3,284.5 L678.4,288.6 L680.5,281.7 L674.8,277.4 L681.9,277.3Z M695.0,267.8 L697.4,274.6 L704.5,274.7 L698.8,279.0 L700.9,285.9 L695.0,281.8 L689.1,285.9 L691.2,279.0 L685.5,274.7 L692.6,274.6Z M705.8,235.5 L708.2,242.3 L715.3,242.4 L709.6,246.7 L711.7,253.6 L705.8,249.5 L699.9,253.6 L702.0,246.7 L696.3,242.4 L703.4,242.3Z M715.6,257.0 L718.0,263.8 L725.1,263.9 L719.4,268.2 L721.5,275.1 L715.6,271.0 L709.7,275.1 L711.8,268.2 L706.1,263.9 L713.2,263.8Z M726.4,242.7 L728.8,249.5 L735.9,249.6 L730.2,253.9 L732.3,260.8 L726.4,256.7 L720.5,260.8 L722.6,253.9 L716.9,249.6 L724.0,249.5Z M737.2,242.7 L739.6,249.5 L746.7,249.6 L741.0,253.9 L743.1,260.8 L737.2,256.7 L731.3,260.8 L733.4,253.9 L727.7,249.6 L734.8,249.5Z M747.0,261.5 L749.4,268.3 L756.5,268.4 L750.8,272.7 L752.9,279.6 L747.0,275.5 L741.1,279.6 L743.2,272.7 L737.5,268.4 L744.6,268.3Z M757.8,252.5 L760.2,259.3 L767.3,259.4 L761.6,263.7 L763.7,270.6 L757.8,266.5 L751.9,270.6 L754.0,263.7 L748.3,259.4 L755.4,259.3Z M768.8,248.9 L771.2,255.7 L778.3,255.8 L772.6,260.1 L774.7,267.0 L768.8,262.9 L762.9,267.0 L765.0,260.1 L759.3,255.8 L766.4,255.7Z M778.7,257.0 L781.1,263.8 L788.2,263.9 L782.5,268.2 L784.6,275.1 L778.7,271.0 L772.8,275.1 L774.9,268.2 L769.2,263.9 L776.3,263.8Z M789.5,270.5 L791.9,277.3 L799.0,277.4 L793.3,281.7 L795.4,288.6 L789.5,284.5 L783.6,288.6 L785.7,281.7 L780.0,277.4 L787.1,277.3Z M800.2,255.2 L802.6,262.0 L809.7,262.1 L804.0,266.4 L806.1,273.3 L800.2,269.2 L794.3,273.3 L796.4,266.4 L790.7,262.1 L797.8,262.0Z M810.0,269.6 L812.4,276.4 L819.5,276.5 L813.8,280.8 L815.9,287.7 L810.0,283.6 L804.1,287.7 L806.2,280.8 L800.5,276.5 L807.6,276.4Z M821.4,262.4 L823.8,269.2 L830.9,269.3 L825.2,273.6 L827.3,280.5 L821.4,276.4 L815.5,280.5 L817.6,273.6 L811.9,269.3 L819.0,269.2Z M831.6,281.2 L834.0,288.0 L841.1,288.1 L835.4,292.4 L837.5,299.3 L831.6,295.2 L825.7,299.3 L827.8,292.4 L822.1,288.1 L829.2,288.0Z M863.3,292.9 L865.7,299.7 L872.8,299.8 L867.1,304.1 L869.2,311.0 L863.3,306.9 L857.4,311.0 L859.5,304.1 L853.8,299.8 L860.9,299.7Z M894.9,290.2 L897.3,297.0 L904.4,297.1 L898.7,301.4 L900.8,308.3 L894.9,304.2 L889.0,308.3 L891.1,301.4 L885.4,297.1 L892.5,297.0Z M926.3,292.9 L928.7,299.7 L935.8,299.8 L930.1,304.1 L932.2,311.0 L926.3,306.9 L920.4,311.0 L922.5,304.1 L916.8,299.8 L923.9,299.7Z" fill="#DC4B05" stroke="#1c1c1c" stroke-width="1.2" stroke-linejoin="miter"/>
<path d="M579.4,52.6 V359.0 H958.6" fill="none" stroke="#262626" stroke-width="1.3"/>
<path d="M579.4,76.2h4.5M579.4,170.4h4.5M579.4,265.0h4.5" stroke="#262626" stroke-width="1.3" fill="none"/>
<path d="M1141.5,359.2 V52.6" stroke="#7A2805" stroke-opacity="0.62" stroke-width="6" stroke-dasharray="5.5 6.9" fill="none"/>
<path d="M1146.9,359.2 V52.6" stroke="#7A2805" stroke-opacity="0.62" stroke-width="6" stroke-dasharray="24.9 24.9" fill="none"/>
<path d="M1006.1,182.7 C1011.3,177.6 1027.0,163.0 1037.5,152.2 C1048.0,141.4 1058.6,128.0 1068.9,118.1 C1079.2,108.2 1089.8,99.1 1099.4,93.0 C1109.0,86.9 1117.6,83.2 1126.3,81.4 C1135.0,79.6 1142.7,80.7 1151.4,82.3 C1160.1,83.9 1171.0,87.3 1178.3,91.2 C1185.6,95.1 1187.2,98.7 1195.2,105.6 C1203.2,112.5 1215.8,122.0 1226.3,132.5 C1236.8,143.0 1247.4,158.2 1258.0,168.4 C1268.6,178.6 1278.0,186.6 1289.8,193.5 C1301.6,200.4 1318.4,207.2 1328.9,209.6 C1339.4,212.0 1343.7,211.4 1352.7,207.8 C1361.7,204.2 1377.7,191.4 1382.7,188.1" fill="none" stroke="#7A2805" stroke-width="6.3" stroke-linecap="round" stroke-linejoin="round"/>
<path d="M1006.1,293.9 C1011.2,292.4 1026.6,288.0 1037.0,284.9 C1047.4,281.8 1058.0,278.1 1068.6,275.1 C1079.1,272.1 1089.8,269.1 1100.3,267.0 C1110.8,264.9 1123.2,263.2 1131.7,262.5 C1140.2,261.8 1142.6,261.8 1151.4,262.5 C1160.2,263.2 1175.5,265.2 1184.6,267.0 C1193.7,268.8 1199.0,270.9 1206.0,273.3 C1213.0,275.7 1217.6,278.5 1226.3,281.3 C1235.0,284.1 1247.4,287.6 1258.0,290.3 C1268.6,293.0 1279.3,295.4 1289.8,297.5 C1300.3,299.6 1310.6,302.1 1321.1,302.9 C1331.6,303.6 1342.4,302.9 1352.7,302.0 C1363.0,301.1 1377.7,298.2 1382.7,297.5" fill="none" stroke="#7A2805" stroke-width="6.3" stroke-linecap="round" stroke-linejoin="round"/>
<g fill="#7A2805" stroke="#1c1c1c" stroke-width="1.2"><rect x="998.5" y="182.6" width="14.6" height="14.6"/><rect x="1030.2" y="143.1" width="14.6" height="14.6"/><rect x="1061.6" y="97.4" width="14.6" height="14.6"/><rect x="1092.1" y="101.0" width="14.6" height="14.6"/><rect x="1103.7" y="101.9" width="14.6" height="14.6"/><rect x="1114.0" y="63.0" width="14.6" height="14.6"/><rect x="1124.7" y="81.8" width="14.6" height="14.6"/><rect x="1135.1" y="64.2" width="14.6" height="14.6"/><rect x="1145.0" y="91.1" width="14.6" height="14.6"/><rect x="1156.3" y="66.9" width="14.6" height="14.6"/><rect x="1166.5" y="83.6" width="14.6" height="14.6"/><rect x="1177.3" y="102.8" width="14.6" height="14.6"/><rect x="1187.9" y="95.6" width="14.6" height="14.6"/><rect x="1198.7" y="118.9" width="14.6" height="14.6"/><rect x="1219.0" y="121.6" width="14.6" height="14.6"/><rect x="1250.7" y="159.3" width="14.6" height="14.6"/><rect x="1282.5" y="167.3" width="14.6" height="14.6"/><rect x="1313.8" y="219.3" width="14.6" height="14.6"/><rect x="1345.4" y="199.6" width="14.6" height="14.6"/></g>
<path d="M1037.0,266.9 L1039.4,273.7 L1046.5,273.8 L1040.8,278.1 L1042.9,285.0 L1037.0,280.9 L1031.1,285.0 L1033.2,278.1 L1027.5,273.8 L1034.6,273.7Z M1068.6,273.1 L1071.0,279.9 L1078.1,280.0 L1072.4,284.3 L1074.5,291.2 L1068.6,287.1 L1062.7,291.2 L1064.8,284.3 L1059.1,280.0 L1066.2,279.9Z M1100.3,267.8 L1102.7,274.6 L1109.8,274.7 L1104.1,279.0 L1106.2,285.9 L1100.3,281.8 L1094.4,285.9 L1096.5,279.0 L1090.8,274.7 L1097.9,274.6Z M1131.7,266.0 L1134.1,272.8 L1141.2,272.9 L1135.5,277.2 L1137.6,284.1 L1131.7,280.0 L1125.8,284.1 L1127.9,277.2 L1122.2,272.9 L1129.3,272.8Z M1142.4,257.9 L1144.8,264.7 L1151.9,264.8 L1146.2,269.1 L1148.3,276.0 L1142.4,271.9 L1136.5,276.0 L1138.6,269.1 L1132.9,264.8 L1140.0,264.7Z M1152.8,240.9 L1155.2,247.7 L1162.3,247.8 L1156.6,252.1 L1158.7,259.0 L1152.8,254.9 L1146.9,259.0 L1149.0,252.1 L1143.3,247.8 L1150.4,247.7Z M1163.1,252.5 L1165.5,259.3 L1172.6,259.4 L1166.9,263.7 L1169.0,270.6 L1163.1,266.5 L1157.2,270.6 L1159.3,263.7 L1153.6,259.4 L1160.7,259.3Z M1173.8,257.0 L1176.2,263.8 L1183.3,263.9 L1177.6,268.2 L1179.7,275.1 L1173.8,271.0 L1167.9,275.1 L1170.0,268.2 L1164.3,263.9 L1171.4,263.8Z M1184.6,250.7 L1187.0,257.5 L1194.1,257.6 L1188.4,261.9 L1190.5,268.8 L1184.6,264.7 L1178.7,268.8 L1180.8,261.9 L1175.1,257.6 L1182.2,257.5Z M1196.1,264.2 L1198.5,271.0 L1205.6,271.1 L1199.9,275.4 L1202.0,282.3 L1196.1,278.2 L1190.2,282.3 L1192.3,275.4 L1186.6,271.1 L1193.7,271.0Z M1206.0,260.6 L1208.4,267.4 L1215.5,267.5 L1209.8,271.8 L1211.9,278.7 L1206.0,274.6 L1200.1,278.7 L1202.2,271.8 L1196.5,267.5 L1203.6,267.4Z M1216.8,252.5 L1219.2,259.3 L1226.3,259.4 L1220.6,263.7 L1222.7,270.6 L1216.8,266.5 L1210.9,270.6 L1213.0,263.7 L1207.3,259.4 L1214.4,259.3Z M1226.3,275.8 L1228.7,282.6 L1235.8,282.7 L1230.1,287.0 L1232.2,293.9 L1226.3,289.8 L1220.4,293.9 L1222.5,287.0 L1216.8,282.7 L1223.9,282.6Z M1258.0,279.4 L1260.4,286.2 L1267.5,286.3 L1261.8,290.6 L1263.9,297.5 L1258.0,293.4 L1252.1,297.5 L1254.2,290.6 L1248.5,286.3 L1255.6,286.2Z M1289.8,231.9 L1292.2,238.7 L1299.3,238.8 L1293.6,243.1 L1295.7,250.0 L1289.8,245.9 L1283.9,250.0 L1286.0,243.1 L1280.3,238.8 L1287.4,238.7Z M1321.1,288.4 L1323.5,295.2 L1330.6,295.3 L1324.9,299.6 L1327.0,306.5 L1321.1,302.4 L1315.2,306.5 L1317.3,299.6 L1311.6,295.3 L1318.7,295.2Z M1352.7,300.9 L1355.1,307.7 L1362.2,307.8 L1356.5,312.1 L1358.6,319.0 L1352.7,314.9 L1346.8,319.0 L1348.9,312.1 L1343.2,307.8 L1350.3,307.7Z" fill="#7A2805" stroke="#1c1c1c" stroke-width="1.2" stroke-linejoin="miter"/>
<path d="M1006.0,52.6 V359.2 H1384.6" fill="none" stroke="#262626" stroke-width="1.3"/>
<path d="M1006.0,76.0h4.5M1006.0,170.5h4.5M1006.0,265.2h4.5" stroke="#262626" stroke-width="1.3" fill="none"/>
<path d="M341.3,687.5 V406.2" stroke="#FBA866" stroke-opacity="0.62" stroke-width="6" stroke-dasharray="22.6 25.0" fill="none"/>
<path d="M353.5,687.5 V406.2" stroke="#FBA866" stroke-opacity="0.62" stroke-width="6" stroke-dasharray="4.8 7.3" fill="none"/>
<path d="M160.5,465.6 C163.1,465.9 171.0,465.9 176.1,467.2 C181.2,468.5 186.1,470.2 191.3,473.4 C196.5,476.6 202.1,481.8 207.2,486.6 C212.3,491.4 216.8,495.5 222.0,502.2 C227.2,508.9 233.0,519.2 238.3,527.0 C243.6,534.8 248.6,541.0 253.8,548.8 C259.0,556.6 264.2,565.9 269.4,573.7 C274.6,581.5 279.7,588.4 284.9,595.4 C290.1,602.4 295.3,609.7 300.5,615.7 C305.7,621.7 310.8,627.3 316.0,631.2 C321.2,635.1 326.5,638.1 331.5,639.0 C336.5,639.9 341.0,638.1 346.1,636.6 C351.2,635.1 356.9,633.4 362.3,630.2 C367.7,627.0 373.0,623.1 378.4,617.2 C383.8,611.3 389.2,602.1 394.6,594.6 C400.0,587.1 405.3,580.1 410.7,572.0 C416.1,563.9 421.5,554.8 426.9,546.2 C432.3,537.6 437.6,528.5 443.0,520.4 C448.4,512.3 453.7,504.8 459.1,497.8 C464.5,490.8 469.9,484.0 475.3,478.4 C480.7,472.8 486.0,467.7 491.4,463.9 C496.8,460.1 501.6,457.5 507.6,455.8 C513.7,454.1 524.4,454.2 527.7,453.9" fill="none" stroke="#FBA866" stroke-width="6.3" stroke-linecap="round" stroke-linejoin="round"/>
<path d="M160.5,548.8 C163.1,548.5 170.9,547.0 176.1,547.3 C181.3,547.6 186.4,548.8 191.6,550.4 C196.8,552.0 202.1,554.3 207.2,556.6 C212.3,558.9 216.8,561.0 222.0,564.4 C227.2,567.8 233.0,572.4 238.3,576.8 C243.6,581.2 248.6,586.1 253.8,590.8 C259.0,595.5 264.2,600.1 269.4,604.8 C274.6,609.5 279.7,614.1 284.9,618.8 C290.1,623.5 295.3,628.4 300.5,632.8 C305.7,637.2 310.8,641.6 316.0,645.2 C321.2,648.8 326.5,652.3 331.5,654.5 C336.5,656.7 340.6,658.5 346.1,658.5 C351.6,658.5 359.3,656.7 364.7,654.4 C370.1,652.1 373.4,648.2 378.4,644.7 C383.4,641.2 389.2,637.7 394.6,633.4 C400.0,629.1 405.3,624.0 410.7,618.9 C416.1,613.8 421.5,607.8 426.9,602.7 C432.3,597.6 437.6,592.8 443.0,588.2 C448.4,583.6 453.7,579.3 459.1,575.3 C464.5,571.3 469.9,567.5 475.3,564.0 C480.7,560.5 486.0,557.3 491.4,554.3 C496.8,551.3 501.6,548.2 507.6,546.2 C513.7,544.2 524.4,542.9 527.7,542.2" fill="none" stroke="#FBA866" stroke-width="6.3" stroke-linecap="round" stroke-linejoin="round"/>
<g fill="#FBA866" stroke="#1c1c1c" stroke-width="1.2"><rect x="153.2" y="462.2" width="14.6" height="14.6"/><rect x="184.0" y="472.8" width="14.6" height="14.6"/><rect x="214.7" y="499.2" width="14.6" height="14.6"/><rect x="245.0" y="543.8" width="14.6" height="14.6"/><rect x="255.8" y="552.4" width="14.6" height="14.6"/><rect x="265.9" y="568.7" width="14.6" height="14.6"/><rect x="276.0" y="588.1" width="14.6" height="14.6"/><rect x="286.2" y="606.0" width="14.6" height="14.6"/><rect x="296.3" y="615.4" width="14.6" height="14.6"/><rect x="306.8" y="627.8" width="14.6" height="14.6"/><rect x="317.2" y="638.7" width="14.6" height="14.6"/><rect x="327.3" y="645.7" width="14.6" height="14.6"/><rect x="337.5" y="640.2" width="14.6" height="14.6"/><rect x="346.9" y="634.2" width="14.6" height="14.6"/><rect x="367.9" y="603.5" width="14.6" height="14.6"/><rect x="398.6" y="561.5" width="14.6" height="14.6"/><rect x="429.2" y="520.4" width="14.6" height="14.6"/><rect x="459.9" y="487.3" width="14.6" height="14.6"/><rect x="490.6" y="466.6" width="14.6" height="14.6"/></g>
<path d="M160.5,541.1 L162.9,547.9 L170.0,548.0 L164.3,552.3 L166.4,559.2 L160.5,555.1 L154.6,559.2 L156.7,552.3 L151.0,548.0 L158.1,547.9Z M191.3,545.0 L193.7,551.8 L200.8,551.9 L195.1,556.2 L197.2,563.1 L191.3,559.0 L185.4,563.1 L187.5,556.2 L181.8,551.9 L188.9,551.8Z M222.0,556.7 L224.4,563.5 L231.5,563.6 L225.8,567.9 L227.9,574.8 L222.0,570.7 L216.1,574.8 L218.2,567.9 L212.5,563.6 L219.6,563.5Z M252.3,579.2 L254.7,586.0 L261.8,586.1 L256.1,590.4 L258.2,597.3 L252.3,593.2 L246.4,597.3 L248.5,590.4 L242.8,586.1 L249.9,586.0Z M262.8,585.4 L265.2,592.2 L272.3,592.3 L266.6,596.6 L268.7,603.5 L262.8,599.4 L256.9,603.5 L259.0,596.6 L253.3,592.3 L260.4,592.2Z M272.8,597.9 L275.2,604.7 L282.3,604.8 L276.6,609.1 L278.7,616.0 L272.8,611.9 L266.9,616.0 L269.0,609.1 L263.3,604.8 L270.4,604.7Z M282.6,606.4 L285.0,613.2 L292.1,613.3 L286.4,617.6 L288.5,624.5 L282.6,620.4 L276.7,624.5 L278.8,617.6 L273.1,613.3 L280.2,613.2Z M292.4,615.8 L294.8,622.6 L301.9,622.7 L296.2,627.0 L298.3,633.9 L292.4,629.8 L286.5,633.9 L288.6,627.0 L282.9,622.7 L290.0,622.6Z M302.3,625.1 L304.7,631.9 L311.8,632.0 L306.1,636.3 L308.2,643.2 L302.3,639.1 L296.4,643.2 L298.5,636.3 L292.8,632.0 L299.9,631.9Z M312.9,635.2 L315.3,642.0 L322.4,642.1 L316.7,646.4 L318.8,653.3 L312.9,649.2 L307.0,653.3 L309.1,646.4 L303.4,642.1 L310.5,642.0Z M323.0,646.1 L325.4,652.9 L332.5,653.0 L326.8,657.3 L328.9,664.2 L323.0,660.1 L317.1,664.2 L319.2,657.3 L313.5,653.0 L320.6,652.9Z M333.9,653.1 L336.3,659.9 L343.4,660.0 L337.7,664.3 L339.8,671.2 L333.9,667.1 L328.0,671.2 L330.1,664.3 L324.4,660.0 L331.5,659.9Z M344.8,650.0 L347.2,656.8 L354.3,656.9 L348.6,661.2 L350.7,668.1 L344.8,664.0 L338.9,668.1 L341.0,661.2 L335.3,656.9 L342.4,656.8Z M355.0,647.6 L357.4,654.4 L364.5,654.5 L358.8,658.8 L360.9,665.7 L355.0,661.6 L349.1,665.7 L351.2,658.8 L345.5,654.5 L352.6,654.4Z M364.7,644.4 L367.1,651.2 L374.2,651.3 L368.5,655.6 L370.6,662.5 L364.7,658.4 L358.8,662.5 L360.9,655.6 L355.2,651.3 L362.3,651.2Z M405.9,609.7 L408.3,616.5 L415.4,616.6 L409.7,620.9 L411.8,627.8 L405.9,623.7 L400.0,627.8 L402.1,620.9 L396.4,616.6 L403.5,616.5Z M436.5,582.2 L438.9,589.0 L446.0,589.1 L440.3,593.4 L442.4,600.3 L436.5,596.2 L430.6,600.3 L432.7,593.4 L427.0,589.1 L434.1,589.0Z M467.2,561.2 L469.6,568.0 L476.7,568.1 L471.0,572.4 L473.1,579.3 L467.2,575.2 L461.3,579.3 L463.4,572.4 L457.7,568.1 L464.8,568.0Z M497.9,547.5 L500.3,554.3 L507.4,554.4 L501.7,558.7 L503.8,565.6 L497.9,561.5 L492.0,565.6 L494.1,558.7 L488.4,554.4 L495.5,554.3Z" fill="#FBA866" stroke="#1c1c1c" stroke-width="1.2" stroke-linejoin="miter"/>
<path d="M160.5,406.2 V687.5 H528.2" fill="none" stroke="#262626" stroke-width="1.3"/>
<path d="M160.5,423.1h4.5M160.5,489.4h4.5M160.5,555.7h4.5M160.5,621.7h4.5M252.3,687.5v-4.5M344.5,687.5v-4.5M436.5,687.5v-4.5M528.2,687.5v-4.5" stroke="#262626" stroke-width="1.3" fill="none"/>
<path d="M748.5,688.0 V406.0" stroke="#DC4B05" stroke-opacity="0.62" stroke-width="6" stroke-dasharray="4.8 7.3" fill="none"/>
<path d="M756.8,688.0 V406.0" stroke="#DC4B05" stroke-opacity="0.62" stroke-width="6" stroke-dasharray="22.6 25.0" fill="none"/>
<path d="M578.7,437.8 C581.2,438.6 588.9,440.2 594.0,442.6 C599.1,445.0 604.3,448.0 609.4,452.3 C614.5,456.6 619.6,461.9 624.7,468.4 C629.8,474.8 635.0,483.5 640.1,491.0 C645.2,498.5 650.3,506.1 655.4,513.6 C660.5,521.1 665.6,528.7 670.7,536.2 C675.8,543.7 680.9,551.3 686.1,558.8 C691.4,566.3 696.8,574.4 702.2,581.4 C707.6,588.4 713.0,595.4 718.4,600.8 C723.8,606.2 729.1,610.9 734.5,613.7 C739.9,616.5 745.3,617.3 750.6,617.7 C755.9,618.1 760.8,617.9 766.1,616.1 C771.4,614.4 776.9,611.4 782.3,607.2 C787.7,603.0 793.0,597.3 798.4,591.1 C803.8,584.9 809.2,577.6 814.6,570.1 C820.0,562.6 825.3,554.0 830.7,545.9 C836.1,537.8 841.5,529.8 846.9,521.7 C852.3,513.6 857.6,505.3 863.0,497.5 C868.4,489.7 873.7,482.2 879.1,474.9 C884.5,467.6 889.9,459.8 895.3,453.9 C900.7,448.0 906.0,443.0 911.4,439.4 C916.8,435.8 921.8,433.6 927.6,432.1 C933.4,430.6 943.0,430.8 946.1,430.5" fill="none" stroke="#DC4B05" stroke-width="6.3" stroke-linecap="round" stroke-linejoin="round"/>
<path d="M578.7,562.9 C581.2,563.2 588.9,563.4 594.0,564.5 C599.1,565.6 604.3,567.1 609.4,569.3 C614.5,571.4 619.6,574.4 624.7,577.4 C629.8,580.4 635.0,583.7 640.1,587.1 C645.2,590.5 650.3,594.0 655.4,597.6 C660.5,601.2 665.6,605.1 670.7,608.9 C675.8,612.7 680.9,616.7 686.1,620.2 C691.4,623.7 696.8,627.1 702.2,629.8 C707.6,632.5 713.0,634.7 718.4,636.3 C723.8,637.9 729.2,639.1 734.5,639.5 C739.8,639.9 744.7,639.3 750.0,638.5 C755.3,637.7 760.7,636.0 766.1,634.7 C771.5,633.4 776.9,632.6 782.3,630.7 C787.7,628.8 793.0,626.4 798.4,623.4 C803.8,620.4 809.2,616.7 814.6,612.9 C820.0,609.1 825.3,604.8 830.7,600.8 C836.1,596.8 841.5,592.5 846.9,588.7 C852.3,584.9 857.6,581.6 863.0,578.2 C868.4,574.8 873.7,571.5 879.1,568.5 C884.5,565.5 889.9,562.5 895.3,560.4 C900.7,558.2 906.0,556.7 911.4,555.6 C916.8,554.5 921.8,553.7 927.6,554.0 C933.4,554.3 943.0,556.7 946.1,557.2" fill="none" stroke="#DC4B05" stroke-width="6.3" stroke-linecap="round" stroke-linejoin="round"/>
<g fill="#DC4B05" stroke="#1c1c1c" stroke-width="1.2"><rect x="571.4" y="432.1" width="14.6" height="14.6"/><rect x="602.1" y="448.2" width="14.6" height="14.6"/><rect x="632.8" y="478.9" width="14.6" height="14.6"/><rect x="663.4" y="528.9" width="14.6" height="14.6"/><rect x="674.2" y="541.0" width="14.6" height="14.6"/><rect x="684.4" y="558.8" width="14.6" height="14.6"/><rect x="694.6" y="575.7" width="14.6" height="14.6"/><rect x="704.6" y="589.5" width="14.6" height="14.6"/><rect x="714.6" y="600.8" width="14.6" height="14.6"/><rect x="734.5" y="620.1" width="14.6" height="14.6"/><rect x="744.9" y="620.9" width="14.6" height="14.6"/><rect x="754.6" y="620.1" width="14.6" height="14.6"/><rect x="765.2" y="611.2" width="14.6" height="14.6"/><rect x="775.8" y="599.9" width="14.6" height="14.6"/><rect x="786.3" y="584.6" width="14.6" height="14.6"/><rect x="816.6" y="541.0" width="14.6" height="14.6"/><rect x="847.6" y="493.4" width="14.6" height="14.6"/><rect x="878.3" y="461.1" width="14.6" height="14.6"/><rect x="909.0" y="444.2" width="14.6" height="14.6"/></g>
<path d="M578.7,557.7 L581.1,564.5 L588.2,564.6 L582.5,568.9 L584.6,575.8 L578.7,571.7 L572.8,575.8 L574.9,568.9 L569.2,564.6 L576.3,564.5Z M609.4,558.5 L611.8,565.3 L618.9,565.4 L613.2,569.7 L615.3,576.6 L609.4,572.5 L603.5,576.6 L605.6,569.7 L599.9,565.4 L607.0,565.3Z M640.1,563.3 L642.5,570.1 L649.6,570.2 L643.9,574.5 L646.0,581.4 L640.1,577.3 L634.2,581.4 L636.3,574.5 L630.6,570.2 L637.7,570.1Z M670.7,586.0 L673.1,592.8 L680.2,592.9 L674.5,597.2 L676.6,604.1 L670.7,600.0 L664.8,604.1 L666.9,597.2 L661.2,592.9 L668.3,592.8Z M680.9,612.6 L683.3,619.4 L690.4,619.5 L684.7,623.8 L686.8,630.7 L680.9,626.6 L675.0,630.7 L677.1,623.8 L671.4,619.5 L678.5,619.4Z M690.9,619.0 L693.3,625.8 L700.4,625.9 L694.7,630.2 L696.8,637.1 L690.9,633.0 L685.0,637.1 L687.1,630.2 L681.4,625.9 L688.5,625.8Z M701.1,625.5 L703.5,632.3 L710.6,632.4 L704.9,636.7 L707.0,643.6 L701.1,639.5 L695.2,643.6 L697.3,636.7 L691.6,632.4 L698.7,632.3Z M711.1,630.3 L713.5,637.1 L720.6,637.2 L714.9,641.5 L717.0,648.4 L711.1,644.3 L705.2,648.4 L707.3,641.5 L701.6,637.2 L708.7,637.1Z M721.3,632.0 L723.7,638.8 L730.8,638.9 L725.1,643.2 L727.2,650.1 L721.3,646.0 L715.4,650.1 L717.5,643.2 L711.8,638.9 L718.9,638.8Z M731.3,630.3 L733.7,637.1 L740.8,637.2 L735.1,641.5 L737.2,648.4 L731.3,644.3 L725.4,648.4 L727.5,641.5 L721.8,637.2 L728.9,637.1Z M741.8,631.1 L744.2,637.9 L751.3,638.0 L745.6,642.3 L747.7,649.2 L741.8,645.1 L735.9,649.2 L738.0,642.3 L732.3,638.0 L739.4,637.9Z M752.2,629.5 L754.6,636.3 L761.7,636.4 L756.0,640.7 L758.1,647.6 L752.2,643.5 L746.3,647.6 L748.4,640.7 L742.7,636.4 L749.8,636.3Z M762.7,629.5 L765.1,636.3 L772.2,636.4 L766.5,640.7 L768.6,647.6 L762.7,643.5 L756.8,647.6 L758.9,640.7 L753.2,636.4 L760.3,636.3Z M773.4,626.3 L775.8,633.1 L782.9,633.2 L777.2,637.5 L779.3,644.4 L773.4,640.3 L767.5,644.4 L769.6,637.5 L763.9,633.2 L771.0,633.1Z M783.9,622.3 L786.3,629.1 L793.4,629.2 L787.7,633.5 L789.8,640.4 L783.9,636.3 L778.0,640.4 L780.1,633.5 L774.4,629.2 L781.5,629.1Z M793.6,619.0 L796.0,625.8 L803.1,625.9 L797.4,630.2 L799.5,637.1 L793.6,633.0 L787.7,637.1 L789.8,630.2 L784.1,625.9 L791.2,625.8Z M803.3,611.0 L805.7,617.8 L812.8,617.9 L807.1,622.2 L809.2,629.1 L803.3,625.0 L797.4,629.1 L799.5,622.2 L793.8,617.9 L800.9,617.8Z M813.8,603.7 L816.2,610.5 L823.3,610.6 L817.6,614.9 L819.7,621.8 L813.8,617.7 L807.9,621.8 L810.0,614.9 L804.3,610.6 L811.4,610.5Z M823.9,584.3 L826.3,591.1 L833.4,591.2 L827.7,595.5 L829.8,602.4 L823.9,598.3 L818.0,602.4 L820.1,595.5 L814.4,591.2 L821.5,591.1Z M854.6,569.8 L857.0,576.6 L864.1,576.7 L858.4,581.0 L860.5,587.9 L854.6,583.8 L848.7,587.9 L850.8,581.0 L845.1,576.7 L852.2,576.6Z M885.3,558.5 L887.7,565.3 L894.8,565.4 L889.1,569.7 L891.2,576.6 L885.3,572.5 L879.4,576.6 L881.5,569.7 L875.8,565.4 L882.9,565.3Z M915.5,557.7 L917.9,564.5 L925.0,564.6 L919.3,568.9 L921.4,575.8 L915.5,571.7 L909.6,575.8 L911.7,568.9 L906.0,564.6 L913.1,564.5Z" fill="#DC4B05" stroke="#1c1c1c" stroke-width="1.2" stroke-linejoin="miter"/>
<path d="M579.0,406.0 V688.0 H946.1" fill="none" stroke="#262626" stroke-width="1.3"/>
<path d="M579.0,422.4h4.5M579.0,489.4h4.5M579.0,555.6h4.5M579.0,621.8h4.5M670.7,688.0v-4.5M762.7,688.0v-4.5M854.6,688.0v-4.5M946.1,688.0v-4.5" stroke="#262626" stroke-width="1.3" fill="none"/>
<path d="M1164.0,685.6 V404.5" stroke="#7A2805" stroke-opacity="0.62" stroke-width="6" stroke-dasharray="22.6 25.0" fill="none"/>
<path d="M1170.7,685.6 V404.5" stroke="#7A2805" stroke-opacity="0.62" stroke-width="6" stroke-dasharray="4.8 7.3" fill="none"/>
<path d="M1008.4,422.5 C1010.9,425.1 1018.3,432.7 1023.4,438.4 C1028.5,444.1 1033.8,450.5 1038.8,456.9 C1043.8,463.3 1048.5,470.1 1053.6,476.9 C1058.7,483.7 1064.2,490.6 1069.5,497.9 C1074.8,505.1 1080.3,513.0 1085.4,520.4 C1090.5,527.8 1095.1,535.5 1100.1,542.2 C1105.1,548.9 1110.2,554.5 1115.5,560.6 C1120.8,566.7 1126.6,574.0 1132.2,579.0 C1137.8,584.0 1143.3,588.1 1148.9,590.7 C1154.5,593.4 1160.5,594.9 1165.7,594.9 C1170.9,594.9 1174.7,593.8 1180.0,590.5 C1185.3,587.2 1191.5,581.4 1197.3,575.1 C1203.1,568.8 1208.9,560.4 1214.7,552.6 C1220.5,544.8 1226.2,536.4 1232.0,528.3 C1237.8,520.2 1243.6,512.1 1249.4,504.0 C1255.2,495.9 1260.9,488.2 1266.7,479.8 C1272.5,471.4 1278.2,461.6 1284.0,453.8 C1289.8,446.0 1295.6,439.0 1301.4,432.9 C1307.2,426.8 1312.9,421.3 1318.7,417.3 C1324.5,413.3 1331.5,410.3 1336.1,408.7 C1340.7,407.1 1342.2,407.2 1346.5,407.8 C1350.8,408.4 1357.3,410.1 1362.1,412.1 C1366.9,414.1 1372.9,418.6 1375.1,419.9" fill="none" stroke="#7A2805" stroke-width="6.3" stroke-linecap="round" stroke-linejoin="round"/>
<path d="M1008.4,515.4 C1010.9,516.2 1018.3,518.2 1023.4,520.4 C1028.5,522.6 1033.8,525.7 1038.8,528.8 C1043.8,531.9 1048.5,535.0 1053.6,538.8 C1058.7,542.6 1064.2,547.2 1069.5,551.4 C1074.8,555.6 1080.3,560.2 1085.4,564.0 C1090.5,567.8 1095.1,570.7 1100.1,574.0 C1105.1,577.3 1110.2,580.9 1115.5,584.0 C1120.8,587.1 1126.6,589.9 1132.2,592.4 C1137.8,594.9 1143.3,597.4 1148.9,599.1 C1154.5,600.8 1160.5,601.7 1165.7,602.4 C1170.9,603.1 1174.7,604.4 1180.0,603.5 C1185.3,602.6 1191.5,599.6 1197.3,596.8 C1203.1,593.9 1208.9,590.0 1214.7,586.4 C1220.5,582.8 1226.2,579.3 1232.0,575.1 C1237.8,570.9 1243.6,565.9 1249.4,561.3 C1255.2,556.7 1260.9,551.9 1266.7,547.4 C1272.5,542.9 1278.2,538.4 1284.0,534.4 C1289.8,530.4 1295.6,526.4 1301.4,523.1 C1307.2,519.8 1312.9,516.7 1318.7,514.4 C1324.5,512.1 1330.3,510.2 1336.1,509.2 C1341.9,508.2 1346.9,508.0 1353.4,508.4 C1359.9,508.8 1371.5,511.2 1375.1,511.8" fill="none" stroke="#7A2805" stroke-width="6.3" stroke-linecap="round" stroke-linejoin="round"/>
<g fill="#7A2805" stroke="#1c1c1c" stroke-width="1.2"><rect x="1001.1" y="416.4" width="14.6" height="14.6"/><rect x="1031.5" y="449.6" width="14.6" height="14.6"/><rect x="1062.2" y="490.6" width="14.6" height="14.6"/><rect x="1092.8" y="535.7" width="14.6" height="14.6"/><rect x="1103.2" y="547.4" width="14.6" height="14.6"/><rect x="1114.0" y="559.2" width="14.6" height="14.6"/><rect x="1124.1" y="577.6" width="14.6" height="14.6"/><rect x="1134.6" y="588.4" width="14.6" height="14.6"/><rect x="1144.2" y="596.8" width="14.6" height="14.6"/><rect x="1154.2" y="605.2" width="14.6" height="14.6"/><rect x="1164.2" y="601.8" width="14.6" height="14.6"/><rect x="1174.3" y="587.6" width="14.6" height="14.6"/><rect x="1185.2" y="572.5" width="14.6" height="14.6"/><rect x="1195.2" y="557.5" width="14.6" height="14.6"/><rect x="1216.1" y="526.2" width="14.6" height="14.6"/><rect x="1246.4" y="484.6" width="14.6" height="14.6"/><rect x="1276.7" y="452.5" width="14.6" height="14.6"/><rect x="1308.0" y="423.6" width="14.6" height="14.6"/><rect x="1338.3" y="410.9" width="14.6" height="14.6"/></g>
<path d="M1008.4,507.1 L1010.8,513.9 L1017.9,514.0 L1012.2,518.3 L1014.3,525.2 L1008.4,521.1 L1002.5,525.2 L1004.6,518.3 L998.9,514.0 L1006.0,513.9Z M1038.8,523.0 L1041.2,529.8 L1048.3,529.9 L1042.6,534.2 L1044.7,541.1 L1038.8,537.0 L1032.9,541.1 L1035.0,534.2 L1029.3,529.9 L1036.4,529.8Z M1069.5,538.9 L1071.9,545.7 L1079.0,545.8 L1073.3,550.1 L1075.4,557.0 L1069.5,552.9 L1063.6,557.0 L1065.7,550.1 L1060.0,545.8 L1067.1,545.7Z M1100.1,559.8 L1102.5,566.6 L1109.6,566.7 L1103.9,571.0 L1106.0,577.9 L1100.1,573.8 L1094.2,577.9 L1096.3,571.0 L1090.6,566.7 L1097.7,566.6Z M1110.5,564.8 L1112.9,571.6 L1120.0,571.7 L1114.3,576.0 L1116.4,582.9 L1110.5,578.8 L1104.6,582.9 L1106.7,576.0 L1101.0,571.7 L1108.1,571.6Z M1120.5,577.4 L1122.9,584.2 L1130.0,584.3 L1124.3,588.6 L1126.4,595.5 L1120.5,591.4 L1114.6,595.5 L1116.7,588.6 L1111.0,584.3 L1118.1,584.2Z M1130.0,585.0 L1132.4,591.8 L1139.5,591.9 L1133.8,596.2 L1135.9,603.1 L1130.0,599.0 L1124.1,603.1 L1126.2,596.2 L1120.5,591.9 L1127.6,591.8Z M1140.0,592.4 L1142.4,599.2 L1149.5,599.3 L1143.8,603.6 L1145.9,610.5 L1140.0,606.4 L1134.1,610.5 L1136.2,603.6 L1130.5,599.3 L1137.6,599.2Z M1150.0,596.0 L1152.4,602.8 L1159.5,602.9 L1153.8,607.2 L1155.9,614.1 L1150.0,610.0 L1144.1,614.1 L1146.2,607.2 L1140.5,602.9 L1147.6,602.8Z M1160.0,597.0 L1162.4,603.8 L1169.5,603.9 L1163.8,608.2 L1165.9,615.1 L1160.0,611.0 L1154.1,615.1 L1156.2,608.2 L1150.5,603.9 L1157.6,603.8Z M1172.0,596.0 L1174.4,602.8 L1181.5,602.9 L1175.8,607.2 L1177.9,614.1 L1172.0,610.0 L1166.1,614.1 L1168.2,607.2 L1162.5,602.9 L1169.6,602.8Z M1184.0,595.0 L1186.4,601.8 L1193.5,601.9 L1187.8,606.2 L1189.9,613.1 L1184.0,609.0 L1178.1,613.1 L1180.2,606.2 L1174.5,601.9 L1181.6,601.8Z M1195.6,590.3 L1198.0,597.1 L1205.1,597.2 L1199.4,601.5 L1201.5,608.4 L1195.6,604.3 L1189.7,608.4 L1191.8,601.5 L1186.1,597.2 L1193.2,597.1Z M1203.4,587.7 L1205.8,594.5 L1212.9,594.6 L1207.2,598.9 L1209.3,605.8 L1203.4,601.7 L1197.5,605.8 L1199.6,598.9 L1193.9,594.6 L1201.0,594.5Z M1212.9,581.6 L1215.3,588.4 L1222.4,588.5 L1216.7,592.8 L1218.8,599.7 L1212.9,595.6 L1207.0,599.7 L1209.1,592.8 L1203.4,588.5 L1210.5,588.4Z M1223.4,572.1 L1225.8,578.9 L1232.9,579.0 L1227.2,583.3 L1229.3,590.2 L1223.4,586.1 L1217.5,590.2 L1219.6,583.3 L1213.9,579.0 L1221.0,578.9Z M1253.7,540.0 L1256.1,546.8 L1263.2,546.9 L1257.5,551.2 L1259.6,558.1 L1253.7,554.0 L1247.8,558.1 L1249.9,551.2 L1244.2,546.9 L1251.3,546.8Z M1284.0,523.5 L1286.4,530.3 L1293.5,530.4 L1287.8,534.7 L1289.9,541.6 L1284.0,537.5 L1278.1,541.6 L1280.2,534.7 L1274.5,530.4 L1281.6,530.3Z M1315.3,509.6 L1317.7,516.4 L1324.8,516.5 L1319.1,520.8 L1321.2,527.7 L1315.3,523.6 L1309.4,527.7 L1311.5,520.8 L1305.8,516.5 L1312.9,516.4Z M1345.6,501.8 L1348.0,508.6 L1355.1,508.7 L1349.4,513.0 L1351.5,519.9 L1345.6,515.8 L1339.7,519.9 L1341.8,513.0 L1336.1,508.7 L1343.2,508.6Z" fill="#7A2805" stroke="#1c1c1c" stroke-width="1.2" stroke-linejoin="miter"/>
<path d="M1008.7,404.5 V685.6 H1376.3" fill="none" stroke="#262626" stroke-width="1.3"/>
<path d="M1008.7,421.0h4.5M1008.7,487.3h4.5M1008.7,553.6h4.5M1008.7,619.7h4.5M1100.3,685.6v-4.5M1192.6,685.6v-4.5M1284.5,685.6v-4.5M1376.3,685.6v-4.5" stroke="#262626" stroke-width="1.3" fill="none"/>
<text x="154.3" y="90.5" text-anchor="end" font-size="33.5" fill="#1e1e1e" stroke="#1e1e1e" stroke-width="0.7">0.09</text>
<text x="154.3" y="184.8" text-anchor="end" font-size="33.5" fill="#1e1e1e" stroke="#1e1e1e" stroke-width="0.7">0.07</text>
<text x="154.3" y="279.2" text-anchor="end" font-size="33.5" fill="#1e1e1e" stroke="#1e1e1e" stroke-width="0.7">0.05</text>
<text x="154.3" y="373.4" text-anchor="end" font-size="33.5" fill="#1e1e1e" stroke="#1e1e1e" stroke-width="0.7">0.03</text>
<text x="150.8" y="435.1" text-anchor="end" font-size="31" fill="#1e1e1e" stroke="#1e1e1e" stroke-width="0.6">4</text>
<text x="150.8" y="501.4" text-anchor="end" font-size="31" fill="#1e1e1e" stroke="#1e1e1e" stroke-width="0.6">3</text>
<text x="150.8" y="567.7" text-anchor="end" font-size="31" fill="#1e1e1e" stroke="#1e1e1e" stroke-width="0.6">2</text>
<text x="150.8" y="633.7" text-anchor="end" font-size="31" fill="#1e1e1e" stroke="#1e1e1e" stroke-width="0.6">1</text>
<text x="150.8" y="699.5" text-anchor="end" font-size="31" fill="#1e1e1e" stroke="#1e1e1e" stroke-width="0.6">0</text>
<text x="160.5" y="728.5" text-anchor="middle" font-size="30" fill="#1e1e1e" stroke="#1e1e1e" stroke-width="0.6">0</text>
<text x="252.3" y="728.5" text-anchor="middle" font-size="30" fill="#1e1e1e" stroke="#1e1e1e" stroke-width="0.6">90</text>
<text x="344.5" y="728.5" text-anchor="middle" font-size="30" fill="#1e1e1e" stroke="#1e1e1e" stroke-width="0.6">180</text>
<text x="436.5" y="728.5" text-anchor="middle" font-size="30" fill="#1e1e1e" stroke="#1e1e1e" stroke-width="0.6">270</text>
<text x="528.2" y="728.5" text-anchor="middle" font-size="30" fill="#1e1e1e" stroke="#1e1e1e" stroke-width="0.6">360</text>
<text x="579.0" y="728.6" text-anchor="middle" font-size="30" fill="#1e1e1e" stroke="#1e1e1e" stroke-width="0.6">0</text>
<text x="670.7" y="728.6" text-anchor="middle" font-size="30" fill="#1e1e1e" stroke="#1e1e1e" stroke-width="0.6">90</text>
<text x="762.7" y="728.6" text-anchor="middle" font-size="30" fill="#1e1e1e" stroke="#1e1e1e" stroke-width="0.6">180</text>
<text x="854.6" y="728.6" text-anchor="middle" font-size="30" fill="#1e1e1e" stroke="#1e1e1e" stroke-width="0.6">270</text>
<text x="946.1" y="728.6" text-anchor="middle" font-size="30" fill="#1e1e1e" stroke="#1e1e1e" stroke-width="0.6">360</text>
<text x="1008.7" y="726.8" text-anchor="middle" font-size="30" fill="#1e1e1e" stroke="#1e1e1e" stroke-width="0.6">0</text>
<text x="1100.3" y="726.8" text-anchor="middle" font-size="30" fill="#1e1e1e" stroke="#1e1e1e" stroke-width="0.6">90</text>
<text x="1192.6" y="726.8" text-anchor="middle" font-size="30" fill="#1e1e1e" stroke="#1e1e1e" stroke-width="0.6">180</text>
<text x="1284.5" y="726.8" text-anchor="middle" font-size="30" fill="#1e1e1e" stroke="#1e1e1e" stroke-width="0.6">270</text>
<text x="1376.3" y="726.8" text-anchor="middle" font-size="30" fill="#1e1e1e" stroke="#1e1e1e" stroke-width="0.6">360</text>
<text x="353.0" y="787.3" text-anchor="middle" font-size="48.6" textLength="134" lengthAdjust="spacingAndGlyphs" fill="#000">Phase</text>
<text x="762.6" y="787.3" text-anchor="middle" font-size="48.6" textLength="134" lengthAdjust="spacingAndGlyphs" fill="#000">Phase</text>
<text x="1191.6" y="787.3" text-anchor="middle" font-size="48.6" textLength="134" lengthAdjust="spacingAndGlyphs" fill="#000">Phase</text>
<text transform="translate(61.9,222.3) rotate(-90)" text-anchor="middle" font-size="49" textLength="227" lengthAdjust="spacingAndGlyphs" fill="#000">Thrust (N)</text>
<text transform="translate(61.9,533.9) rotate(-90)" text-anchor="middle" font-size="49" textLength="233" lengthAdjust="spacingAndGlyphs" fill="#000">Lateral (N)</text>
<rect x="832.6" y="816.7" width="575.6" height="259" rx="3" fill="#fff" stroke="#000" stroke-width="7.4"/>
<rect x="844.1" y="841.3" width="24.1" height="27.2" rx="1.5" fill="none" stroke="#000" stroke-width="3"/>
<path d="M890.3,854.5H965.3" stroke="#000" stroke-width="11.4" stroke-dasharray="11.7 11.9"/>
<path d="M858.5,880.3 L864.1,896.8 L881.6,897.1 L867.6,907.6 L872.8,924.3 L858.5,914.2 L844.2,924.3 L849.4,907.6 L835.4,897.1 L852.9,896.8Z" fill="#fff" stroke="#000" stroke-width="3.2" stroke-linejoin="miter"/>
<path d="M890.3,904H965.3" stroke="#000" stroke-width="11.2" stroke-dasharray="35.5 11.7"/>
<rect x="858.2" y="938" width="98.2" height="17.3" fill="#FBA866"/>
<rect x="858.2" y="986.6" width="98.2" height="17.2" fill="#DC4B05"/>
<rect x="858.2" y="1036.8" width="98.2" height="17.6" fill="#7A2805"/>
<text x="1020" y="863.0" font-size="32" textLength="131.2" lengthAdjust="spacingAndGlyphs" fill="#000"><tspan font-weight="bold" font-style="italic">c</tspan> = 1.0 x</text>
<text x="1020" y="910.2" font-size="32" textLength="131.2" lengthAdjust="spacingAndGlyphs" fill="#000"><tspan font-weight="bold" font-style="italic">c</tspan> = 1.3 x</text>
<text x="1020" y="958.2" font-size="32" textLength="359.6" lengthAdjust="spacingAndGlyphs" fill="#000"><tspan font-weight="bold" font-style="italic">d</tspan> = 30 mm, <tspan font-weight="bold" font-style="italic">h</tspan> = 50 mm</text>
<text x="1020" y="1005.4" font-size="32" textLength="359.6" lengthAdjust="spacingAndGlyphs" fill="#000"><tspan font-weight="bold" font-style="italic">d</tspan> = 80 mm, <tspan font-weight="bold" font-style="italic">h</tspan> = 50 mm</text>
<text x="1020" y="1052.5" font-size="32" textLength="380.3" lengthAdjust="spacingAndGlyphs" fill="#000"><tspan font-weight="bold" font-style="italic">d</tspan> = 30 mm, <tspan font-weight="bold" font-style="italic">h</tspan> = 100 mm</text>
<path d="M0,6 Q0,0 6,0 H78 V82 H0 Z" fill="#000"/>
<text x="43.5" y="67" text-anchor="middle" font-weight="bold" font-size="66" fill="#fff">A</text>
<text transform="scale(1.080,1)" x="183.8 209.3 234.7 259.3 283.0 311.6 337.5 363.0 388.1" y="888.1" text-anchor="middle" font-family="DejaVu Sans, sans-serif" font-weight="bold" font-size="51.5" fill="#f2efe6">c = 1.0 x</text>
<text transform="scale(1.080,1)" x="188.8 215.7 242.9 268.5 292.0 328.4 362.5" y="955.9" text-anchor="middle" font-family="DejaVu Sans, sans-serif" font-weight="bold" font-size="51.5" fill="#f2efe6"><tspan font-family="Liberation Serif, serif" font-size="50">Φ</tspan> = 180</text>
<text x="421.1" y="963.8" text-anchor="middle" font-family="Liberation Sans, sans-serif" font-size="62" fill="#f2efe6">°</text>
<text transform="scale(1.080,1)" x="186.6 212.5 238.4 262.5 286.6 313.9 338.9 365.3 391.7" y="1317.1" text-anchor="middle" font-family="DejaVu Sans, sans-serif" font-weight="bold" font-size="51.5" fill="#f2efe6">c = 1.3 x</text>
<text transform="scale(1.080,1)" x="191.6 218.5 245.6 270.0 294.4 331.2 365.7" y="1382.9" text-anchor="middle" font-family="DejaVu Sans, sans-serif" font-weight="bold" font-size="51.5" fill="#f2efe6"><tspan font-family="Liberation Serif, serif" font-size="50">Φ</tspan> = 180</text>
<text x="424.5" y="1391.2" text-anchor="middle" font-family="Liberation Sans, sans-serif" font-size="62" fill="#f2efe6">°</text>
<rect x="4" y="4" width="1417" height="1665" rx="2" fill="none" stroke="#000" stroke-width="8"/>
</svg>
</body></html>
